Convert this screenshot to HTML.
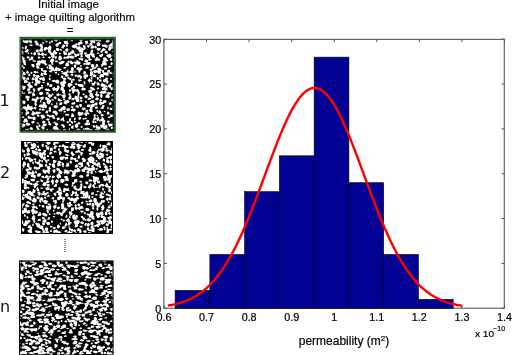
<!DOCTYPE html>
<html><head><meta charset="utf-8"><style>
html,body{margin:0;padding:0;background:#fff;}
svg{display:block;}
</style></head><body>
<svg width="512" height="355" viewBox="0 0 512 355">
<defs><filter id="bl" x="-5%" y="-5%" width="110%" height="110%"><feGaussianBlur stdDeviation="0.3"/></filter></defs>
<rect width="512" height="355" fill="#fff"/>
<g font-family="Liberation Sans, Arial, sans-serif" font-size="11.4" text-anchor="middle" fill="#000" stroke="#000" stroke-width="0.15">
<text x="68.5" y="8">Initial image</text>
<text x="70" y="21.4">+ image quilting algorithm</text>
<text x="70" y="34">=</text>
</g>
<g font-family="DejaVu Sans, sans-serif" font-size="16" fill="#111">
<text x="-0.6" y="105.7">1</text>
<text x="0" y="178.2">2</text>
<text x="0" y="311.5">n</text>
</g>
<rect x="19.5" y="36.8" width="96.4" height="96" fill="#246424"/>
<svg x="21.3" y="39.3" width="92.4" height="91.4"><rect width="100%" height="100%"/><path fill="#fff" filter="url(#bl)" d="M-1.6-1.4l2.9-0.6 0.6 2.4-3.1 0.5zM1.9-0.3l1.2 1.0-0.4 2.5-1.7-0.9zM9.9-0.9l0 1.8-1.4 1.4-1.3-1.7-0.2-2.0 1.0-1.0 1.1 0zM8.6-2.7l1.7 0.3 0.5 3.1-1.8-0.1-1.6-1.4zM20.9-1.0l-0.7 1.5-1.5-0.8 0.3-1.3zM21.2-1.5l3.5 0.2 0.9 2.2-4.4 0zM31.1-1.1l-1.9 1.2-1.5-1.7-0.2-1.4 2.9 0.4zM32.6-2.1l1.7 0.5-0.3 2.0-1.0 0.2-1.7-0.8-0.3-1.0zM32.6 1.3l0.2-2.8 2.9 0.5 1.5 1.4-1.9 2.1zM38.7-2.6l1.2 2.8-1.9 1.0-1.3-2.5zM40.2-2.4l0.8-1.3 3.3 0.3 1.0 1.5-1.6 1.9-2.5-0.5-0.7-0.4zM45.7-2.3l0.6-1.5 1.6 0.8 0.7 2.7-0.7 0.9-1.7 0.6-0.7-1.7zM51.5 0.9l0.4 1.0-1.1 0.1-1.5-0.3-0.1-1.2 1.4-0.2zM54.5-1.4l1.8-2.2 1.9 2.0-2.8 2.0zM61.3 1.5l-2.0 0.8-1.4-1.3 0.2-2.1 2.4-0.3zM63.2-2.1l1.4 1.5-2.0 1.3-0.8-1.9zM68.6 0.2l1.3 0.0 1.3 0.1-0.5 1.2-0.7 1.3-1.5-0.8-0.6-1.3zM73.4-1.2l0.6 2.2-0.2 2.9-1.3-0.3-2.0-1.9 0.9-1.9zM74.2-0.0l1.9-0.1 2.1 0.8-1.1 1.2-1.4 0.4-1.7-1.1zM78.8 0.4l1.1 0.5 0.2 0.5-0.7 0.8-1.0 0.2-0.9-1.1 0.3-0.7zM83.2 0.3l-1.6-1.1 2.0-1.1 1.2 1.3zM84.8 1.3l2.0-1.9 1.7 1.9-1.1 1.9zM91.9-0.4l1.0 0.8-0.8 1.7-1.0 0.1-0.2-1.7zM4.4 3.6l-2.1-0.5-0.7-1.2 2.8-0.9 1.6 1.5zM4.8 4.1l-0.5-1.5 0.2-2.2 1.7-0.2 1.3 0.9-0.3 2.1-1.3 0.5zM10.2 4.5l-2.8-1.7 1.5-2.2 1.8 0.8zM16.4 3.1l-1.1 0.5-1.8-0.2-0.4-1.5 0.7-0.7 1.9 0.3zM17.6 6.1l-2.0 0.4-1.9-1.9 0.9-0.6 1.7-0.8 1.0 0.5 0.2 1.4zM21.1 4.2l-0.8-0.7 0.9-0.8 1.1 0.3 0.9 0.8-1.1 0.7zM25.8 1.4l0.8 1.2-1.9 0.5-0.6-1.2zM27.8 4.3l0-0.9 0.2-1.1 1.1 0.2 0.4 1.0-0.4 0.9zM31.3 3.0l-0.9 0.3-0.7-0.9-0.3-1.1 1.7 0 0.6 0.3 0.2 0.7zM36.8 3.6l0.8 0.5-0.1 1.4-0.4 0.3-1.5 0.1-1.0-0.8 0.5-0.9zM37.8 5.0l-0.9-1.1 0.7-1.3 1.3-0.1 0.8 0.3 0.2 1.3-1.2 0.8zM46.0 2.2l0.0 2.5-1.4 0.3-2.2-1.0 0.6-2.2 1.6-0.5zM44.2 4.6l-0.5-1.8 2.4-1.3 1.3 3.2zM55.8 6.1l-0.6 0.3-1.3-0.9 0.3-1.1 1.4-0.7 0.7 0.8zM56.1 5.5l0.9-2.5 2.1 0 0.3 2.0-1.5 1.5zM58.2 4.2l0.1-1.7 1.2-0.3 1.4 0.1 0.5 1.9-1.0 1.1zM63.6 1.6l2.8-0.3 0.5 2.6-2.4 1.7zM68.7 6.7l-0.8-2.1 0.9-0.9 1.0-0.8 1.5 1.0-0.3 1.9-1.1 1.1zM69.8 3.5l-0.4-1.4 2.3-0.5 1.2 1.6zM79.4 5.1l-1.1 1.7-1.8 0.2-0.8-0.5-0.5-2.6 2.8-1.1zM78.2 5.4l-1.8-0.3 0.6-2.7 1.0 0.9zM84.3 2.4l1.3-2.0 1.2 0.9-0.9 2.3zM88.2 5.1l0.8-0.7 2.2-1.1 1.2 1.6 0.1 1.4-2.4 0.6-1.4-0.4zM90.4 5.8l0.5-4.0 2.9 0.9-0.3 3.4zM0.9 10.0l-1.5-2.3 2.3-0.5 0.9 1.7zM5.9 7.2l-0.3 1.8-1.6 1.5-0.6-1.2 0.1-1.5 0.8-1.7zM8.2 5.1l2.8 0.1 0.2 1.4-2.8 0.2zM19.0 4.5l2.0 0.2 0.3 2.3-2.1 0.5-1.5-1.0zM21.7 7.8l-0.3 1.7-1.8-0.7-0.7-1.3 2.6-1.1zM22.5 9.1l1.0-1.3 1.8-0.2 1.1 0.7-0.2 1.7-1.9 0.4zM28.5 11.6l-2.5-1.7 0.8-2.1 2.0-2.0 1.4 2.4-0.3 2.0zM33.9 6.3l0.6-1.8 2.0 0.1 1.0 1.2-0.9 1.5-0.9 0.5zM42.7 7.7l-0.3 1.6-1.1-0.1-0.8-0.7-0.7-0.9 1.3-0.7 1.1 0.0zM40.9 6.6l0.7-1.6 2.7 0.6-0.8 2.3zM46.3 7.3l-1.5 0.4 0.2-3.1 1.8 0.5zM50.1 7.1l1.7-1.7 2.0 1.4-2.5 1.6zM53.2 9.3l-1.8-1.1 0.5-1.7 1.6-1.9 0.7 0.5 2.0 2.3-1.4 0.7zM55.7 7.6l3.0-0.9 0.9 1.2-1.3 2.2-1.7 0.4-2.1-1.3zM61.8 5.9l1.6 0 0.9 0.5 0.0 1.2-1.8 0.9-0.8-1.0-0.4-0.5zM64.7 8.3l-0.5 1.3-1.4-0.1 0.3-2.6zM66.9 8.8l-1.3-2.0 0.6-1.1 1.5-0.1 0.7 1.9zM69.9 7.2l1.4-1.2 1.2 0.8 0.8 1.1-1.6 1.2-1.9 0.4-0.9-0.9zM73.2 6.9l1.5-0.7 0.9 1.9-0.7 1.4-1.4-0.9zM80.3 5.6l2.0-0.3 3.0-0.1 0.2 1.5-2.1 1.1-2.6-0.3zM85.8 8.5l-1.3-0.1-0.7-0.3-0.1-1.4 1.0-0.5 1.6 0 0 1.7zM89.7 7.1l-1.4 0.7-1.4-0.9 0.5-1.2 1.2-0.8 1.8 1.3zM94.2 7.1l-1.3 2.0-2.6 0.5-0.4-2.5 2.5-1.2zM-0.9 12.3l0.4-1.2 1.9 0.1 0.9 1.9-1.9 1.1-0.9-0.8zM5.2 13.2l-1.7-0.4-0.5-1.2 2.2 0 0.5 0.7zM5.4 9.9l1.2-0.2 1.0 1.3-1.0 1.5-1.1 1.0-1.5-1.5 0.1-0.6zM14.3 12.1l0.3-1.1 1.0-1.0 2.0 0.5-0.1 1.1-0.2 0.9-1.8 0.6zM17.6 11.1l1.4-1.8 1.7 0.3-0.3 3.0-1.9-0.1zM22.1 12.2l-2.5-0.2-1.2-2.1 2.3-2.2zM22.0 10.1l0.5-0.7 1.3 0 0.9 0.5 0.2 0.6-1.2 1.1-0.7-0.4zM29.4 13.0l-1.1 0.6-1.2-0.3-0.4-1.3-0.1-1.1 1.6-0.3 1.3 0.7zM33.1 10.5l1.4 0.9 0.0 1.9-2.3 0.7-0.6-1.7zM35.8 8.4l1.9 0.9 0.5 1.4-1.7 1.5-1.7-1.3-0.3-1.6zM40.6 10.7l-0.6 1.1-1.2-0.7-0.5-0.7 0.5-0.6 0.6-0.3 1.4 0.7zM41.9 12.6l0.1-0.9 1.0-0.2 0.7 0.6 0.2 0.8-0.6 1.1-1.4-0.6zM43.7 10.3l2.2-1.7 1.6 2.2-1.0 1.4-2.0 0.2zM50.4 12.8l1.0-2.6 1.9 1.7-0.8 2.0zM58.5 13.3l-1.5-1.5 0.4-1.6 1.7-0.5 0.9 2.7zM62.4 10.0l-0.5 2.8-1.6 0.7-1.2-1.4-0.4-2.3 1.5-1.8 1.2 0.8zM64.0 9.4l-0.7 1.2-0.9 0.0-0.4-2.7 1.7-0.6zM71.5 10.3l0.5 1.1-0.3 1.0-0.2 0.7-2.2-0.2-0.4-0.9 0.9-1.1zM76.8 8.4l2.8 0.5-0.5 1.6-1.7 1.2-2.2-1.3 0.7-1.7zM80.2 10.6l1.7 0.9-0.9 1.6-1.6 0.3-0.4-1.5zM83.1 9.3l1.2 0.7 0.1 0.7-1.9 1.0-1.6-0.4-0.5-1.5 1.5-1.1zM88.2 7.0l2.2 1.5-0.9 1.8-1.4 1.3-0.9-1.2-0.4-1.3 0.4-1.0zM89.7 9.8l-0.3 1.5-2.4-0.1 0.8-1.9zM92.4 12.9l-1.7-0.1 0.7-1.7 1.3 0.7zM-0.3 14.9l-1.1-1.7 2.0-1.0 1.5 1.1-0.2 1.9zM6.2 14.5l0.3-1.3 1.3-0.2-0.6 1.9zM9.9 12.9l1.2 0.7 0.1 1.0-1.1 0.7-0.9-0.9zM14.7 13.5l0.0 2.0-0.8 0.4-1.2 0.1-0.9-1.1 0.6-1.5 0.6-1.0zM15.9 13.8l1.3-0.6 1.0-0.3 0.8 2.3-0.6 1.0-1.7-0.3zM18.6 15.3l2.9-2.3 2.6 2.5-3.0 1.3zM25.2 14.3l0.4 1.0-0.9 1.3-0.9-1.0 0.3-1.0zM28.0 11.6l1.9 0.4 0.4 1.9-2.2 0.2zM31.0 16.7l-2.6-1.9 1.1-0.8 2.0-0.9 2.0 0.9-0.5 1.3zM36.0 12.8l-0.5 2.1-2.3 0.3 0.3-2.3zM39.3 14.7l-0.5 0.6-1.3-0.3 0.2-1.3 0.5-0.6 1.4 0.8zM45.7 13.3l-0.1 2.1-2.4 0.3-1.2-1.0 0.3-1.9zM48.2 16.1l-1.8-0.2 0.7-2.8 2.4 0.1 1.0 1.5zM51.8 10.4l0.8 3.8-2.5 0.6-1.2-2.3zM53.3 15.6l-0.8-0.6 0.6-1.6 0.9 0.1 0.2 1.2-0.3 0.7zM55.2 15.2l1.2-1.0 1.7 0.1 0.3 1.4-1.6 1.2-1.6-0.6zM62.0 13.7l-0.9 1.7-1.1 0.7-1.1-0.9-0.6-1.1 1.2-1.2 1.8-0.1zM65.4 14.7l-0.8 0.9-1.9-0.8 0.1-1.4 1.7-0.5 1.2 0.5zM69.5 12.6l1.8 0.6 0.1 2.4-1.9 0.6-1.5-1.6zM72.0 14.0l1.6 0.9-1.1 3.0-1.8 0-1.1-3.3zM75.8 13.1l1.2 0.1 1.0 0.7-0.6 0.5-1.4 0.1-0.7-0.6zM80.3 14.4l1.4-0.3 0.2 1.9-1.2 1.1-0.7-1.3zM83.4 13.7l0.1-1.7 2.0-0.8 1.1 2.0-0.1 1.3zM87.4 15.0l1.3-0.8 1.6 1.8-0.1 1.2-1.8 0.1-1.8-0.9zM91.8 15.1l0.8 0.0 0.6 0.9-0.2 0.8-1.1 0.8-0.8-1.2zM1.5 16.4l0.5 3.1-3.2 0.0-1.2-2.4zM1.4 21.7l-1.0-2.3 1.4-2.0 1.5 1.3-0.2 1.9zM7.9 17.2l0.4 1.1-1.0 1.0-1.9-0.3 0.0-1.3 0.8-0.7zM9.7 17.1l2.6 0.4-1.0 3.3-2.6-0.6zM19.0 18.9l-1.9 0.5-0.7-1.3 0.1-0.7 2.1-0.3 0.4 0.9zM20.9 17.6l1.4-0.6 1.2 0.9-0.7 1.0-1.3-0.1zM29.8 18.1l-1.8 1.4-1.6-1.4 1.7-1.1zM32.9 18.6l-2.1-0.1-1.2-1.4 0.8-2.7 2.0 0.1 1.1 1.9zM33.4 17.5l1.7-1.1 0.5 1.8-1.0 2.0-0.8-0.9zM40.5 18.0l0.5 1.4-2.2 2.0-1.5-0.7-0.3-2.3 0.9-2.2 1.8 0.6zM43.0 17.2l1.2 0.4 0.6 1.3-0.9 0.5-1.6 0.0-0.2-1.3zM45.1 19.3l-1.3-1.1 1.4-1.1 1.6-0.8 2.4 0.6-1.2 1.5-1.3 1.3zM51.1 19.5l-2.6-0.6-0.5-1.3 1.9-1.5 1.9 0.4 0.9 1.3 0.3 1.4zM53.1 17.6l0.3-3.1 2.4 1.0-0.4 2.5zM60.2 17.9l0 2.2-1.9 0.7-1.6-1.7zM58.8 16.9l1.3-1.4 1.6 1.2-0.9 1.5zM65.7 15.3l0.7 1.9-1.4 0.6-1.2-0.7 0.0-1.5zM65.0 15.8l1.2-1.2 2.4 0.1 0.2 1.5 0.0 3.0-2.0 0-1.5-0.9zM71.7 18.5l0.4-1.5 1.6-0.3 0.0 1.6zM77.2 18.9l-0.3 2.0-1.9 0.2-1.1-0.1 0-1.2 1.0-1.9 1.0-0.1zM77.5 15.8l0.9-0.7 2.5 0.4 0.0 0.5-0.1 1.5-1.8 0.5-0.7-0.9zM86.0 20.0l-1.6 1.3-2.0-0.4-0.8-1.8 0.6-0.9 2.4-0.2zM87.9 17.0l-2.3 0.5-0.6-1.6 2.4-1.1zM90.1 17.3l-0.8 1.1-2.0 0.4-1.2-1.7 1.1-1.3 1.8-0.2 1.2 0.6zM1.2 21.4l-0.5 1.9-1.5-0.5-0.3-1.3 1.0-0.9zM2.5 19.8l2.1 1.9-0.4 3.3-2.1-0.8-0.9-1.7zM8.3 21.3l-0.9-0.2 0.5-2.0 0.8 0.1 0.9 1.0-0.4 1.1zM12.2 20.1l0.5 0.6-0.2 1.1-0.2 0.8-0.8-0.3-0.1-1.1 0.5-1.3zM13.4 22.9l-0.8-1.0 0.5-0.9 1.3 0.4 0.1 1.0zM18.2 24.0l-2.6-0.3 0.5-2.3 2.5-0.4 1.4 1.4zM18.9 23.8l0.2-1.4 1.0-1.9 1.7-0.1 1.7 0.8-0.2 3.0-1.2 0.3zM23.5 20.7l1.3 0.8 0 1.1-1.8 0.5-0.2-1.1zM29.1 20.4l2.5-0.5 0.8 2.5-2.1 1.2-1.7-1.4zM29.6 22.8l-0.5-2.6 1.7-1.3 1.8 0.5 0.1 2.5-0.6 0.9zM35.0 21.1l2.0 0.9-0.9 1.1-1.4-0.3-1.8-0.9 1.1-0.7zM39.4 21.6l1.9 0.1 1.5 1.5-1.4 1.3-2.2 0zM42.8 21.8l0.8 0.8-1.3 0.8-1.6-0.4-0.3-1.1 1.5-0.5zM45.8 22.3l1.5-1.2 1.1 0.5 0 1.7-1.1 0.4zM50.7 22.0l-1.0 1.4-1.1-1.1 0.9-1.4zM52.8 23.9l0.2-1.7 3.3 0-0.7 2.9zM55.2 22.3l-0.5-1.1 1.8-0.4 0.7 0.9-0.3 1.1zM60.4 19.1l0.8-0.3 0.9 0.6-0.3 1.3-1.0 1.0-0.8-0.4 0.0-1.3zM64.7 22.9l-1.7-0.2 0.6-2.4 1.4-0.2 1.4 0.4 0.4 0.9-0.5 1.7zM69.0 21.5l-2.5-0.6 1.7-2.3 2.6 1.6zM73.2 20.3l0.7-0.3 1.6-0.2 0.5 0.9-0.6 1.0-1.6-0.3zM78.4 21.7l-1.9-0.7 0.8-1.9 1.7 0.7zM82.4 20.1l1.6 1.4 0.5 2.3-1.8 1.2-1.5-1.6-0.4-1.1zM83.0 21.7l1.3-2.4 2.8 1.8-1.6 1.3zM91.4 19.9l-0.9 1.5-1.7 0-0.1-1.4 0.8-1.2 0.6 0.2zM94.5 22.4l-2.9-0.2 0.2-2.0 1.9-1.1 0.9 1.3zM0.3 25.0l1.7 1.0-0.4 1.9-1.3 0.6-1.1-1.8zM2.2 25.2l0.4-0.7 0.7-0.3 1.4 0.1 0.1 1.1-0.2 0.5-1.4-0.3zM11.8 28.1l-1.8-1.6 0.3-1.7 2.2-0.2 0.8 1.3-0.1 1.8zM17.1 25.4l-0.8 1.5-1.9-1.2 0.8-2.0 1.6-0.6zM17.0 25.8l-0.3-2.4 1.1-1.2 1.4 1.3-0.2 2.0-0.5 1.2zM23.3 24.3l-1.1-0.4 0.0-0.8 0.7-0.5 1.3 0.3 0.6 1.1zM25.9 25.8l-1.7 0.4-1.2-0.7 0.1-1.8 1.4-0.1 1.3 0.8zM29.2 25.3l0.5 0.6-0.1 1.1-1.0 0.2-1.1-0.2-0.9-0.5 1.1-1.5zM29.9 25.4l0.5-2.5 1.4 0.1 0.1 2.4zM41.4 22.3l0.3 2.4-3.7 0.5-0.8-2.2zM46.7 23.0l1.4 3.0-2.3 1.4-2.1-1.5 1.1-2.5zM51.1 25.2l-2.2-0.7-0.3-1.6 1.8-0.9 2.6 1.1zM55.1 22.2l2.0 0.3 0.4 1.4-2.6 1.2-0.4-1.9zM58.6 25.2l-3.0 0.2-0.1-1.5 0.9-1.9 2.2 0.2 0.8 1.8zM59.7 27.9l-1.3-1.2 0.6-0.7 1.0-0.3 0.4 1.5zM65.1 24.1l-1.7 1.5-1.9-0.6 1.2-1.5zM68.8 22.6l0.8 2.3-2.6 1.0-2.4-0.4 0.4-2.5zM71.6 24.8l1.5 0.7-0.3 1.7-0.5 1.4-2.1-0.3-0.9-1.5 0.8-1.9zM74.4 25.7l1.0-1.3 1.5 1.1 0 1.2 0.1 0.8-2.2 0.0-0.4-0.4zM79.8 27.5l-0.1-2.2 1.0-0.7 1.5 1.4-1.2 1.4zM84.5 22.9l1.3 1.7-1.1 1.7-3.1-0.7-1.0-1.2 1.3-1.7zM91.0 25.6l-1.2 0.2-0.6-0.9 0.1-1.5 1.3-0.7 1.4 1.3zM2.7 29.7l-0.7-0.5-0.3-0.9 0.2-1.0 0.8-0.1 1.0 1.1-0.3 0.8zM17.9 27.2l-2.4 1.9-0.7-2.0 1.5-1.3zM17.0 27.5l1.3 0-0.1 0.9-0.4 1.2-1.2 0.2-0.6-0.6-0.2-1.3zM21.7 28.7l0.5 0.7-0.7 1.1-1.1 0.1-0.8-0.5-0.6-0.7 1.0-0.6zM26.8 27.5l0.2 1.6-1.3 0.1-0.6-1.1 0.8-1.3zM28.6 30.3l-1.3-1.0 0.7-2.3 2.1-0.8 1.8 1.7-1.3 2.1zM33.1 29.5l-0.7 2.3-1.9-0.4-1.4-1.9 1.2-1.1 1.8-0.4zM35.3 27.2l1.4 2.8-0.8 1.9-2.3-0.6 0.3-2.9zM37.4 28.2l3.0 1.9-1.6 1.7-1.6 0.2-1.7-2.4zM43.5 27.4l1.5 0.6-0.4 0.7-0.9 0.7-1.1 0-0.6-1.1zM52.2 32.0l-1.5 0.3-0.8-1.8-0.4-2.1 2.1-0.8 1.0 1.9zM54.4 28.8l-1.4-0.4-0.7-1.9 0.5-0.8 1.3-0.7 1.1 1.1-0.3 1.3zM55.4 30.5l-0.3-1.4 1.6-1.3 2.6 0.9-1.7 2.3zM58.0 29.3l1.5-1.0 0.7 0.3 1.4 1.1-1.3 1.1-1.9 0.3zM68.0 28.6l-1.6 0.8-2.6-0.2 1.0-1.7 1.4-0.3zM68.1 30.6l0.2-0.5 1.1-1.0 1.9 0.8-0.1 1.0-1.8 1.1zM70.3 29.9l0.3-0.8 0.7-0.9 1.6 0.7-0.1 0.9-0.7 0.3zM74.7 29.3l-2.1 0.2 0.7-2.2 2.3 0.3zM77.2 28.2l2.3 1.1 0.9 1.4 0.1 1.0-2.3 0.5-1.7-0.5-0.7-2.2zM85.5 30.1l-2.4 0.1-0.9-1.6 2.3-0.6 1.5 0.7zM87.6 26.5l2.9 0.7-2.1 1.2-1.9-0.4zM92.9 29.0l0.4-1.1 1.3 1.2-0.5 1.1zM-0.4 30.9l2.3 0.4-0.2 1.1-2.7 1.0-1.1-0.8zM1.6 32.6l0.6-0.1 1.2 1.3-0.8 1.2-0.6 0.3-0.9-0.2-0.2-1.2zM6.7 31.6l0.4 0.6 0.5 1.3-1.6 1.2-0.9-0.9-0.4-0.9 0.9-1.6zM11.0 34.7l-1.2 0.1-0.5-1.1 0.1-1.0 0.8-0.3 0.9 0.4zM15.4 33.2l-0.9 1.1-1.2-0.6-1.4-1.0 1.2-1.0 1.5 0.1zM16.5 34.0l-1.7-1.2 1.7-0.9 1.1 1.1zM22.1 30.8l0.1 1.2-1.0 0.0-1.3-0.2-0.4-1.3 1.1-0.4zM23.8 30.8l1.2 0.3 0.8 1.2-1.6 1.1-2.2-0.2-0.1-1.7zM31.2 31.8l-1.3 1.5-1.8-0.5-0.6-1.3 2.4-0.9zM33.9 30.0l0.5 1.6-1.5 0.6-0.5-1.4zM34.6 34.4l-1.0-0.8 0.0-0.6 1.2-0.9 1.0 0.7 0.3 0.3-0.6 1.2zM42.0 31.6l-0.2 0.9-0.7 0.9-1.5-0.8 0.1-0.8zM40.3 34.2l2.4-1.6 2.6-0.3 0.8 0.9-0.1 2.1-1.9 0.7-1.8-0.8zM47.4 31.7l-0.2 1.0-0.3 0.9-1.3 0.1-0.4-1.8 0.4-0.9 0.7-0.5zM50.4 31.3l1.8 1.0 0 1.3-2.4 0.3-1.9-0.6 0.4-1.4 1.4-1.0zM53.8 31.4l0.7 0.7-0.7 1.5-1.1-1.1zM58.6 33.5l-1.1-0.2-0.6-2.1 0.7-2.0 1.9 1.4zM63.0 31.8l1.4 0.5 0.5 1.7-1.9 1.3-1.1-0.4 0.2-2.6zM68.8 35.3l-0.3-0.9 0.8-2.5 1.9 0.1 0.5 0.8 0.5 2.3-2.2 1.9zM74.0 30.8l0.7 0.7-0.8 1.1-1.3 0.4-0.9-0.8 0.6-1.0zM73.0 30.8l2.1 0 1.4 0.8-1.2 1.9-2.6 0.5-0.3-1.6zM77.3 34.7l-1.4-1.5 0-1.0 1.7-1.3 1.6-0.1 0.6 3.1-1.0 0.3zM80.9 33.0l-0.1-2.2 1.0-0.3 1.1 0.9-0.1 1.1-1.0 1.7zM85.9 33.0l0.4-2.2 1.9-0.6 0.7 2.7zM90.0 32.4l0.7 2.2-2.6-0.1 0.1-1.7zM91.6 33.0l0.9 0.3 0.4 1.1-0.3 1.0-1.1-0.3-0.4-0.5 0.2-1.3zM1.7 35.9l-1.4 2.2-2.5-1.5 1.6-3.1zM3.8 33.3l0.8 2.2-2.3 0.7-0.9-1.2 1.2-2.3zM9.1 35.3l0.0 0.7-0.7 0.8-1.3-0.1-0.4-1.1 0.8-1.1 0.4-0.6zM12.5 38.0l-1.1-2.4 1.3-1.2 2.4 2.0zM17.6 38.2l-1.3 1.1-1.9-1.2 0.7-2.1 2.1-0.2 1.5 1.5zM21.7 37.0l-2.7-0.7 0.8-3.1 2.5 1.1zM25.0 35.9l-2.2-0.5-0.4-1.2 0.9-1.3 1.3 0.2 1.1 1.3zM27.9 35.8l1.5-0.1 0.1 1.4-1.9-0.1zM36.6 34.3l1.3 0.4-0.5 1.3-1.1-0.4zM40.3 36.2l2.0 0.3-1.0 2.8-2.1-1.3zM44.4 37.7l-0.8-2.0 2.0-0.9 0.6 2.1zM45.3 37.0l0.4-2.2 1.8 0.8-0.6 1.7zM52.2 34.7l-0.4 1.2-0.6 1.0-1.8-1.0 0.1-1.0 1.1-0.6zM53.8 35.4l1.8-0.2-0.2 2.2-1.3 0.3-1.0-1.5zM58.7 35.5l1.2 1.5-2.2 1.6-2.1-1.1 0.5-1.7zM66.9 36.1l-0.2 1.5-2.4 0.7-1.2-1.6 0.2-2.1 3.0 0.5zM68.0 36.5l1.1-1.1 1.7 0.4-0.8 1.2zM73.1 34.8l2.2 1.3-1.0 2.0-3.4-1.0zM78.0 36.6l1.5-2.2 2.8 0.7 0.5 1.5-0.4 1.5-3.3-0.6zM85.3 36.0l-3.3 0.0-0.4-2.4 1.8-0.6 2.0 0.0zM86.9 37.0l-2.5-1.0 0.1-2.7 3.1-0.2zM92.5 34.3l1.9 0.4 0.6 2.7-1.3 2.4-1.0-0.9-1.3-1.6zM-1.5 38.7l0.2-1.7 1.5-1.0 1.5 0.4-0.3 2.8-0.8 1.0-1.3 0.1zM4.4 39.0l-0.9 1.9-1.8-0.4-0.1-1.0-0.8-1.4 1.7-0.8 1.3 0.5zM4.8 40.5l0.4-2.1 2.2-0.4 0.5 2.4zM10.8 38.2l2.0-0.1 1.0 2.0-2.2 1.1-1.3-0.7zM16.2 42.9l-2.6-0.5 0.3-4.4 2.9 0.7zM22.0 39.8l-3.2 1.1-1.5-2.2 3.2-0.7zM23.7 40.1l-0.4 1.3-1.7 0.3-0.9-0.9 0.2-1.9 1.1-1.7 1.2 0.7zM29.5 40.7l-1.3 0.3-0.8-1.0 0.1-1.3 1.1-0.8 0.6 1.8zM31.7 41.9l-0.1-1.0 1.2-0.5 0.7 0.3 0.4 1.4-0.8 0.3zM42.6 38.3l0.9 0.0 1.5 0.7-0.3 0.9-1.0 1.0-2.0-0.8-0.7-1.1zM48.0 37.4l0.2 1.7-1.4 0.9-1.0-1.8zM50.3 39.3l-0.2 1.2-0.3 0.7-1.3-0.5-1.0-1.0 0.8-0.8 1.2-0.5zM50.2 40.9l1.0-1.4 1.7-0.3 0.6 1.8-0.8 0.5zM59.2 40.1l1.4 1.0-2.5 1.3-1.2-0.9 0.0-1.5zM60.6 36.9l0.2 0.5-0.2 1.4-1.0 1.0-1.0-0.3 0.2-1.7 0.6-0.9zM62.9 39.2l-0.7-1.1-0.1-1.8 1.4-0.1 1.9 0.8-0.8 2.9zM68.3 38.6l1.4 2.0-1.5 2.8-2.0-2.1zM70.6 40.8l-0.7-0.8-0.6-1.5 0.7-1.3 1.1 0.4 0.3 1.8zM75.7 37.6l1.5 0.3 0.5 0.9-0.1 1.5-1.4 0.5-1.0-2.1zM79.6 39.1l-1.2-0.1-0.6-0.3 0.1-1.0 0.8-0.8 0.7 0.1 0.6 1.0zM83.1 39.8l2.3 0.1 0.7 1.3-1.8 1.2-1.8-0.3-0.8-1.3zM86.4 40.7l-0.3 0.9-1.2-0.3-0.9-1.5 0.1-1.5 1.7-0.2 0.8 0.7zM89.2 40.6l-0.7-1.4 1.4-0.5 1.0 0.6-0.4 1.1zM-0.5 44.2l-1.7-0.4-0.1-1.3 2.5-1.3 0.1 1.4zM5.0 40.4l2.4 2.3-2.4 1.0-2.0-0.1-0.7-2.5zM8.2 46.1l-1.1-0.7-0.1-2.0 1.2-0.8 0.9 0.5-0.1 1.8zM10.1 43.4l1.0-1.3 1.3 1.1-1.3 1.1zM17.7 42.4l-0.9 2.1-2.0-1.0-1.0-0.9 1.3-1.4 1.9-0.4zM16.3 43.7l0.0-2.0 2.3-0.6 0.9 2.0-1.5 1.5zM23.6 42.9l-0.6 1.0-1.7 0-0.2-1.3 1.8-0.4zM25.5 43.3l1.9 0.2 0.7 2.2-2.4 0.8zM30.1 41.2l2.4-0.5 1.3 1.2-1.8 1.4zM34.2 43.4l-0.9-1.8 1.5-1.1 2.3 0.0 1.0 2.3-1.2 1.8zM39.7 45.8l-1.4-2.4 2.3-1.5 1.9 1.6zM41.8 40.9l1.8 0.0 0.9 0.7 0.6 2.2-1.2 1.0-1.8-0.1-1.1-0.8zM46.1 45.9l1.2-2.2 2.6 0.3-0.3 2.4zM51.0 43.6l-1.5 0.0 0-1.0 0.4-1.7 0.9-0.1 0.8 1.9zM56.3 44.3l-0.6 1.6-2.5-0.8 1.2-1.5zM62.2 42.1l1.0-0.2 1.0 0.6-0.6 1.2-1.5-0.4zM62.3 44.2l0.1-0.9 1.2-0.5 0.6 1.6-0.5 1.1zM69.4 40.8l1.3 0 0.5 1.1-1.2 1.0-0.8-1.0zM73.9 41.9l0.7 0.9-0.2 1.2-0.9 0.4-0.7-0.2-0.3-1.6 0.7-0.7zM75.6 45.3l-0.4-0.8 0.2-1.3 1.9-0.3 0.9 0.9-0.8 1.2-0.7 0.5zM80.1 40.3l0.3 2.1-2.5-0.5-0.3-1.7zM82.0 42.6l-0.3-2.4 2.5 0.4 0.3 2.6zM86.5 44.0l-1.3 0.8-0.3-1.4-0.1-1.1 0.6-1.7 1.2 0.6 0.8 1.7zM88.5 45.1l0.7-1.3 2.4 0.3-1.5 1.7zM94.1 44.5l0.1 1.9-2.5-1.0 0.4-1.6zM0.8 48.3l-1.4-1.3 0.7-1.0 2.7 0.7zM3.6 46.5l1.0 1.0-0.7 2.0-2.0 1.2-1.5-1.9 1.4-1.6zM5.3 45.7l2.0-1.5 1.4 1.5-1.5 1.4zM7.6 49.1l-0.8-1.6 1.1-1.0 1.2-1.4 2.2 1.3 0.2 1.4-0.4 1.0zM12.8 46.0l0.7-2.0 1.0-0.9 1.3 0.4 0.5 2.4-0.7 0.3-1.5 0.6zM18.6 49.0l-0.1-1.1 1.0-0.3 0.9 0.5 0.1 1.2-1.2 0.5zM19.9 45.6l1.5 0.0 0.2 0.9-0.1 0.9-1.5-0.1-0.4-0.7zM28.4 45.1l2.0-0.3 0.8 1.7-0.9 1.3-2.8-0.6zM37.6 50.2l-1.8-1.1 0.1-3.0 1.6-0.1 0.9 1.7zM42.4 47.6l-2.1-0.2-1.1-2.2 1.9-0.9 1.2 0.2 1.5 1.0-0.3 1.6zM46.8 47.3l-0.5-1.5 2.3-0.7 0.9 1.2-1.2 2.1zM50.3 44.1l0.8 0.7 0 1.6-1.9-0.1-0.9-1.7zM51.5 49.5l-0.5-1.5 1.5-1.5 1.2 1.0-0.2 1.8zM56.6 44.9l0.9-0.5 1.0 0.9 0.3 1.2-1.3 0.4-0.7-0.1-0.5-1.0zM62.9 46.5l-1.4 1.1-3.1 0-0.9-0.8 0.3-2.2 3.1 0zM71.5 48.9l-1.6 0.8-1.5-0.6 0.8-1.5 1.7-0.4zM70.7 46.2l-0.7-2.7 3.5 0.4 0.1 2.4zM78.0 44.0l0.6 1.6-2.1 0.9-0.8-1.1 0.7-1.3zM82.7 45.6l-0.8 1.9-2.4-0.2-0.4-1.7 2.0-2.3zM85.3 46.1l-0.8 1.0-3.0 0.5-0.9-1.3-0.7-0.7 2.0-1.2 2.0 0.7zM86.6 47.0l-0.3 1.5-2.0-0.7 0.6-1.7zM87.9 48.5l-1.3-1.5 0.3-1.2 1.4-0.9 1.0 0.1 0.6 1.4-0.3 2.1zM-0.5 50.7l-2.2-0.8 0.7-1.9 2.4 0.6zM6.5 52.1l-0.8-2.6 1.9-0.6 1.4 0.5-0.9 2.7zM12.0 49.1l1.3-0.4 0.2 1.3-0.2 1.2-1.3-0.2-0.4-0.5-0.3-0.8zM14.2 50.5l-0.7 2.3-1.0 0.4-0.5-2.3 0.5-1.0zM18.0 51.9l-1.4-0.8-0.7-1.3 1.0-1.3 1.4-0.3 1.1 0.8-0.5 1.8zM20.8 47.4l1.4 0.8-0.5 1.1-2.5 0zM26.0 49.8l-0.3 1.0-0.4 0.6-1.5-0.5-0.4-1.0 0.9-0.4 1.0-0.5zM29.5 51.3l-2.4 0.9-2.0-1.2 1.8-2.0zM34.4 50.6l-2.4 1.0-1.4-3.0 3.0-1.1zM33.3 50.3l0.6-1.3 0.9-0.5 2.4 0.6 0.1 1.6-1.4 1.3-0.8 0.2zM41.6 51.9l-2.5-1.2 0.2-2.5 1.4-1.0 1.7 0.8 0.3 1.6zM41.5 52.9l-0.4-0.6 0.4-1.7 1.4-0.6 1.0 1.1-0.6 1.9zM48.0 49.9l1.7 0.3 0.4 1.4-0.9 0.7-1.5-0.1-0.2-1.4zM52.3 50.4l-1.8 0.8-0.8-2.5 2.4-0.7zM54.2 52.2l-1.8 0.3-1.6-1.9 1.3-1.0 2.7 0.4zM54.8 51.6l-0.5-0.9 1.9-1.3 1.0 1.2 1.1 0.7-1.4 1.5-1.5-0.2zM63.1 48.4l1.7 1.2-1.0 1.3-3.1 0.3-0.9-1.2 1.2-2.1zM71.2 52.5l-3.2 1.2-1.4-2.0 2.6-1.5zM74.1 50.8l-3.7 0.7-0.8-2.1 2.7-1.2zM76.2 50.4l-0.9-1.8 1.7-0.7 1.0 1.5zM83.0 47.4l1.5 0.5 1.2 1.6-1.1 1.6-1.2 0-2.6-0.4 0-1.9zM86.4 50.4l-1.3 0.7-0.6-1.5 1.2-0.9zM92.1 50.5l-2.0 0.4-1.1-1.1 0-1.8 1.3-0.1 2.0-0.2 0.8 1.9zM94.4 50.5l0.6 1.5-1.7 1.2-0.6-0.2-1.0-2.5 0.7-0.4 1.2-0.4zM1.9 54.2l-2.3 0.7-1.3-0.3 0.2-2.1 1.8-1.0 1.4 0.6zM3.1 54.8l-1.3-0.2 1.0-2.0 0.8 0.9zM10.4 54.0l-3.5 0.5-0.2-1.8 3.3-0.7zM11.3 53.1l1.6 0 0.0 1.6-0.9 1.5-1.3-1.2zM13.2 54.4l0.9 0.6 0 1.0-0.9 0.6-1.2-0.7 0.0-0.5 0.3-0.8zM19.1 56.0l-1.1-0.8 0.4-0.8 1.5-0.2 1.2 1.0-1.0 0.6zM20.6 55.6l-3.2-1.4 0.8-1.3 2.5-0.6 1.5 1.9zM25.5 52.5l1.1 0.3 1.1 1.1-1.1 1.4-1.9 0-0.3-1.3zM29.1 56.0l-0.4 0.3-1.4 0.0-0.3-0.6 0.9-1.3 0.5-0.3 0.5 0.7zM31.3 53.9l1.2 1.3-1.2 1.3-1.2-1.7zM35.3 56.5l-0.3-1.9 2.8-0.9 0.2 1.9zM39.0 56.0l-1.0-0.3 0.3-1.3 1.4 0.5zM42.8 51.5l1.5 3.0-2.5 0-1.3-2.3zM48.5 56.1l-1.6-0.5 0.3-0.9 1.1-0.9 0.9 0.5 0.2 0.8zM52.6 51.3l0.7 0.9-0.6 2.1-1.3-0.1-0.6-1.0 0.2-2.3zM58.7 53.8l-0.8 2.4-1.7-0.6 0.2-3.1 1.4-0.6zM62.7 54.3l0.6 0.5 0 0.7-0.8 0.7-0.9-0.5-0.6-0.9 0.9-0.7zM72.1 55.0l-1.8 0.8-2.3-1.7 1.9-1.1zM76.5 52.0l-0.1 1.4-1.4 0.7-0.6-1.2 0.6-0.7zM83.8 53.6l-1.5 0.9-3.4-0.2-0.7-1.3 2.4-1.5 1.7 0.8zM85.7 53.9l-2.6 0.4-2.3-2.0 3.7-0.8zM88.4 55.1l-0.3 1.0-1.8 0.1-0.3-0.7 0.1-2.5 1.0-0.5 0.9 1.2zM89.5 53.0l0.9 1.3-2.2 0.6-0.9-1.9zM-0.9 54.8l1.6 0.6-0.2 1.4-0.7 1.2-1.6-1.0 0.1-1.5zM6.9 58.8l-2.3 0.1-0.7-2.1 2.1-0.7zM8.4 58.1l-0.5 0.8-1.6 0.8-1.5-0.8-0.9-1.3 1.3-0.8 2.9-0.1zM11.9 54.3l0.5 2.2-1.3 1.0-0.3-2.1zM15.5 57.7l0.4-0.7 1.0 1.3 0.0 1.3-0.7 0.9-1.3-0.8-0.1-1.3zM18.4 59.2l-0.6 0.8-1.0 0.1 0.1-1.7 0.8-0.7zM19.1 59.8l-0.4-1.8 1.2-0.3 1.7-0.6 1.1 1.2-0.8 1.7-1.8 0.9zM26.5 58.4l-0.4 1.4-1.3 1.1-0.7-0.7-0.1-1.4 0.1-1.4 1.7 0.3zM26.3 56.6l0.9-1.4 3.2 0.2 0.4 1.6-2.7 1.8zM35.4 58.8l-0.6 1.0-1.1-0.2-1.2-0.6 0.0-1.2 1.8-0.8 0.7 0.7zM37.4 55.3l1.0 0.4-0.6 0.9-1.7 0.5-0.2-0.7 0.6-1.0zM41.7 57.3l-1.9-1.0 0.6-1.1 2.5 0.5zM41.1 55.6l1.5-0.6 1.2 0 0.8 1.6-1.3 2.8-1.2-0.5-1.2-0.9zM49.4 58.4l0.9 1.0-1.8 0.9-1.1-0.2-0.6-1.4 0.4-1.0zM48.1 55.9l1.7 0.0 0.4 1.4-0.1 1.1-1.5 0.8-0.8-1.7zM53.0 57.9l1.2-1.7 1.5 0.6 1.1 1.7-1.3 1.9-2.3-0.6zM57.3 59.2l-1.3-2.9 1.2-1.2 0.9 2.2zM61.0 59.4l-1.7 0.5-1.2-1.5 0.7-1.3 2.5 1.2zM66.3 56.6l-0.1 1.9-1.4 0.5-1.7-0.9 0.2-1.5 1.4-1.1zM70.4 54.7l1.6 1.3-1.2 1.6-1.0 0.6-1.9-1.2 0.3-2.1zM70.2 56.7l1.1-1.0 1.5 1.6-0.8 2.0-1.7 0.1zM78.0 57.0l-2.9 0.3-1.5-1.9 1.5-1.6 2.7 1.5zM80.1 59.2l-1.3-1.9 0.0-2.2 1.7-0.8 1.1 2.3zM84.4 56.1l1.8-1.3 2.4 2.5-0.9 1.8-1.8-0.4-2.0-0.5zM93.9 55.9l-0.4 0.9-2.8 0.4-0.6-0.8 1.1-1.8 1.2-0.5zM-1.5 60.0l2.1 0.5 0 1.3-2.0-0.4zM1.1 64.1l-0.5-1.8 0.5-0.9 2.0-0.3 1.5 1.3-1.5 1.4zM6.0 61.7l-0.9-2.4 2.3-1.0 0.4 3.2zM10.0 61.2l0.9-2.3 3.0 0.6-0.4 2.2zM13.7 63.8l-0.8-2.8 0.9-1.7 1.3 0.1 1.0 1.8-0.2 1.0-1.0 1.4zM18.6 62.4l0.3-1.5 0.8-0.1 0.4 1.0 0.1 1.2-0.5 0.4-1.0-0.6zM27.7 60.0l-1.3 1.2-1.7-0.5 0.2-1.6 0.5-0.8 1.7 0.3 1.1 0.7zM27.2 59.8l1.1 0.2 1.6 1.5-0.4 1.8-1.2 0.1-1.8-0.1-0.2-1.3zM29.7 60.5l2.2-0.8 0.7 1.5-2.1 0.2zM36.5 61.7l-0.2-1.9 1.1-1.2 2.0 1.7 0 1.8zM39.6 62.0l-2.0-0.7 1.7-1.2 1.6 1.0zM43.0 59.5l0.8 0.6 0 0.8-1.2 0.3-1.1-0.9 0.8-0.9zM44.0 61.6l1.8-1.2 0.9 0 1.6 1.9-0.9 1.3-1.7 0.3-0.7-0.6zM51.1 60.9l-1.2-0.9 1.7-1.8 1.5 0.9-0.2 1.5zM56.2 58.6l0.6 2.5-2.9-0.7 0.1-2.0zM56.4 62.8l-1.8-0.6-0.3-2.7 1.6-0.6 1.3-0.1 0.8 1.0 0.0 3.1zM61.1 61.0l-0.2 1.3-1.1 0.3-0.8-0.6-0.5-0.7 0.6-0.8 0.9-0.1zM65.6 62.2l-0.6 1.9-0.8-0.5-0.5-1.6 1.1-0.7zM69.3 60.2l-1.8 0.4-1.7-0.9 1.8-1.6 2.4 0.8zM70.7 61.0l1.1-0.5 1.5 1.5-0.8 1.5-3.5 0.2-0.1-1.9zM75.9 61.0l-2.1 0 0.6-2.5 1.6-0.5 2.0 1.8zM77.8 60.8l1.8-1.4 1.4 2.2-2.4 0.1zM81.3 61.2l3.6-0.5 0.4 2.5-1.9 0.5zM91.7 59.4l0.8 0.6-0.9 1.4-1.8-0.3 0.4-1.5zM91.3 61.4l1.8-0.9 1.8 2.0-0.9 1.6-2.2 0.3zM0.7 64.8l-0.5 1.8-3.0-0.6 0.7-1.7zM1.2 63.8l-0.2-1.2 3.0-0.4 0.2 1.7-1.4 1.3zM8.0 65.8l-0.6 1.6-1.4 0-0.5-2.0 1.6-0.5zM14.2 67.3l-1.4-2.9 1.7-2.3 1.2 3.6zM18.3 65.5l2.4-0.5 1.3 1.8-2.2 1.3-2.5-0.7zM21.5 62.8l1.7-0.3 1.4 2.0-0.4 2.4-1.5 0.2-1.3-1.0zM25.2 63.5l0.6-2.2 1.6-1.1 1.3 3.1-0.2 1.5-1.3 0.5zM30.8 66.2l-1.0-0.7 0.5-1.8 1.4 1.0zM35.2 62.8l1.0 1.0-0.1 1.1-0.6 0.5-0.7-0.9zM38.7 63.2l1.5-0.6 1.0 1.9-1.0 1.1-2.1 0.4-0.4-1.3zM43.3 61.7l1.4-0.9 1.2 2.4-0.9 2.3-3.0-1.9zM51.0 63.1l1.1 0.2 0.3 1.1-0.5 1.1-1.8-0.2-0.1-1.4zM51.9 63.4l0.8-0.6 1.3 0.0-0.4 2.4-1.5-0.3zM58.1 66.9l-0.1-2.1 0.9-0.2 1.4 0.2 0.4 1.7-1.1 1.7zM65.8 67.8l-0.3-1.4 0.8-1.1 1.2-0.2 2.1 0.3-0.7 2.3zM73.8 64.5l-0.2 0.9-0.4 1.7-2.9 1.0-0.6-1.3 0.0-1.0 0.9-1.3zM74.5 63.1l1.8 0.2-0.2 2.6-1.7 0.2-1.4-1.6zM78.8 65.6l-1.4-1.8 0.6-0.9 1.1-1.3 1.3 0.9 1.0 1.8-1.8 1.4zM80.7 63.8l1.3-2.0 1.1 1.6-0.7 1.4-1.1 0.6zM87.2 64.8l0.9-1.6 1.1-0.6 0.7 0.0 0.5 1.5-0.5 1.0-1.3 0.7zM-0.9 68.2l1.9-0.2 0.7 2.1-2.0 0.8-1.3-0.5zM5.9 68.5l-0.1 1.0-2.4 0.5-1.3-0.7-0.9-1.5 1.1-0.7 2.2-0.4zM7.5 70.5l-2.0-0.6-0.2-2.2 1.9-1.1 1.2 0.2 1.5 2.2-0.8 1.4zM11.0 66.6l0.8 2.9-1.7 1.9-2.1-1.2-0.1-2.7zM12.9 67.4l2.4 0.9-0.9 2.0-2.7-1.1zM19.3 68.7l0.6 1.9-1.8 0.7-0.5-1.7zM19.7 67.9l1.7-1.7 1.9 0.4 0.3 1.4-1.9 0.9zM24.0 65.4l1.8 0.9-0.3 2.1-1.9 0.8-0.6-2.5zM27.5 68.1l0.8-0.5 1.1-0.2 0.5 1.3-0.3 1.8-1.0-0.2-1.4-0.4zM32.6 68.5l-0.4-2.0 3.3-1.1 1.5 2.0-1.9 1.7zM39.5 71.0l-0.4-1.4 0.3-1.3 1.8-0.4 1.1 1.5-1.4 1.5zM40.8 68.3l1.0-1.6 1.2 0.1 1.5 0.9-0.3 2.5-1.3 1.1-2.9-1.6zM48.3 69.0l0.3 2.5-2.9-0.1-0.6-2.2zM49.6 68.0l0.7-1.5 1.9 0.8-0.5 1.7-1.0 0.3zM57.3 66.3l-1.0 1.4-1.6 0 0.1-1.1 0.8-0.8zM54.0 67.5l0.6-1.2 2.5 0.1 0.7 1.3-1.6 1.0zM61.1 68.3l1.7-0.1 1.5 0.7 0.5 1.0-1.7 0.8-1.3 0.3-1.3-0.9zM69.2 67.1l1.1 0.2 1.1 0.2-0.4 2.0-1.1 0.1-1.2-0.5-0.4-1.2zM73.4 67.6l1.6-0.4 1.4 0.3 0.4 1.2-2.2 1.1-0.9-0.9zM81.4 67.7l1.4 1.2-1.6 0.8-2.0-0.2 0-1.4zM83.5 66.0l-0.8 2.2-2.1 0.1 0.1-2.4zM85.7 68.9l0.7-1.7 1.0 1.1 0.0 1.4-0.9 0.4zM88.1 69.6l1.1-1.3 1.9 0.8 0.3 1.3-2.1 0.3zM91.2 66.4l1.8-0.1 1.0 1.5-0.2 1.9-1.9-0.8zM0.3 72.8l1.6 0.2-0.5 1.3-1.2 0.4-1.5-1.2zM4.4 69.5l2.0-0.1 0.2 1.6-1.2 0.7-1.0-0.1-0.6-0.9zM7.2 75.0l-2.3-0.1-0.5-1.2 0.5-1.7 1.9-0.1 1.4 1.2zM11.1 71.7l1.8 0.4 0.5 1.2-1.4 0.5-1.3-1.0zM17.7 73.5l-1.1 0.6-1.8 0.3-0.8-0.3 0.6-1.6 1.3-0.4 0.9 0.2zM19.7 73.1l-0.8 1.3-1.4-0.4-0.8-0.6 1.6-1.2zM20.9 69.5l1.3 0.0 1.1 0.2-0.3 1.2-1.5 0.5-0.6 0.1-0.9-1.4zM26.5 74.2l-2.6-0.5 0.9-2.5 2.4 0.3zM27.2 71.5l0.5-1.6 2.0 0.6 0.2 1.5-1.5 0.6zM31.3 73.9l0.1-2.0 1.4-0.7 1.1 1.3-0.5 1.6zM41.5 71.5l-1.4 0.7-2.0 0.0-1.4-0.9 1.3-1.1 0.8-0.5 2.0 0.5zM44.7 71.8l-0.4 0.9-1.2 0.7-0.9-0.4 0.0-1.3 0.9-0.1zM46.2 69.8l0.5 1.3-0.3 1.2-1.2-1.1-0.1-1.2zM53.4 69.6l0.5 1.6-1.8 0.3-2.4 0.3-0.3-1.4 2.1-1.1zM51.6 69.5l2.3-0.4 0.5 2.2-1.9 1.1-1.2-0.8zM57.7 74.8l-1.0-1.1 0.2-1.1 1.1-0.1 1.0 0.1 0.4 1.1-0.6 0.8zM60.6 72.5l1.4 0.6-0.1 1.7-2.2-0.4zM64.4 72.5l-0.7-1.2 1.6-0.7 1.4-0.3 0.5 1.5-0.7 0.7-0.7 0.2zM71.3 70.4l-0.2 1.0-1.5 0.6-1.5-0.1-0.2-1.7 1.6-0.9zM71.4 71.3l0.2 1.6-2.8-0.1-0.1-1.4 2.0-0.7zM75.4 71.0l1.2-0.7 0.4 1.4-0.7 1.3-1.2-0.6zM80.4 72.9l-1.8 2.1-1.9-2.0 1.7-2.4zM84.2 72.3l-1.2 0.7-1.0-0.8 1.8-0.9zM96.9 72.0l-0.9 1.8-2.9-0.2-0.9-2.3 3.1-0.7zM1.0 75.8l-1.8 0.4-0.9-1.1 1.8-0.7zM5.7 74.0l0.2 1.9-1.2 0.2-0.7-1.6 0.6-0.8zM9.0 78.0l-1.2 0.1-1.1-0.8 0.1-0.9 1.6 0.5zM12.4 76.3l-1.8 0.0-0.8-1.9 1.8-1.5 1.8-0.1 1.5 1.9zM16.2 75.0l-1.0 0.1-0.5-1.1 0.6-1.0 1.2-0.3 1.2 0.6 0.7 1.0zM17.5 77.4l-1.5-0.2-0.4-1.7 1.2-0.3 1.9 1.2zM19.3 77.1l-0.2-1.1 3.1-0.8 1.9 2.3-0.6 1.1-2.7 0.1zM25.8 77.0l-0.6-1.3 0.6-0.7 2.0 0.4 0.0 0.9-0.9 1.0zM30.0 76.8l-1.1 1.5-1.0 0-0.8-1.6 1.4-1.3zM30.7 78.1l-1.5-0.9 1.4-1.6 1.1-0.1 1.3 0.7 0.5 1.5-0.9 1.0zM33.5 74.9l0.1-3.6 1.8 0.7 1.4 2.2-1.6 2.4zM43.9 75.5l0.5-1.2 1.4 0.5-0.4 1.4-1.2 0.6zM45.4 76.2l-0.1-1.6 1.3-0.2 1.0 0.9 0.1 1.2-1.3 0.0zM52.0 77.6l-2.4 0 0.7-3.5 1.5 0.1 1.5 2.8zM56.6 72.6l1.1-0.1 2.4 0.8 0.3 2.9-1.5 0.2-1.4 0.2-1.2-1.9zM62.7 74.8l-2.1 0.9-1.5-1.0 1.6-1.4zM66.0 73.8l-0.2 2.7-1.7 0.3-1.2-2.0 0.5-1.2 1.3-0.9zM67.6 75.1l-2.9-0.6 1.0-1.7 2.5 0.8zM74.3 77.2l-1.2 0.6-1.0-1.0 0.4-1.5 0.4-0.4 1.3-0.2 0.2 1.3zM77.1 76.7l-0.2 0.6-0.7 0.1-0.9-0.4-0.3-0.5 1.3-0.6 0.6 0zM80.1 77.1l-0.6-1.0-0.2-1.3 1.5-0.3 1.7 1.3-0.2 0.9zM87.3 72.5l1.1 1.3-0.1 1.2-2.3 0.5-0.8-1.2 0.9-2.0zM88.7 75.3l3.3-0.2 0.3 2.1-3.6 0.9zM91.7 76.3l1.1-1.5 2.8-0.4 0.6 2.4-2.0 0.6zM0.5 79.1l-0.9-1.9 2.6-0.2 0.9 1.2zM4.0 81.6l-1.7-0.6 0.6-1.4 2.1-0.7 0.9 1.1 0.0 1.4zM7.1 79.6l-1.0-1.5 0.6-1.4 1.6 0.1 1.6 1.3-0.6 1.3zM11.4 78.6l-1.0 1.0-1.0-0.1-0.6-0.6 0.4-1.4 1.3 0.1zM12.1 81.3l-1.5-2.9 1.8-1.1 1.8 0.5 0.1 2.4zM22.1 77.8l-0.2 1.9-1.2 0.2-0.8-1.2 0.5-1.3 1.1-0.8zM26.5 78.9l1.9 1.1-0.1 1.0-1.7 0.4-2.2-1.0 1.1-0.9zM31.6 79.1l0.1-1.5 1.0-0.8 0.4 0.6 0.7 1.1 0 1.0-1.2 0.4zM36.0 81.1l-0.6-1.7 0.1-0.7 1.2-0.7 1.5 0.8 0.6 1.1-1.3 0.8zM40.3 81.4l-1.5-0.3 0.5-0.8 0.3-1.2 1.6 0.2 1.5 0.8-0.8 0.5zM42.7 78.0l0.1 1.6-0.2 0.8-1.3 0.1-0.5-1.1 0.4-1.0 1.0-0.9zM50.0 78.4l-0.4 3.3-1.8 0.9-0.1-3.1zM54.7 78.9l-0.3 0.9-0.5 1.1-1.1 0.0-0.2-0.9 0.4-1.5 0.9-0.1zM56.9 79.6l0.7-2.0 1.5-0.2 1.0 1.9-1.8 1.3zM62.1 80.4l-1.2-0.6 0.6-0.9 0.8-0.3 1.1 0.5-0.7 1.0zM64.2 80.1l-1.4-0.4 1.0-1.5 1.5 0.2 0.3 1.2zM72.9 78.0l1.0-0.4 1.1 1.1-0.6 1.6-1.6 1.1-1.2-1.8zM77.3 77.8l1.0 2.7-2.7 1.7-0.8-3.2zM78.4 80.8l1.9-1.8 2.6 0.3-0.1 2.3-2.6 0.4zM81.5 77.8l0.8 1.2-0.7 1.1-1.4 0-0.2-1.8zM88.7 77.2l0.6 0.6-1.0 1.1-1.0-0.1-1.0-0.8 1.4-0.9zM0.2 85.6l-1.2-0.3-0.9-0.5 0.7-1.4 0.8-1.5 0.8 1.4 0.1 1.4zM1.6 82.8l1.1-1.9 1.9 0.9-1.2 1.9zM3.9 82.5l0.3-1.6 1.1-0.2 1.5 0.6-0.3 1.3-1.0 0.5zM9.9 82.7l0.8-1.0 2.0-0.1 0.9 0.5-0.6 1.7-1.0 0.5-1.4 0zM15.7 83.3l1.6-0.2 0.4 1.0-1.1 0.5-1.4-0.8zM20.7 83.2l1.2-2.1 2.3 0.8-0.4 1.4-1.5 1.4zM26.8 82.6l0.4-1.2 1.7 1.2-0.8 1.6-0.9 0.1zM34.2 83.5l0.3 0.5-1.4 0.2-1.2-0.6 0.3-0.6 0.5-0.6 1.4-0.1zM41.7 82.1l-0.2-0.8 0.4-0.9 0.7 0.0 0.7 0.5 0 1.2-1.1 0.2zM46.5 84.0l-0.8-0.3-0.6-1.4 0.7-0.5 1.4 0.3 0.9 0.3-0.3 0.9zM51.1 84.8l-1.6-1.3-0.2-2.1 1.8 0.2 0.9 2.1zM53.1 81.4l1.4 0.5 0.3 1.1-1.2 0.3-1.0-0.4-0.2-0.8zM58.8 84.4l-0.7 0.7-1.4-0.5-0.4-1.1 0.8-0.7 1.2 0.3 1.2 0.4zM67.7 81.0l0.1 1.5-1.2 1.8-1.3 0.0-0.5-2.9 1.3-0.9zM67.7 83.3l1.0 0.1 0.1 1.2-0.5 1.3-1.1-0.5-0.2-1.0zM72.9 81.5l0.3 2.0-1.1 0.4-1.3-1.3 0.6-1.6zM73.8 81.7l1.0 0.3 0.5 0.9-0.2 0.8-1.2 0.1-0.6-0.5 0.0-1.1zM78.3 80.7l1.4 1.2-1.4 0.6-1.0-1.0zM80.7 80.0l1.3-0.1 2.1 1.2-0.9 3.0-1.6 0.5-0.8-1.6zM88.6 81.5l-0.7 1.9-1.9 0.1-0.8-1.4 1.5-1.0zM92.4 81.3l2.7 1.1-0.3 1.3-3.4-0.6zM0.6 84.6l1.9 1.8-0.1 1.7-2.6 0.0-1.1-2.7zM0.5 85.3l0.5-1.1 2.4 0.4 0.8 2.0-0.8 0.7-1.6 0.3zM8.1 86.2l-2.3 0.3-1.7-1.2 0.2-1.1 1.5-0.9 1.8 0.3 1.6 1.4zM14.5 87.4l1.2-1.6 1.0 1.6-1.1 1.6zM17.4 87.9l-0.4-2.0 1.3-0.9 1.2 2.0zM19.7 87.6l0.9-0.6 2.1 0.2 1.1 2.0-2.0 1.0-1.5-1.1zM21.7 86.9l-0.8-1.0 1.4-1.8 2.6 0.1 0.8 0.8-1.1 2.0zM27.2 84.4l1.0-0.5 1.0-0.1 1.1 1.2-0.8 1.2-0.6 0.2-1.9-0.9zM34.9 86.5l1.8 1.6-2.5 1.3-3.1-0.5 1.4-2.3zM36.1 83.8l1.1 1.7-2.3 1.1-1.5-1.5 0.9-1.6zM41.9 84.6l0.9 1.0-0.5 1.4-2.4-0.3 0-1.4zM41.0 86.5l2.4-0.4 0.5 1.2-1.2 1.3-1.2-0.4zM49.5 84.8l0.3 0.8-1.0 1.1-1.1-0.3-0.3-1.3 1.0-1.0zM50.3 86.6l1.1-0.6 1.0 0.7-0.3 2.6-1.4 0.5-1.3-1.7zM53.2 86.2l1.5-2.1 2.1 0.4 0.2 2.4-0.6 1.2-1.2 0.5-1.3-0.6zM61.0 88.7l-1.4-0.2-0.6-1.0 1.1-0.7 0.8-0.1 0.4 0.9zM67.1 85.7l-2.2 0.4-1.9-1.1 0.9-1.5 3.3 0.6zM73.6 88.2l-1.0 0.4-1.4-1.6 0.3-1.0 1.7-0.1 1.1 1.1zM74.3 87.7l0.1-0.9 0.6-1.0 1.3 0.4 0.3 2.1-0.8 1.0-0.8-0.1zM82.9 87.7l-3.2 1.1-1.1-2.9 3.5-0.8zM80.7 86.7l-0.4-1.9 2.0-2.3 1.6 2.3-1.0 1.7zM86.0 88.4l-1.0 1.0-1.3-1.3-0.2-2.1 1.4-0.8 1.4 1.5zM86.9 84.0l2.6 0.4 1.9-0.4 0.2 2.3-1.3 0.3-2.4 0.8-1.1-1.6zM91.9 88.9l-0.7-0.8 1.3-0.9 1.0 0.6-0.1 0.8zM3.1 91.4l0.5-1.2 1.8-0.1 0.6 0.9-0.1 2.0-1.9 0.7zM7.2 92.0l-1.5-0.1-1.2-0.7-0.1-1.4 2.8-0.4 0.6 1.3zM11.8 90.6l-1.1 0.4-1.8 0.0-0.8-1.6 0.8-1.2 1.1-0.5 1.4 1.1zM15.9 90.6l0.2 1.1-1.4 0.0-0.2-1.6zM15.8 91.2l-0.2-1.3 0.2-1.1 0.8-1.2 0.9 0.8 0.5 1.0-0.8 1.9zM22.2 92.1l-1.8 0.3-0.8-0.9 1.1-1.0 1.1-0.6 1.5 0.7-0.1 0.7zM25.3 91.9l-0.7-1.2 0.3-0.7 1.6-0.6 0.6 0.9-0.1 1.5-1.0 0.0zM33.2 90.9l-1.8-1.2 1.3-2.2 2.2 0.2 1.5 1.1-0.6 2.1zM34.0 88.4l2.3 0 1.3 0.9-1.0 2.0-2.2-0.3-1.3-0.7zM40.0 91.5l-1.0 1.3-1.1-0.3-1.0-1.0-0.5-0.8 1.3-0.8 1.7 0.8zM41.8 92.6l-0.1-1.7-0.1-0.9 2.0-0.6 2.0 1.2-0.3 1.2-2.1 0.7zM47.6 92.2l-0.2-2.8 1.2-0.6 0.6 2.7zM54.9 90.6l1.2-1.4 2.8 0.4 0.9 2.8-2.5 0.7-2.4-0.5zM61.5 92.1l0.5-3.3 1.8 1.0 0.1 3.3zM63.4 89.0l2.9-0.8 1.9 0.9-1.3 2.3-2.2-0.1zM66.6 92.0l-0.5-2.3 2.8-0.2 1.7 1.2-2.1 1.8zM69.5 90.3l1.6-0.6 0.6 1.7-1.6 1.4zM73.3 89.9l2.5-0.8 0.3 1.7-1.7 0.8zM75.8 88.5l0.4-1.3 1.8-0.3 1.1 1.5 0.2 1.3-1.3 1.0-1.5-0.1zM82.4 86.3l3.1 1.4-1.2 2.8-2.7-1.2zM87.9 90.6l0 1.8-1.5 0.0-1.1 0.4-0.8-2.1 0.9-1.0 1.9-0.5zM89.4 87.8l1.9-0.9 1.4 2.1-2.7 1.1zM-0.7 94.4l-0.8-1.2 0.2-1.3 1.1-0.8 0.8 1.1 0.2 1.1-1.1 0.9zM5.4 92.8l-2.7 1.5-2.0-1.2 1.4-2.7zM15.7 91.7l-0.7 1.6-0.8 0-0.9-1.1-0.4-0.5 1.0-1.1 1.7 0.1zM17.4 94.8l-1.3-1.4 1.3-3.4 1.6-0.2 0.8 3.3zM21.2 93.4l-0.4-0.6 0.8-1.5 1.1 0.1 1.6 0.8 0 1.3-1.3 0.7zM31.3 91.5l-0.5 1.7-1.7 0.8-1.0-1.0-0.5-1.7 2.3-1.2zM33.6 91.1l1.8-0.3 0.1 1.8-1.5 0.7-2.3-0.5zM39.1 90.1l1.4 2.4-1.0 1.3-2.4 0.1-1.3-2.1 1.5-1.5zM44.3 94.1l-2.7-1.6 2.3-1.4 1.8 1.5zM52.6 90.8l2.5 0.2-0.4 2.2-3.3 0-0.2-1.6zM66.4 93.7l-1.4 0.6-0.9-1.5 0.1-1.6 1.1-0.7 1.9-0.4 0.3 2.0zM77.7 90.2l1.1 0.3-0.1 2.5-1.7 2.2-1.4-2.3 0.1-3.1zM88.5 93.9l-1.7-0.9-0.4-1.3 0.6-0.9 1.6 0 0.9 1.3-0.5 1.0z"/><rect width="100%" height="100%" fill="none" stroke="#000" stroke-width="2"/></svg><svg x="21" y="141" width="92" height="93"><rect width="100%" height="100%"/><path fill="#fff" filter="url(#bl)" d="M5.3 2.1l-0.5 1.3-1.5-0.1-0.3-1.7 0.3-1.2 0.6-1.0 1.7 1.1zM6.5 2.8l-0.5-1.5 0.5-1.7 1.2-0.5 0.8 0.7 0.1 1.6-1.4 1.3zM8.1 2.3l-0.3-1.7 0.2-2.3 1.9-0.4 1.4 2.1-1.3 2.1zM17.3 1.6l-2.0 0.0-1.8-2.0 1.0-2.0 2.5-0.9 1.0 3.3zM18.8 1.0l-2.3 0.6-0.2-2.4 1.3-2.0 2.4 1.5zM19.2 0.4l2.0-1.5 2.6 0.9-1.5 1.8zM26.4-1.9l-0.9 2.9-1.8-2.5 1.0-1.8zM25.1 2.2l1.0-2.8 1.8-0.5 1.5 0.3 0.3 2.7-2.1 2.1-1.2-0.4zM34.6 1.4l1.6-1.5 1.8 1.3-1.0 1.6-1.6 0zM48.4-0.2l-0.2 2.3-4.1-0.2 1.6-2.9zM53.5 1.0l-1.3 1.1-1.6-0.6 0.3-1.4 1.5-0.7zM52.9-0.3l0.8 1.2-0.8 1.2-1.4-0.2 0.2-1.9zM56.9-0.1l1.7-1.6 2.3 1.0 0 2.2-2.8-0.1zM61.2 2.3l-1.1-1.3 1.5-1.2 0.9 1.3zM63.6-0.3l1.2-2.0 1.3 0.8 0.7 0.6-0.1 1.5-1.2 1.1-0.8-0.4zM70.1 2.8l-2.0 0-1.5-0.9 2.0-1.4 1.6-0.4 1.1 1.2zM72.4-3.3l1.4 0.6 0.4 1.2-0.8 0.9-0.7 1.0-1.4-0.9-0.2-2.5zM76.3-2.2l1.4 0.6 1.0 1.7-0.9 0.9-1.0 0.1-1.0-0.8-0.1-1.2zM79.9-1.9l-0.5 1.9-1.9-0.4-1.3-1.3 1.7-1.3zM89.2 0.4l-0.9 1.4-0.8 0.2-1.2-0.9 0.9-1.2 1.1 0.4zM4.1 3.0l2.3 0.2 0.5 1.7-1.1 1.0-2.1-0.1-0.3-0.9-0.4-1.0zM9.4 3.8l1.1-1.9 1.5 1.2 0.0 2.3-1.0 0.7zM14.6 2.9l0.7 0.6-0.3 2.7-1.7 1.2-1.7-1.8 0.0-1.6 1.1-2.8zM20.6 4.3l0.2-1.7 0.5 0.1 1.7 0.6-0.3 1.2-0.2 1.4-1.2 0zM26.4 4.2l-0.1 1.3-0.3 0.7-1.5-0.3-0.3-0.8 0.8-1.1zM35.1 0.8l-0.8 3.8-2.2-0.9 0.5-2.8zM37.4 5.6l0.7-1.0 1.1-0.7 1.0 1.1-0.4 0.8-1.3 0.8zM42.7 6.1l-2.2 0 0.1-1.7 1.5-1.3 1.4 1.1zM52.8 3.5l-0.3 1.4-1.4 0.3-1.3-1.1 1.1-2.0 1.2 0.4zM52.6 2.4l1.1-0.7 0.8 0.3 0.2 1.6-1.0 0.6-1.4-0.5zM59.6 5.2l-1.2 1.7-1.2-0.7-1.5-0.3-0.5-2.7 1.9-0.9 1.6 0.9zM58.7 3.8l2.0-0.1-0.4 1.6-1.8 0.2zM65.0 3.8l-0.5 1.1-1.0-0.2-0.7-0.6 0.5-0.8 1.3-0.3zM71.4 1.9l1.6-0.3 0.3 1.7-0.9 1.7-1.7-0.5-0.9-1.7zM80.7 4.4l-1.1 2.1-0.9-0.7 0.2-3.0zM84.5 7.2l-2.3 0.1-1.4-2.8 2.1-0.6 1.5 0.0 2.2 1.7zM87.7 1.2l2.1 1.6-1.1 1.7-2.2-0.2-1.4-0.9 1.7-1.7zM-2.2 9.0l-0.9-1.8 2.0-1.2 1.8 0.4 0.8 2.6-1.0 1.2zM7.6 6.6l1.1 1.6-0.5 1.3-0.6 1.5-1.9-0.9-0.2-2.4 1.0-1.1zM13.1 7.3l-0.8 0.7-2.7 0.2 0.1-1.7 1.9-1.0zM15.4 6.7l1.4 1.8-1.7 1.6-1.3-1.7zM15.6 5.3l1.3-0.8 1.2 0.2-0.2 2.4-1.1-0.1zM24.7 7.1l1.7-1.3 1.8-0.5 0.1 2.1-0.7 1.6-1.9-0.5zM29.5 6.7l1.9-0.3 0.2 1.1 0.3 2.2-1.7 0.4-1.2 0.2-0.3-2.3zM32.5 7.5l0.4-2.1 1.0-1.6 1.1 1.7 0.1 1.4-1.1 1.6zM35.9 6.1l-0.8 0.4-1.6 0.0-0.1-0.8 0.7-1.5 0.8 0.4 1.5 0.8zM36.9 7.6l1.8-0.1 0.6 1.5-1.6 0.7-1.0-0.6zM43.2 4.2l3.3 1.1-1.5 2.6-2.3-0.5zM45.6 6.2l0.4-1.1 0.8 0.2 0.8 0.1 0.3 1.1-0.7 0.3-0.6 0.5zM49.8 4.9l2.2-1.0 0.6 1.0 0.0 1.8-1.6 1.0-1.9-0.7-0.8-1.1zM53.7 7.9l-0.8 0.4-1.0-1.1-0.3-1.1 1.5-1.6 1.1 1.1 0.2 1.1zM57.5 9.0l-1.5-2.1 1.9-1.8 1.8 1.5zM60.4 10.0l-0.7-1.3 1.2-0.7 1.2-0.3 1.1 1.0-0.2 0.9zM64.7 6.5l-1.8 0.6-1.3-1.0-0.3-1.5 1.9-0.5 1.5 0.3zM70.8 7.5l-2.1 0.5-0.8-1.6 1.7-0.4zM78.6 9.8l-1.4 0.1-0.2-1.3 0.8-0.9 1.3 0.8zM83.7 9.1l-1.9 1.2-2.0 0.1-1.3-2.6 1.4-0.3 2.0-0.9 1.7 1.2zM86.6 7.0l0.3 4.5-2.5-1.4 0.5-3.5zM90.2 8.3l0.4-1.9 1.6-0.7 1.0 0.8-0.1 1.7-0.6 0.7-1.9 0.1zM3.2 9.9l-1.6 0.7-1.6-1.5 1.5-0.9zM2.7 11.6l-1.1-0.3 0.0-2.0 1.4-0.1 1.0 0.4-0.2 1.6zM5.5 8.8l2.6-1.5 1.0 2.9-2.3 2.1zM10.6 9.1l1.6 0 2.5 1.2 0.1 2.4-2.2 0.5-1.2-0.8zM14.8 13.0l-0.6-2.4 3.0-0.2 0 2.3zM19.5 8.0l0.7 1.9-1.8 0.7-1.9-0.9 1.1-2.2zM24.4 11.8l-0.4 1.8-3.0 0 0.3-2.5 1.6-0.4zM24.6 11.0l-1.4-0.1-1.1-1.0 1.4-1.1 1.4 0.4 0.6 0.9zM31.0 10.9l0.5 1.4-0.7 0.7-1.0 0.7-1.7-0.4 0.3-1.7 0.5-0.8zM32.3 10.3l0.8-0.2 1.3-0.5 0.1 0.6 0.4 0.9-1.4 0.4-0.8 0.1zM34.1 10.4l0.5-0.6 0.9 0.4 0.3 1.0-0.3 0.3-1.0-0.1zM40.7 12.7l-2.2 0.7-0.6-1.7-0.2-1.1 1.4-0.9 1.4 1.0zM43.0 9.8l0.4-1.7 1.4-0.3 0.8 0.6 0.3 1.5-0.1 1.4-1.8-0.1zM47.6 11.7l-1.5 0.4-1.0-1.9 0.6-1.2 1.9 0.1 0.7 0.8zM49.7 13.2l-0.3-0.7 0.5-1.8 1.2-0.4 0.9 1.2 0 0.9-0.9 1.3zM56.1 9.8l0.7 1.8-1.1 0.5-1.8-0.5 0.4-1.3zM56.0 11.1l0.2-1.4 0.8-1.0 1.9 0.7 0.6 1.1-0.3 0.9-1.4 0.3zM61.2 10.9l0.6 0.5 0.3 0.9-0.8 1.2-1.6 0.2-0.4-1.8 0.2-0.7zM69.9 6.3l0.6 3.6-1.5 1.5-2.2-2.1zM70.9 10.2l2.0-0.1 1.7 0.7-0.3 1.6-0.7 0.6-2.8 0.7-0.4-1.8zM77.4 12.4l-1.6 0.3-0.3-1.8 0.9-1.7 1.0 0.3 0.2 1.6zM77.7 13.4l1.0-2.0 1.5 0.0 0.6 2.0-1.8 0.5zM79.4 9.2l0.9-1.8 2.2-0.1 1.2 2.1-2.2 1.5zM88.8 9.4l-0.9 0.9-1.5-1.0 1.5-0.9zM91.6 10.7l-0.8 2.0-1.8-0.7-0.5-2.0 1.8-1.2zM3.3 16.3l-0.8-2.6 0.6-0.9 1.7 0.5-0.3 1.8zM5.5 14.1l-0.1-1.9 2.5-0.5 1.5 1.5-0.9 1.3-2.6 0.5zM15.5 14.6l-2.1-1.2 0.8-1.2 1.9-0.3 0.8 0.4-0.1 2.1zM21.2 15.6l-1.5 1.6-1.6-2.3-0.6-1.5 0.0-2.0 2.0-0.5 2.0 1.9zM22.1 13.8l-0.3 1.9-1.8-0.8 0-1.2 1.7-0.9zM22.8 10.9l1.7 0.6 0.5 2.2-1.6 1.2-1.2-1.2zM28.3 16.0l-2.6 0 0.6-2.0 2.1 0.9zM39.9 14.3l-1.3 0.1-0.6-1.1 0.4-0.7 0.9-0.7 0.6 1.3zM41.9 14.9l1.6 0.5 0.0 1.5-1.8-0.4zM48.0 14.4l-1.7 1.2-1.8-1.2-0.3-1.4 2.5 0.2zM52.5 12.1l1.4 1.9-2.4 1.2-1.1-1.6-0.1-1.5zM53.5 13.0l0.7 0.5-0.9 0.8-0.6 0.4-0.9-0.3-0.3-0.9 1.3-0.5zM58.9 15.3l-0.1 2.2-1.2 0.4-1.0-0.9 0.3-1.4 0.6-1.5 0.6-0.4zM61.1 14.0l-1.0 1.1-1.0-2.0 0.8-2.3 1.9 0.8zM68.1 12.5l1.2-0.8 0.5 0.3 0.7 0.9-0.3 0.9-1.1 0.1-1.4-0.9zM69.9 17.2l-0.7-1.5 0.8-1.0 0.8 0.7 0.7 0.7-1.1 1.0zM75.4 15.3l-0.6-2.1 2.3-0.6 0.9 1.8zM76.1 15.1l1.5-0.5 1.4 0.7 0.2 1.2-1.8 0.4-2.5-1.2zM82.7 16.2l-1.4 0.7-1.4-0.3-0.4-3.3 1.1-1.3 1.4 0 1.2 2.3zM86.4 14.9l-1.2-0.8 0.2-1.3 1.0-0.3 1.0 1.3zM1.5 15.9l0.8 1.8-1.0 1.3-1.2 0-1.1-0.1-0.7-1.8 0.9-1.5zM4.1 18.4l0.0-2.2 2.1-0.4 0.5 1.9-1.1 1.1zM6.9 18.1l-0.6-1.7 1.4-0.5 1.1 0.4 0.7 1.2-1.5 0.9zM10.2 20.8l-1.1 0.4-1.5-2.5 2.2-1.5 2.1 1.1 0.4 1.6zM13.0 17.3l2.3 0.3-0.6 2.3-2.3-1.3zM18.8 21.6l-1.3-1.2 0.6-2.3 2.1 1.1zM20.0 17.0l1.1-1.7 1.5 0.9-0.2 1.1-1.7 0.7zM22.5 15.2l2.5 0.6-0.5 4.2-2.7-1.6zM28.8 19.4l-2.0 0.6-0.6-1.6 1.9-0.1zM30.9 17.5l-0.5-2.6 2.7 0.3-0.2 2.1zM39.5 19.0l-0.7-1.5-0.3-1.2 1.7-0.7 2.5 0.7 0 1.6-0.4 0.9zM43.9 18.7l-0.4-2.5 2.9-0.1 0.3 1.7zM46.8 18.5l-1.2-1.0 0.2-1.4 1.1 0.1 0.5 1.2zM51.3 19.0l-2.3-0.6 0.7-2.3 1.6-0.5 1.4 1.6zM55.2 18.1l-0.5 1.3-1.3-0.4-1.0-0.2-0.1-1.2 2.0-0.9 0.8 0.3zM62.9 16.7l0.5 0.4 0.7 1.2-1.1 0.5-1.9 0-0.8-0.7 0.7-1.2zM61.5 20.7l0.2-2.7 3.6 0.4-1.2 2.8zM70.4 17.4l-0.5 3.1-1.8 0.4-1.7-2.5 0.5-1.2 2.1-1.4zM70.9 21.2l-1.3-2.8 1.5-2.7 2.1 1.4 0.6 2.4zM76.7 20.0l-1.0 1.0-1.4-1.1 0.6-0.9 1.4-0.3zM78.6 18.7l-1.5-1.1-0.7-1.0 0.9-1.6 1.8-0.8 1.4 1.8-0.2 1.6zM82.2 17.2l2.0 1.5-0.6 2.2-2.2-1.7zM88.3 17.5l-2.2 1.5-1.2-1.9 1.8-1.2zM88.7 15.0l1.7-0.2 2.4 0.4-1.4 2.4-1.5 0.6-3.1-1.8zM93.4 20.3l-1.4-1.3 2.6-1.4 0.9 0.4 1.5 2.2-2.5 0.7zM5.1 24.1l-3.7 0.5 1.0-4.4 2.2 0.5zM11.3 20.7l1.8 0.2-0.6 2.1-1.4-0.6zM13.3 20.8l1.7-0.7 1.0 1.2-1.4 1.2zM18.9 21.9l0.3 1.3-1.4 0.3-1.9-0.3-0.5-0.8 0.9-1.7 1.6-0.2zM20.4 19.6l0.5-0.8 1.2 0.8-0.4 1.7-1.1-0.1zM25.9 18.4l1.0 2.9-2.1 1.0-0.6-2.7zM29.2 22.2l0.5 0.2 0.4 1.0-0.7 1.1-1.2-0.1-0.5-1.3 0.6-1.1zM33.8 18.9l2.0 0.9-0.8 1.8-2.2 0.7-1.1-1.5 0.3-1.7zM39.1 19.8l1.8 1.9-3.0 1.1-1.3-2.6zM42.9 22.3l0.2 2.4-1.6-0.2-1.0-0.2 0.5-2.7 1.1-0.2zM45.6 24.1l-0.3-2.2 2.8-0.2-0.1 2.2zM50.9 21.5l-0.4 1.2-1.9-0.8 0.1-1.8 1.8-0.5zM57.4 18.8l-0.3 1.9-3.3 0.2 0.8-2.5zM57.8 23.5l-0.8-1.3 2.1-1.2 0.9 1.0-0.3 1.6zM57.6 23.5l-0.3-0.6 1.0-1.2 2.3-0.3 0.1 1.0-0.2 1.7-1.0 0.1zM67.3 19.9l1.0 3.7-2.7 0.1-0.4-1.8zM69.9 22.4l-2.0-0.6 1.7-2.3 1.5 0.7zM72.9 23.9l-2.6-2.2 1.8-1.6 3.1 1.6 0.1 2.0zM76.9 22.9l-0.7 2.4-2.5-1.2 0.3-2.1zM76.5 21.4l2.2-0.1 0.7 2.3-1.6 0.9-1.8-1.7zM81.8 22.2l1.3-0.6 1.1 2.1-1.9 0.7zM87.9 19.6l0.3 2.8-1.6-0.3-1.7-1.2 0.5-2.1 1.5-0.2zM89.1 17.9l2.2 2.0-0.4 3.0-2.6-1.1zM2.8 27.2l-0.9-1.5-0.6-1.5 0.6-1.0 1.5-0.8 0.4 1.7-0.2 1.6zM6.2 22.1l2.2 0.2 0.1 2.5 0.4 1.3-1.8 0.3-1.0-0.5-0.1-1.6zM14.7 26.1l0.1 1.3-1.1 0.6-1.1-0.7 0.4-1.3 0.6-0.9 0.9 0.7zM17.8 24.2l0.8-2.0 3.3 1.1-0.2 2.7-3.5 0.5zM23.9 25.4l0.2-1.8 1.3-1.0 1.0 1.5-1.0 1.6zM25.6 27.3l0.8-2.5 2.8 0.7-0.8 2.6zM31.4 26.0l-0.8-1.5 0.4-1.5 2.3-1.2 0.8 2.3 0.2 2.4-1.1 0.7zM36.1 23.1l0.4-1.4 2.7 0.3 1.0 2.4-2.1 0.6-1.6 0.5zM37.3 24.8l0-1.6 1.7-0.2 0.6 1.6zM41.5 26.1l-0.4-1.1 0.8-0.5 1.0 0.7 0 1.0zM44.5 24.4l2.5-1.8 1.7 2.4-3.1 1.0zM54.3 26.7l-0.8-1.6 1.8-1.8 1.5 0.4 0.9 0.9-1.2 2.0zM60.4 25.6l-0.5 0.8-0.6 0.5-0.9-0.3-0.3-0.4 0.1-1.1 1.0 0.1zM62.3 25.6l-2.0 0.7-0.6-4.3 2.0-0.9zM64.1 28.4l-0.8-1.8 1.1-1.6 2.2 1.2 0.2 2.6zM68.2 23.2l0.8 1.1-0.4 1.2-1.2 0.2-0.8-1.1 0.0-1.5 0.5-0.2zM72.1 26.6l-1.8-0.5-0.2-1.1 1.1-0.7 1.5-0.2 0.1 1.5zM75.7 25.1l0.4-0.9 1.6 0.1-0.1 1.2-0.9 0.8zM78.1 24.4l1.1-0.5 0.7 1.4-0.2 1.4-0.9 0.3-0.9-0.7 0.1-1.1zM85.1 26.0l-0.6-0.2-0.7-0.4 0.1-1.0 0.4-0.9 0.9 0.2 0.2 1.2zM85.5 28.4l-2.5-1.9 0.9-2.8 3.2 2.1zM88.6 26.0l-0.6-1.0 1.9-0.5 0.8 1.4zM92.2 24.6l0.7 1.0-1.3 0.6-0.8-1.1zM-0.4 28.4l-0.1-1.0 1.9-0.4 0.5 1.2zM7.9 28.3l-0.9 2.3-1.3-0.2-0.7-0.8-0.6-1.7 2.0-0.5zM7.5 28.9l0.2-2.9 3.2 0.6-0.8 2.9zM17.3 27.9l-2.0 1.0-1.6-2.0 1.8-1.3zM18.5 28.1l-1.3 0.4-0.8-2.2 1.6-0.3 1.2 0.9zM23.1 28.1l0.5 1.6-2.3 0.3 0.4-1.4zM24.1 30.7l0.5-1.9 3.7-0.4 1.4 1.8-3.1 1.5zM29.7 26.8l0.0 1.3-2.0 1.3-1.4-1.7 0.5-1.6zM33.3 28.2l1.1 0.0 0.0 2.7-1.2 1.0-1.0-0.2-0.8-2.5 0.8-0.7zM38.9 29.5l-2.6 0.5-1.3-2.0 0.9-1.3 3.2 1.1zM40.5 29.6l0.5 1.4-1.1 0.8-2.6-1.1 1.1-1.8zM43.7 28.1l1.1 0.3 0.4 1.1-0.5 1.1-1.3 0.2-0.2-1.5zM42.8 30.2l1.2-1.0 0.8-0.5 2.7 0.3 0 0.8-1.5 1.3-1.5 0.7zM47.7 30.3l1.3-1.5 2.5 0.7-1.3 1.2zM55.5 29.2l0.6 1.4-1.7 2.2-1.9-1.1 0.4-2.8 1.4-0.9zM59.1 30.5l-2.0 0.7-1.2 0.2-0.7-2.8 1.5-2.0 1.4 0.8 1.4 1.7zM61.8 28.0l0.8 0.6 0.6 1.2-1.3 1.2-1.1-0.5-0.4-1.8zM65.0 27.6l-1.2 3.4-2.3-0.4 1.3-4.1zM65.8 27.5l1.9-1.0 2.3 0.5 0.2 3.1-3.1-0.1zM73.3 29.7l-3.2-0.2-0.3-2.5 2.7-1.3 2.0 1.2zM74.9 27.5l1.4-0.7 0.5 0.7 0.0 0.9-1.3 0.3-1.0-0.3zM81.0 30.5l-2.4 1.3-1.5-1.5 2.3-1.5zM84.0 31.6l-1.8-1.1 1.5-2.0 1.7 0.7zM86.9 27.2l1.8 2.3-2.9 1.5-2.3-2.5zM89.7 26.4l1.2 0.7-0.3 2.1-0.9 0.7-1.3-1.7 0.4-1.4zM9.0 30.7l1.3 0.5-0.8 2.4-1.6 0.3-2.4-1.6 1.2-2.5zM13.0 33.6l-1.5 0.2-1.7-1.0 0.7-1.6 1.1-1.9 0.6 0.4 1.5 2.2zM14.2 32.1l-0.4-1.0 0.9-1.5 1.1 0.8 0.4 1.0-0.8 1.3zM17.7 31.8l1.5 0.5 1.1 0.3-0.6 1.2-1.5 0.8-0.9-0.8 0.3-0.8zM23.7 30.6l-0.1 0.9-1.4-0.2-0.8-0.8 1.7-0.8zM25.3 32.5l-1.1 0.3-2.6-1.2 0.5-1.6 2.1-0.7 0.7 1.0zM29.2 32.3l-0.6 0.6-1.5-0.4-0.4-1.1 1.9-0.1zM37.2 34.9l-0.9-0.9 0.2-0.8 0.6-0.9 1.1 1.2 0.2 1.1zM41.5 30.9l-0.4 2.3-3.6-0.7 0.4-2.7zM45.1 31.5l-1.0 1.6-1.1-0.4-0.6-1.8 0.8-1.0 1.3 0.2zM47.9 29.9l0.9 2.2-2.5 1.3-1.5-1.9zM53.9 30.9l-1.3 1.5-1.1 0.2-0.5-2.0 0.7-1.3zM52.7 30.6l1.5 0.9 0.7 1.7-2.2 1.2-1.5-1.3 0.5-2.0zM68.5 30.6l0.2 1.2-1.3 1.2-2.3-1.5 0.6-1.3 1.1-0.8zM70.6 33.6l-1.1-1.2 0.2-2.4 0.9-0.1 1.3 0.2-0.2 2.5zM75.4 30.5l0.0 1.2-1.2-0.1-0.8-1.2 1.3-0.5zM80.6 28.8l1.7 1.5 0 1.5-2.6 0.1-0.9-1.7zM87.3 31.0l0.4 1.9-1.7 0.6-1.3-1.1 1.3-1.7zM92.9 33.4l-0.9 1.8-1.3-0.5 1.0-2.2zM92.2 33.6l-1.6-1.2 0.7-1.4 2.5 0.4-0.2 1.6zM5.2 37.7l-1.4-0.3-0.4-0.9 0.1-0.7 1.8 0.1 0.4 0.4zM7.3 34.5l-0.7 2.0-1.7 0.2-0.7-2.7 2.2-1.1zM11.4 36.2l-1.4-0.1-0.6-2.1 2.2-0.7 2.0 0.5 1.4 1.2-0.9 1.2zM14.3 37.6l-1.2-0.3-0.4-0.4-0.2-1.5 0.7-1.1 1.4 0.6 0 1.8zM20.4 33.5l-1.9 2.3-3.0-0.6 1.3-2.6zM23.0 35.0l0.6 1.6-1.0 0.6-1.9-0.6-0.7-1.3 2.0-0.6zM23.4 36.4l2.0-2.4 2.2 0.8-2.0 2.6zM28.1 36.5l-0.8-1.3 2.0-0.8 0.9 0.8-0.9 1.6zM31.4 37.2l-0.9-1.6 1.4-0.9 1.1-0.1 1.1 1.2-0.9 1.0zM38.0 37.9l-1.8-0.8-1.0-2.1 0.8-1.6 1.5-0.7 0.9 3.2zM40.6 36.0l-1.5 0.9-2.1-1.0 0.1-2.7 1.8-0.2zM47.0 37.5l-1.9 0.6-2.4-1.8 1.1-1.4 2.0 0.2 1.3 0.7zM52.8 33.4l2.1 0.9-0.5 0.9-1.7 0.9-1.7-0.4-0.7-0.9 0.9-1.8zM58.5 34.5l2.0-0.6 1.0 0.4 1.1 1.7-1.6 1.1-2.0-0.8-1.2-0.6zM67.7 35.3l-2.1 0.5-0.5-2.5 2.3-0.4 0.9 1.2zM71.2 35.8l0.6-0.9 1.8 0.1-0.1 0.9-1.2 0.6zM76.9 37.5l-3.4 1.8-1.6-1.4 0.5-2.3 4.0 0.1zM84.0 37.5l-1.2 0.6-1.1-1.9 0.6-1.2 2.3 0.1 1.1 0.7zM87.5 33.3l2.9 1.8-0.3 2.4-2.4 1.2-1.4-1.1-0.1-3.3zM89.4 34.3l1.9-0.5 0.9 1.9-0.8 0.6-2.5-0.1-1.1-0.9zM93.7 37.7l-1.2 0.7-0.8-1.7 0.2-1.9 1.7-0.1 0.9 1.3zM0.5 40.6l-1.8-1.2 0-1.7 4.0-0.2 0.1 2.5zM1.9 40.9l1.6-1.8 1.3 0 2.7 1.9-1.0 1.0-2.7 0.9zM10.3 40.1l-1.0-1.1 0.1-1.0 1.9-0.3 1.7 0.0 0.1 1.4-0.6 1.3zM12.4 37.9l1.8 0.3-0.4 2.0-1.6-0.2zM16.4 42.1l-2.1-1.0 2.4-1.7 1.7 0.8zM19.2 38.2l1.5 0.3 1.8 1.5-1.1 1.3-1.6-0.6zM24.8 40.7l1.4-1.7 2.5 0.9-0.3 1.7-2.5 0.8zM27.1 36.2l1.4 0.8-0.8 2.1-1.4 0.2-0.4-2.2zM29.5 40.3l2.4-2.3 1.3 2.5-1.2 2.5zM36.6 42.2l-1.8-0.1-0.9-2.0 1.8-2.1 2.1 1.4zM39.1 39.3l0.9-1.3 1.8-0.1 1.7 0.3 0.1 2.4-2.5 1.3-1.6-0.5zM43.2 39.8l-0.7 1.6-1.0 0.9-1.3-0.8-0.5-0.9 0.5-1.3 1.6-0.2zM44.3 37.2l3.0 0.0 0.9 2.5-4.0 0.4zM52.8 41.9l0.3-3.4 2.8-0.7 0.5 3.3zM60.2 42.1l-1.6-1.2-0.2-0.9 2.0-0.4 0.5 0.9zM67.6 39.0l1.7-0.7 2.3 1.3-1.4 0.8-2.6 0.2zM72.7 41.2l-1.2-0.9 1.1-2.7 1.7-1.1 1.4 1.2 0.3 1.9-1.9 2.1zM75.4 36.7l3.0-0.2-0.5 2.2-1.6 0.6zM78.5 39.4l0.8 2.5-2.8 0.7-1.1-3.4zM85.7 36.2l0.9 2.4-1.9 1.6-2.2-0.8-0.1-2.3zM89.6 40.1l-3.7-0.9 1.3-2.4 2.5 0.7zM89.7 41.4l-1.4 0.9-0.7-0.4-0.1-1.8 1.0-0.8 1.6 0.7zM2.3 42.3l-2.4 0.6-0.4-1.8 3.0-0.8zM3.0 45.6l-0.2-1.8 1.0-1.4 1.6 0.1 0.6 2.3-1.1 1.2zM5.6 40.2l3.6-0.1-0.4 2.2-1.1 1.3-1.9-0.6-1.3-1.1zM11.5 44.2l-2.7-0.6-1.4-0.9 1.4-1.2 1.8 0.2 1.0 0.8zM11.6 44.1l2.1-2.0 1.6-0.2 2.5 1.0-1.5 2.2-2.2-0.2zM22.0 42.9l1.4 1.0-0.1 1.1-2.5-0.7zM25.7 42.6l-1.2 3.0-2.9-0.8 0.5-3.3 2.5-0.4zM28.5 42.8l0.2 2.5-1.9 0.5-2.0-2.2zM32.1 43.8l-1.3-0.4 0.1-1.2 1.1-1.0 0.8 0.7-0.2 1.0zM35.1 45.6l-1.1-0.4-0.2-1.7 1.4-1.0 1.0 0.5-0.4 1.8zM47.1 44.4l-1.4 0.6-1.8-0.9-0.7-1.1 2.0-0.6 2.0 0.9zM50.7 45.7l0.0-2.2 1.5-0.6 0.1 2.1zM51.1 43.1l-0.4-1.7 1.8-0.3 1.6 1.1-1.3 1.0zM60.0 45.5l-0.4-0.9-0.7-1.5 0.9-0.4 1.2-0.7 0.4 1.1-0.1 2.4zM67.6 42.5l-2.1 1.0-1.6-1.5 1.2-2.0 1.2 0.4zM69.4 42.1l0.7 0.6 0.8 1.3-1.3 0.9-1.0-0.5 0.1-1.6zM71.9 46.2l-1.0-1.3 1.7-2.1 1.0 1.4 0.3 1.5zM74.0 41.0l1.0 0.9 0.1 0.8-0.9 1.0-1.0-0.3-0.4-0.8 0.4-1.0zM81.2 44.1l-0.7 0.8-1.4-0.1-0.2-1.4 1.6-1.0zM83.3 45.2l-1.1 0.2-1.6-0.2-0.3-1.6 1.5-0.5 1.0 0.2 0.8 1.1zM87.4 44.6l-0.7 2.5-2.0-1.1-0.9-1.6 1.9-2.8 1.5 1.9zM90.4 44.8l-0.8-0.4 0.9-1.2 1.1-0.4 0.6 1.4-0.5 0.8zM90.5 42.8l1.4-2.2 1.2 2.5-1.7 1.2zM-2.5 47.1l2.0-1.4 1.3 1.1-1.9 1.8zM4.3 43.7l2.1 2.8-1.4 2.3-1.9-0.8-0.4-2.1zM5.2 46.9l1.1-1.1 1.8 0.3 0.4 1.0-0.6 0.7-1.9-0.3zM15.3 46.2l-1.5 1.3-1.3-1.6 0.7-1.7 1.3-0.2 0.9 1.0zM18.6 49.4l-2.4 1.1-1.0-2.5 1.5-2.2zM19.8 46.5l2.2 0.0 0.1 0.9-1.2 0.7-1.8-0.9zM24.3 46.9l2.5-1.5 1.0 1.3 0 1.3-1.9 1.6-1.3-1.5zM26.0 46.9l2.5-0.2 0.3 2.1-2.4 0.5zM32.9 48.6l-1.4 0.3-1.1-0.8 2.1-1.0zM35.7 45.9l-1.9 0.2-1.2-0.5 0.3-1.2 0.9-0.7 1.9 0.7zM39.8 48.6l-1.4 0.5-1.5-1.6 1.5-1.6 1.2 0.9zM43.8 48.6l0.3-1.6 1.0-0.1 0.5 1.9-0.7 0.6zM48.0 47.3l0.1 1.9-2.3-0.2 0.0-1.8zM54.5 48.9l-1.2-0.3-1.2-2.1 0.4-0.9 1.4-1.0 1.3 0.6 0.2 2.1zM56.7 47.4l0.0 2.3-2.1-0.6 0.7-1.6zM59.0 45.1l2.2 0.3-0.4 3.9-1.2 0.6-1.3-1.6zM64.1 47.6l-1.7-1.2-0.1-1.1 1.5-0.2 1.4 0.2 0.4 1.3zM67.7 44.3l1.4-0.1 1.4 1.7-0.9 0.5-0.7 1.3-2.3-1.0 0.6-1.1zM72.8 45.7l0.7-0.1 1.2 0.7-0.3 0.8-1.5 0.4-0.5-0.5zM75.8 47.3l-0.8-1.4 1.4-0.4 0.5 1.1zM79.7 44.5l0 1.4-0.8 1.4-0.6 0.1-0.9-1.6 0.2-1.3 1.3-0.7zM81.8 47.0l1.3 0.4-0.3 1.6-0.5 0.6-0.6 0.1-0.7-1.4 0.1-1.0zM89.4 44.8l1.1 1.5-2.9 1.9-0.8-3.0zM2.4 48.9l0.6 1.9-0.6 1.8-1.1-0.8-1.2-1.9 1.1-1.4zM2.1 51.3l-0.9-1.0 0.5-0.8 1.2-0.7 0.8 1.3-0.1 1.4zM8.7 53.4l-2.5-0.9 0.3-1.6 0.5-1.0 2.6 0.2 1.5 1.4 0.1 1.6zM14.3 51.3l-0.7 0.7-1.7 0.2-0.5-1.8 0.3-1.6 0.9-1.1 2.1 1.8zM17.8 50.3l1.8 0.9-1.5 1.4-2.2-0.6zM24.1 50.1l-0.3 1.5-1.4 0.9-1.2-1.7 1.2-0.6zM27.8 52.0l-0.7 0.9-0.6-0.1-1.3-0.1 0.1-1.3 0.9-0.3 1.7 0.4zM29.1 47.4l2.3 0.1-0.1 3.2-2.3-0.5zM38.4 50.5l-0.1 1.2-0.5 0.3-2.2 0.1-0.4-1.2 1.0-1.2 1.1 0.1zM38.6 50.3l-1.6-0.9 1.7-2.4 2.2 2.5zM41.8 51.1l0.9-4.3 1.5 0.2 0.8 2.3-1.3 2.3zM45.2 50.0l-0.3-1.7 1.9-1.0 2.1 2.4zM53.9 51.5l-0.7 1.6-2.0 0.1-0.5-1.6 0.7-2.0 1.4 0.9zM53.7 50.7l2.3-0.4 0.4 3.3-2.0-0.2zM59.5 48.5l-1.0 1.2-1.2 0.4-1.1-1.8 1.7-0.8zM62.7 53.1l-3.6-0.2 0.5-2.9 4.2 0.0zM67.6 52.1l-0.8 1.4-2.6 0.4-0.9-2.0 2.9-1.9zM71.1 52.3l0.2-1.1 1.5-0.1-0.1 1.9zM76.7 51.3l-1.6-0.3 1.6-1.4 1.8 0.7zM81.8 51.5l-0.6 2.0-1.2-0.1-0.7-1.5 1.1-1.7zM83.4 49.9l1.2 0.8-0.4 1.1-0.5 0.4-1.0-1.0-0.3-0.7zM87.5 48.3l1.3-0.9 1.0 0.8 0.6 2.0-1.7 1.0-0.8 0.0-0.8-1.0zM90.4 52.5l-0.7-1.4 2.0-0.7 2.1-0.1 0.4 2.0-1.0 1.5zM-1.3 53.9l1.2-0.3 1.3 0.8 1.0 1.6-1.6 1.5-2.7-0.9-0.7-1.6zM2.5 55.2l-0.8-1.6 0.8-0.9 1.4 1.6zM3.7 56.4l-0.1-3.2 1.5-0.4 1.7-0.3 0.9 2.7-2.1 1.5zM8.8 54.6l-0.2-0.8 0.2-2.7 2.1 0 0.8 0.5 0.9 1.4-0.8 2.2zM12.7 53.3l0.8 0.8 0.5 1.5-1.2 0.2-0.8-0.9zM18.6 55.0l-2.2-1.9 1.5-1.1 1.9 0-0.4 1.9zM20.0 52.7l1.2-1.0 1.3 2.0-1.7 0.9zM22.7 51.9l1.6-0.1 1.1 0.4 0.8 0.8-1.1 1.2-1.1 0.6-2.1-1.1zM27.2 53.7l1.2 0.4 0.1 1.6-1.2 0.4-0.8-0.2-1.1-1.1 1.1-0.3zM33.9 51.7l0.4 0.1 0.4 1.2-0.5 1.6-0.7-0.1-0.8-1.3-0.1-1.1zM34.6 51.6l0.9 1.9-0.6 1.8-1.3-0.8-0.1-2.0zM38.1 54.6l-1.3-1.0 0.8-2.6 1.5-0.4 1.7-0.3 0.2 2.5-0.9 2.2zM46.8 52.0l1.1 2.2-1.5 1.5-1.4-0.1-1.1-1.5 1.2-2.3zM51.5 55.2l-1.0 0.1-0.8-0.2-0.2-1.4 1.3-0.7 0.9-0.3 0.5 0.9zM55.8 55.0l-1.4 0.2-0.5-1.0 1.0-0.8 1.3 0.5zM57.4 55.3l-0.8 0.2-0.7-0.7 0.0-1.6 0.7 0 1.0 0.2 0.2 1.4zM62.8 55.8l-1.4-2.1 1.7-1.9 1.3 1.9zM63.8 53.3l2.3-1.0 1.8 1.7-2.0 1.5zM68.4 57.0l-1.4-1.7 1.3-1.5 1.1 1.5zM72.5 53.9l-2.2-0.3-0.6-1.8 2.4-0.1zM75.6 53.1l1.4 0.5-1.3 1.2-1.5-0.6 0-1.1zM78.5 53.6l0.9-1.2 1.1 0.4 0.6 1.4-0.9 1.5-0.3 0.8-1.3-1.3zM83.2 52.6l-0.1 1.5-1.6-0.9 0.3-1.3zM87.1 54.8l-1.1-0.2-1.2-0.2-0.2-1.5 1.9-0.5 1.4 1.0zM86.8 53.9l1.3-0.7 1.8 0.7 0.3 1.5-2.4 0.2zM-0.1 58.3l0.1-1.3 1.8-0.5 1.4 1.0-0.1 0.9-1.7 0.7zM3.0 57.8l-1.8 0.0-0.4-0.5 1.4-1.3 1.1 0.3 0.6 0.7zM9.3 57.7l-2.0 0.5-2.1-1.2 1.3-1.6 2.0-0.3 1.3 0.3 0.7 1.9zM9.9 56.3l1.1 3.1-2.5-0.1-0.9-2.6zM13.1 56.6l1.4 0.6 0.0 1.2-1.2 0.9-1.3-0.5-0.7-0.9zM18.5 57.7l-2.1 0.4-1.3-1.5 1.4-1.7 1.7 0.8 0.6 1.3zM18.7 59.8l-0.3-1.9 1.8-1.8 1.9 1.0 0.3 1.6zM23.2 56.4l0.4-1.0 1.7 0.7-0.2 1.3-1.1 0.7-0.6-0.4zM33.0 58.8l-2.6-1.0 0.8-1.8 2.0 0.4zM36.4 59.3l-0.1-3.2 2.2-0.2 0.4 3.0zM37.7 55.3l1.4-0.9 2.7 1.5-0.3 2.2-3.0 0.1-1.9-0.7zM44.1 56.6l-0.7 3.4-2.2-0.8 0.8-3.2zM49.4 57.1l-0.7 1.6-2.0-0.7-0.5-0.7 0.9-1.0 1.8-0.2zM48.6 58.3l2.0-1.9 1.3 0.7 1.9 1.0-1.6 1.5-1.4 0.7-2.2-0.8zM51.4 58.4l2.6-1.3 1.4 0.2 1.2 2.0-1.7 2.0-2.3-1.3zM58.4 57.4l-1.5 1.2-1.5-0.3-0.4-2.0 1.3-0.7 1.1 0.6zM62.8 55.3l1.2 2.2-4.0-0.2-0.6-1.4zM63.9 57.4l-0.5-1.4 0.8-1.9 2.3 0.0 0.6 1.9-1.1 1.4zM69.4 57.6l-1.7 0.6-0.8-2.2 2.1-0.8zM70.5 57.1l0.1-2.0 1.8 0.2-0.1 1.5zM72.3 60.6l0.1-3.2 1.2-0.7 1.9 0.8 0.5 1.8-0.9 2.4-1.3 0.5zM79.2 57.3l-0.9-0.7 1.0-2.4 0.9-0.2 2.1 1.0 0.0 2.2-2.0 0.4zM80.9 55.7l1.7-0.5 1.1 0.6-1.5 1.3-1.3-0.2zM86.4 59.9l-1.0-0.6-0.7-0.9 0.6-0.9 0.9-1.2 0.8 0.9 0.3 1.7zM87.9 59.3l-0.8-1.9 2.0-1.7 1.2 1.4-0.3 2.2zM-1.8 59.5l0.8-1.2 2.0 1.5-0.5 1.3-2.4 0.9zM6.1 62.6l-1.1-1.4 0.9-0.8 1.7-0.5 0.9 0.7 0.1 1.6-1.4 0.2zM9.3 61.1l0.8 0.8-0.3 1.4-0.6-0.2-0.8 0.4-0.2-1.9 0.2-0.8zM13.1 58.0l2.3-0.2 0.4 1.6 0 0.9-1.7 1.5-3.0-1.0-0.3-1.8zM19.3 58.4l1.5 2.1-1.6 1.4-1.4-2.2zM21.0 59.3l0.7-0.4 0.6 0.0 0.6 1.4-0.9 0.5-0.9-0.2zM25.0 63.0l-2.3-0.8-0.1-2.4 1.4-1.0 2.1 0.7 1.3 0.4-1.6 2.6zM33.8 60.8l-1.2 0.2-0.9-0.9 0.4-0.6 0.7-0.5 0.9 0.2 0.5 0.8zM35.8 59.7l0.2 1.4-0.8 2.2-1.5-0.2-0.3-1.5-0.6-1.5 2.2-1.7zM41.9 61.8l-0.7-0.5-0.2-1.1 0.8-0.7 0.9 0.4 0.2 0.8-0.3 1.3zM47.7 64.2l-1.4-0.5-0.6-1.1 1.1-1.0 1.0 0.3zM47.8 61.6l0.4-0.7 1.6-0.2 0.4 1.3-0.3 1.2-1.4 0.7-0.5-1.1zM53.9 57.9l1.2 1.2-0.6 3.2-1.9 0-0.5-3.3zM61.1 63.2l-1.5-1.1 0.8-1.2 1.1-0.5 1.1 1.0-0.3 0.9zM66.4 61.5l-1.8-0.3 0.0-1.8 2.3 0.5zM67.3 60.3l1.9-2.0 2.5 0.8-0.9 2.2-2.5 0.0zM70.5 62.8l1.0-0.7 1.2-0.2 0.6 1.2-1.3 0.6zM76.8 63.8l-2.0 0.6-1.4-1.2 0.5-2.2 2.9-0.4zM78.9 64.7l-2.3-2.3 3.5-1.4 1.4 1.1zM84.1 59.3l-0.7 2.5-4.3-0.6 1.4-2.1zM87.5 62.0l-0.8-1.0 0.3-0.8 0.5 0.0 1.1 0.6 0 0.7-0.3 0.6zM90.7 60.8l1.6 1.1-1.0 2.8-1.8-1.8zM93.9 59.0l-1.7 1.7-1.8-1.3 1.2-0.8zM2.0 64.1l-0.7 4.0-2.3-1.7 0.5-4.1zM3.2 64.7l-1.3 0.4-0.3-2.7 2.0-0.4zM5.1 63.1l2.0 0.6 1.3 1.9-1.0 0.6-2.5 0-0.8-1.4zM10.9 63.5l1.1-1.2 1.4 0.1-0.2 2.0-1.1-0.3zM11.4 65.0l1.4-0.5 1.8 0.8-0.4 1.8-2.2 0.7-1.0-1.2zM18.2 65.5l-0.3-0.4-0.2-1.2 1.2-0.4 1.0 0.9-0.5 0.4zM21.2 66.5l-0.7-2.3 2.5-0.3 0.5 2.7zM24.7 67.0l0.5-2.4 1.5 0.4 3.2 1.0-1.2 2.3-2.2 0.2zM29.2 62.7l0.7 1.8-3.2-0.3-0.2-2.0zM31.7 65.7l1.6-1.7 2.3 0.2-0.2 2.4-2.0 1.6zM43.2 65.3l-2.0 1.7-1.5-2.8 0.7-1.8 1.2-0.3 1.5 0.8zM40.3 66.0l0.4-1.1 2.2-1.2 0.4 1.7-0.1 1.8-1.3 1.2-1.7-0.4zM48.1 66.5l-2.2-1.4 1.0-1.8 2.3 0.7 0.9 1.5zM48.9 64.9l0.0-1.4 2.0-0.5 1.1 1.3zM54.4 63.0l1.8 1.3-1.4 1.2-1.5-0.8zM56.0 63.6l2.1-1.4 1.2 1.6-1.2 2.3zM61.8 65.6l-1.1 1.8-1.7-0.5-0.6-1.1 1.9-1.3zM66.1 61.9l1.2 0.7 0.8 0.8-1.3 1.0-1.2-0.6-0.3-1.3zM70.8 63.5l-2.5 1.1-1.4-1.6 2.3-1.2zM73.5 65.4l-1.9 0.4-1.0-0.3 0-1.8 1.5-1.3 0.9 0.8zM76.4 66.7l-1.1-1.7 0.5-1.0 1.3-0.8 1.7 0.6-0.1 2.3zM79.4 64.6l-1.2 0.6-1.0-0.8 0.0-1.6 0.9-0.2 0.8 0.5zM82.4 69.2l-2.7-2.7 2.4-3.2 1.5 3.2zM86.6 67.2l0.3-1.8 1.9-1.1 0.9 1.5-0.4 1.3-1.7 0.4zM91.4 63.9l-0.2 0.7-0.5 0.4-1.1 0.1-0.7-1.2 0.4-0.4 1.1-0.5zM93.0 64.4l1.2 1.0-1.8 1.5-1.3 0.1-0.4-1.0 0.1-1.5 1.1-0.3zM2.5 67.7l1.2-0.9 1.4-0.4 0.6 1.1 0.3 2.2-1.3 2.1-1.7-0.5zM6.2 70.6l0.9-1.4 2.8 0.3-1.4 1.6zM13.5 68.4l-0.6 2.1-1.5 0.9-1.2-0.2-0.1-1.3 0.6-1.7 1.2-1.1zM13.8 66.4l1.7-1.3 1.5 2.5-1.9 0.5zM27.2 68.8l0.6 0.4-0.3 1.3-0.6 0.7-1.2-0.6-0.4-0.9 0.8-1.1zM28.9 63.7l1.6 1.9-0.8 2.7-0.9 1.1-1.8-2.5 0.7-1.6zM32.1 68.6l1.5 0.3-0.5 2.1-1.0-0.5zM39.3 66.6l-0.7 1.0-1.8 0.8-1.0-1.3 0.6-1.2 1.5-0.5zM44.2 66.1l1.4 3.0-2.0 2.6-1.2-3.2zM45.9 69.2l-1.4-0.6 0.4-1.1 1.9 0.0zM50.0 71.0l0-4.6 3.1 0.2-0.2 3.0zM54.7 65.0l1.7 1.2 0.4 1.5-1.3 1.3-1.3-0.4-0.5-2.5zM60.6 67.6l-2.4 1.5-1.8-1.5 1.7-1.5zM62.0 65.8l0.8 1.9-2.8 0.1 0.0-1.9zM64.6 67.0l1.9 0.1 1.3 0.5 0.8 1.2-1.1 1.5-2.4-0.4-0.6-0.9zM72.9 66.4l0.6 0.9-0.8 1.4-0.8-0.3-0.8-0.5 0.0-1.5 1.0-0.8zM75.9 66.1l1.7 1.8-1.3 2.3-1.0-2.1zM81.3 69.8l-1.5-1.2 1.1-0.7 1.4-0.1 0.1 1.2zM87.8 71.4l-3.0-1.4 1.0-2.3 4.2 1.4zM93.8 69.8l-1.1 0.6-1.6-1.0 0.1-0.7 1.3-0.9 1.6 0.0 0.2 0.7zM3.1 69.1l1.1 2.0-1.3 1.7-3.8 0.0-0.4-2.1 1.6-1.4zM3.9 71.6l-1.1 1.3-1.8-0.9 0.9-2.3zM9.3 71.9l-2.5 0.8-2.3-1.6 0.9-1.5 2.6 0.3zM10.5 73.0l1.3-1.7 1.4 1.3-0.6 1.2zM12.6 72.1l-1.3-1.7 2.0-1.5 3.0 1.2 1.1 1.1-2.2 1.7zM20.0 74.8l-2.0 0.3-0.9-1.7 0.9-1.9 1.7-0.3 0.6 2.2zM23.0 75.0l-1.3-0.8-0.8-1.4 1.7-1.2 1.2 0.9-0.4 1.5zM28.1 70.8l-1.3 1.6-1.1-2.1 1.7-0.4zM27.4 73.0l1.1-1.0 1.5 1.5-1.6 0.6zM32.3 72.3l2.1-0.1 0.5 1.0-1.9 0.5zM35.7 70.7l3.2 0.3 0.8 1.3-2.6 1.5-2.2-1.1zM42.2 74.0l-2.1 1.5-1.1-2.2 0.4-1.7 1.7 0.5zM43.0 69.3l0.7 2.0-1.1 1.7-1.8-1.1 0.9-2.7zM47.5 71.0l0.9-0.8 0.8-0.1 0.4 1.1-1.1 1.3-0.4-0.3zM51.7 72.4l-0.6 1.6-2.1 1.1-0.9-2.6 2.0-2.1zM61.4 69.5l1.4 0.8-0.4 0.9-1.8 0.7-1.4-1.5 0.0-0.7zM64.8 73.0l-0.6 0.5-1.2-0.6-0.2-0.8 0.4-0.8 0.8 0 0.8 0.4zM68.2 73.2l-0.4 1.0-1.0 0.4-1.5-1.0 0.6-0.7 1.1-0.7zM71.5 75.1l-2.8-1.0 0.3-2.2 0.9-2.2 2.5 1.1 0.4 1.8zM77.2 75.8l-1.7-0.5-0.8-2.0 0.9-2.1 2.6 0.9 1.5 1.4-1.0 1.2zM79.0 70.9l1.4-0.3 1.9-0.2-0.3 1.9-1.1 0.9-1.7 0-1.2-0.7zM81.3 71.0l0.9 0.8 0.5 1.9-0.8 0.3-1.4 0.3-1.4-1.9 0.5-1.1zM83.8 71.6l0.8-1.3 1.5 0.8 0.3 0.9 0.1 1.9-1.8 0.4-0.8-0.9zM88.1 71.2l1.2 0.3 0.5 1.3-1.3 1.1-1.4-1.3zM93.9 73.8l-1.5 1.7-1.1 0.7-0.7-2.5-0.6-1.1 2.3-0.7 0.9 0.8zM0.3 73.6l-0.9 1.1-0.7 0.5-1.2-0.7 0.6-1.7 1.3 0.0zM3.1 74.9l-0.2-1.2 1.3-0.6 0.6 1.3-0.2 1.0-0.9 0.7zM7.2 77.4l-1.8 0 0.5-2.6 1.7 1.2zM10.7 76.3l1.8-2.4 1.8 1.0-0.6 2.0-1.6 1.2zM12.3 75.6l1.0-0.8 1.3 0.6-1.4 1.1zM19.3 74.1l-0.3 0.7-1.5 0.3-1.1-0.3 0.3-1.1 1.1-0.6zM20.9 77.7l-0.3-1.0 0.8-0.6 1.0-0.1 1.3 1.0 0.1 1.0-1.3 0.1zM25.7 75.6l-2.7-0.4-0.2-2.3 1.5-0.9 2.4 1.7zM26.9 76.8l1.6-1.1 0.7 1.1-0.9 1.4zM31.9 75.9l0.0-0.8 1.8-0.2 0.3 1.5zM44.2 76.3l0.8-2.6 1.5 0.9-0.5 2.2zM48.8 74.7l1.1 1.4-0.4 0.6-1.3 0.6-0.2-1.0 0.4-1.3zM54.0 79.3l-2.1-1.4-0.9-1.4 0.5-2.4 2.7-0.9 0.5 1.7 0.6 2.5zM56.4 74.0l0.5 1.3-0.1 1.5-1.2-0.1-0.6-0.8 0.1-1.9zM62.3 76.1l-0.5 1.2-1.4-0.2-0.5-0.8-0.3-1.0 1.6-0.3 0.8 0.1zM68.5 72.6l1.6 0.9 0.2 2.7-2.4 0.5-0.2-2.7zM71.0 77.7l-1.5-1.4 1.3-1.6 0.8-0.7 2.0 1.6-0.9 2.0zM76.3 76.7l-1.1-2.2 1.7-1.7 2.4 2.4-1.2 1.7zM80.7 73.2l1.4 1.8-1.1 2.3-1.3-1.0-0.1-1.3zM82.4 74.7l2.9 1.9-1.1 2.7-2.3-1.0-0.7-2.4zM89.1 75.3l-0.1 3.0-1.6 0.4-1.4-2.2zM88.8 78.6l-0.9-1.2-0.5-0.9 1.8-1.2 0.9-0.4 1.4 1.4-1.4 2.0zM93.6 73.5l-0.6 1.8-2.3-0.5 0.8-1.8zM1.7 79.5l0.8 1.6-0.9 0.4-1.5 0.3-1.3-0.6 0.1-0.9 1.9-0.7zM3.8 82.4l0.1-2.5 0.9-0.7 2.0 0.9-0.2 1.4-1.4 1.5zM7.1 81.4l-0.8-0.7 0.6-1.9 1.6 0.4 1.4 0.5-1.0 1.6zM10.3 77.4l2.3-1.6 1.6 1.1-0.4 2.3-1.8 0.6zM13.4 79.3l1.3 1.0-1.5 1.6-1.4-0.9zM19.4 77.7l0.8 2.0-4.0 0.4 1.0-1.9zM25.2 81.6l-4.3-1.2 1.3-1.9 3.4-0.4zM27.5 78.8l-0.8 0.1-0.1-1.8 0.5-0.6 1.2-0.3 0.5 1.7zM30.1 79.8l1.3-0.2 0.7 1.4-0.8 0.9-1.5-0.6zM40.2 79.0l-1.3-1.1 2.1-0.4 0.9 1.3zM42.3 78.4l1.3 0.3 0.6 0.8-1.2 0.9-0.8 0.2-0.9-1.0zM47.7 77.0l1.1 1.7 0.0 2.2-3.1-0.5-1.0-0.8 1.1-1.7zM56.8 77.7l-1.8 1.0-1.9-0.5 1.5-2.0zM53.4 80.5l0.9-0.9 3.2-0.5 1.3 0.9-0.4 1.9-2.4 1.0zM63.4 79.5l-1.9-0.5-0.1-2.6 1.7-0.2 1.2 1.8zM64.1 78.3l1.5 0.0-0.2 1.4-1.5 0.1zM68.8 77.6l1.8 1.2-2.3 2.0-2.6-1.4 0.9-2.4zM71.5 78.5l-0.3-2.0 1.0 0.0 1.8 0.8-0.7 1.3-1.1 0.3zM77.3 79.4l1.8 0.4 0.2 1.2-1.7 0.7-1.4 0.2-0.9-0.8 0.2-1.6zM81.1 83.2l-1.4-1.5-0.8-2.4 2.5-0.3 1.1-0.1-0.3 3.2zM82.8 82.9l-1.1-1.9 0.2-2.8 2.1-1.2 1.5 1.9 0.1 1.8-1.8 1.5zM85.5 79.9l1.7-0.3 0.3 1.8-1.3-0.1zM89.3 78.2l1.0 1.9-0.8 2.1-1.9-1.4 0.0-1.5zM0 83.7l-0.4-2.7 2.3-1.7 0.6 2.9zM6.1 84.7l-1.7 0.4-1.8 0-0.7-2.1 1.6-0.4 1.8 0 1.0 1.0zM4.1 83.1l-0.7-0.9 0.2-1.3 1.2-0.3 2.4-0.4 1.1 1.9-2.0 1.2zM12.8 84.3l-0.8 0.9-0.6-0.5-0.2-1.3 0.3-0.7 1.2-0.1 0.0 0.9zM16.8 83.0l-1.6 1.3-1.3-1.8 2.0-1.3zM16.4 86.4l-1.1-1.6 0.4-1.5 1.5-1.3 2.0 0.9-0.2 2.1-0.9 1.6zM23.9 83.8l-1.5 0.6-1.5-1.5 1.0-1.8 2.3 0.4zM29.2 83.2l-1.4 1.0-1.7-0.5-1.3-1.5 1.6-1.4 2.6 0.8zM39.4 81.5l0.9 1.0-0.6 1.3-1.2-0.9zM45.0 85.4l-1.5-0.8 0.8-2.0 1.3-1.0 0.7 2.4zM48.4 81.9l0.5 0.5 0.5 0.8-0.9 1.3-1.6-0.2-0.3-1.2 0.6-1.1zM48.3 80.3l2.9 1.5-2.6 1.6-1.8-1.8zM54.0 78.9l1.9 1.2 1.0 1.6-2.0 2.5-1.1-1.0-1.2-1.9zM56.1 81.8l0.7-0.4 1.3 0.8-0.3 0.8-1.2 0.4-0.7 0.1-0.7-1.3zM61.3 80.3l1.4 1.1 0.3 0.8-1.3 1.0-2.0-0.7-0.5-1.3 0.8-0.7zM64.0 82.2l1.8-0.3-0.1 2.1-1.6 1.6-0.8-2.2zM68.0 81.7l0.3 0.8 0.6 1.4-0.8 1.4-1.3 0.5-0.9-1.4 0.3-2.0zM71.6 80.5l0.8 1.0 0.2 1.7-1.1 1.2-2.0-0.4 0-1.2 0.1-1.7zM76.4 82.7l2.5 1.1-0.6 1.7-1.2 0.9-2.2-1.4 0.2-1.5zM80.0 83.5l-2.1 1.3-1.2-2.0 1.6-2.3zM82.3 83.4l-2.1-0.2-0.7-2.2 2.4-0.9 1.6 0.9zM85.4 82.2l2.4 0.2 0 2.3-2.2 0.5-1.2-1.6zM89.9 83.4l-2.2-0.8-0.9-1.2 1.8-1.6 1.7 0 2.1 2.2-1.0 2.0zM92.2 83.7l-1.1-0.2-0.7-2.4 1.1-1.8 1.6 1.5 0.2 1.6zM-0.6 86.0l-2.1 0.0-0.7-0.6-0.6-1.9 1.2-0.9 3.4 0.8 0.0 1.5zM9.8 84.3l0.5 2.4-2.1 0.9-1.8-1.1 1.2-2.2zM9.9 85.6l1.3 0.1 0.1 1.9-0.6 1.9-1.9-0.6-0.1-1.2zM18.1 84.5l1.8 0 2.3 0.3 0.2 1.7-1.6 1.2-1.4 0.3-2.3-1.5zM19.9 87.4l2.4-0.7 1.0 2.0-1.9 0.5zM27.2 89.3l-1.3 1.9-1.1-1.3-1.2-1.5 0.4-1.7 1.9-0.5 1.2 1.0zM28.8 86.3l0.1-1.5 2.3 0.1 0.4 1.0-1.0 0.7zM32.9 88.5l-1.8-1.8 3.5-1.0 0.1 1.9zM39.3 85.8l-1.7 1.6-1.4-0.4-0.2-2.4 1.6-1.4zM45.1 85.8l-0.9 1.5-2.2 0.9-1.1-1.0-0.2-0.7 0.7-1.0 2.0-0.2zM47.1 85.5l1.6-0.3 0.6 1.0-2.0 0.3zM47.6 87.6l1.4-1.0 1.8 2.2-2.2 0.6zM53.8 86.4l-0.1-1.5 0.7-1.6 2.1 0.2 0.9 1.2-1.1 1.3zM58.0 85.3l1.7-0.6 1.5-0.2 0.5 1.4-0.7 0.8-1.6-0.3zM66.4 89.2l-0.8-0.6 0.6-1.5 0.4-1.2 1.0 0.5 0.6 1.5-0.7 1.3zM72.7 85.1l-0.3 2.0-2.8 0.4 0.1-2.0 2.3-1.6zM74.6 83.8l1.0 1.1-1.9 1.3-0.7-1.7zM82.6 85.5l1.3-0.2 0.4 0.8-0.2 1.5-0.8 0-0.7-0.1-0.5-1.0zM86.3 85.6l0.8 0.8 0.2 1.5-1.4 0.2-0.3-2.0zM90.2 87.4l-0.7-1.0 0.2-1.5 0.8-0.8 1.4 0.8 0.7 1.3-1.7 1.1zM0 90.4l-1.3-0.9 0.2-2.0 1.8 0.5zM3.5 88.1l-0.7 2.9-3.4-2.2 2.3-2.1zM6.6 89.2l1.5-0.8 2.1 0.1 0.9 1.4-0.6 1.4-3.7-0.3zM10.1 93.2l-1.0-1.1 0.2-0.9 1.2-1.2 0.6 0.7-0.1 1.4zM13.5 90.7l1.8-1.8 1.7 1.0-0.6 2.1-1.9-0.7zM19.4 90.0l0.4 1.8-3.9 0.4 0.0-2.1zM21.7 89.4l1.4-0.3 0.8 0.6-0.1 1.3-1.8 0.0-0.6-0.7zM24.7 90.3l0.8 0 2.9 0.3-0.7 1.1-0.7 1.7-2.1-0.7-1.8-0.6zM29.2 89.0l1.5-0.5 0.2 2.5-1.8 0.0zM32.3 89.9l0.7-1.1 1.5 0.7 0.6 0.9-0.9 1.3-1.1 0.5-1.1-0.9zM36.4 92.0l-3.7-1.3 1.2-2.0 3.1 0.0zM35.9 92.7l0.8-2.4 1.8-0.4 1.3 1.2 0.6 1.7-1.6 1.1zM44.7 91.6l-1.4-0.8 0.5-1.6 1.8-0.4 1.4 1.3zM51.9 87.8l0.4 1.5-0.7 1.4-1.1-0.3-1.1-1.3 0.1-1.2 1.5 0zM52.5 90.6l-0.4-1.2 1.1-1.4 2.0 1.6-1.0 1.7zM56.0 90.2l0.6-3.2 3.2 1.0-1.0 1.8zM60.9 89.9l-1.2 2.2-1.8-1.8 1.3-2.2zM63.2 91.5l-1.4-1.3 1.2-0.8 2.0-0.2 0.4 0.5 0.3 1.2-1.7 1.3zM70.8 88.6l-1.1 1.7-2.5-0.3 0.6-1.8zM70.8 90.9l-0.6-1.5 0.6-2.4 1.6-0.9 1.4 1.6-0.2 1.5-0.2 1.8zM78.4 89.8l-1.7-1.6 3.7-1.5 2.1 1.2-1.5 1.8zM83.4 89.7l-0.6-1.7 1.2-1.2 0.8 1.4zM85.7 87.1l2.2 1.3 0.5 2.5-1.5 0.9-1.5-1.5zM89.1 89.8l-1.2-0.9-0.1-1.0 2.3-0.2 1.2 0.6-0.7 1.1zM2.7 94.6l0.7-1.5 1.7-0.3 0.3 3.8-1.7-0.2zM7.9 92.8l-0.1-1.4 1.3-1.1 1.1 1.3-0.5 1.3zM11.5 91.6l0.4 0.7 0.2 0.8-0.9 0.4-1.1 0-0.2-1.0 1.1-0.8zM22.7 91.1l1.1 0.1-0.3 1.3-1.2 1.5-1.5-1.6 0.3-1.0zM23.8 96.3l-1.8-1.7 0.6-3.1 3.5 1.3zM26.5 92.7l1.7-0.9 0.3 1.7-1.2 0.8zM47.6 90.3l0.8-1.0 1.2 2.3-0.3 2.3-1.4 0.6-1.2-1.0-0.7-2.1zM50.1 94.8l-2.0-1.0 1.6-3.2 1.9 1.0 0.5 2.2zM54.1 91.3l1.6 0.2-0.2 3.7-1.5-0.4zM54.2 92.5l1.7-0.8 1.3 0.7-0.1 0.8-1.7 0.3zM59.9 90.4l1.1 3.4-2.7 0.7-0.5-3.0zM67.2 94.2l0.2-3.5 2.4 0.7 0.5 1.3-1.6 1.6zM70.1 95.7l-1.7-2.3 2.4-1.2 2.7 1.1-0.1 2.0zM86.4 95.0l-0.9-0.9-0.3-2.4 0.5-1.2 1.9 0.3 0.2 1.4-0.1 2.0zM87.8 93.7l1.2-1.6 1.5-0.4 1.5 2.0-0.7 1.3-1.6 0.4z"/><rect width="100%" height="100%" fill="none" stroke="#000" stroke-width="2"/></svg><svg x="19" y="260.5" width="94.5" height="95"><rect width="100%" height="100%"/><path fill="#fff" filter="url(#bl)" d="M1.0 3.0l-1.8-0.5-1.3-1.4 2.8-0.5 2.0 1.3zM6.1-2.5l3.6 0.5-1.6 3.5-4.1-1.5zM6.9 0.2l-1.2-1.1 1.6-1.3 1.8-0.4 2.2 1.5-0.7 0.9-1.3 0.9zM10.4 1.4l0-2.4 4.8-0.5-0.1 2.2-0.5 1.8zM24.1 2.2l-2.1-0.1-0.3-1.0 1.0-1.0 2.2 0.6zM26.9 0.8l-0.3 1.7-2.2 0-2.1-1.5 1.7-0.5zM28.6 0.0l-2.1 0.8-1.1-2.0 1.7-1.3 1.4 0.6zM36.1-1.5l-1.5 1.6-1.6-0.8 0.6-1.9 1.6-0.6zM37.5-0.4l3.2-0.3 0.1 3.7-3.3-0.9zM41.5-0.2l1.5-2.1 3.6 1.9-3.6 1.9zM57.6 0.8l2.2 0.5-0.2 1.0-1.7 0.2zM58.6-0.5l-0.1-1.3 1.7-0.1 2.5 1.1-1.7 1.0zM67.9 2.6l-2.2 0-1.7-0.9 0.6-1.4 3.2 1.0zM65.6-0.2l1.1-0.4 1.1 0.3 0.7 0.6-1.2 0.4-1.8 0.0zM72.9-0.1l1.4 1.8-1.8 1.6-2.1-1.6zM78.4 0.2l-0.6 1.2-1.8-0.4-0.4-1.4 1.5-0.6zM77.7 0.9l0.2-0.4 0.6-0.7 1.9 0.3 0.2 0.4 0 0.9-1.2 0.2zM85.5 1.9l-1.9-0.8 0.2-1.2 1.9-0.1 1.7 0.2-0.3 1.3zM89.9 0.2l-1.2-0.8 0.7-1.2 2.4-0.1-0.1 0.8zM89.7-1.6l2.6-1.0 1.8-0.1 1.3 1.3-0.6 1.3-1.9 0.8-3.2-1.3zM97.2 2.3l-3.0 0.4 0.1-1.0-0.2-2.0 1.3-0.4 1.3 0.2 0.8 1.3zM3.6 3.6l-0.9-1.4 2.3-1.4 1.5 1.1 0 1.2-1.6 1.3zM8.1 3.4l0.9 2.1-2.5 1.2-1.8-1.1-0.2-1.5zM13.9 4.9l-1.3-0.8 1.5-1.1 2.3 0.1 0.4 0.7-1.3 1.1zM16.5 3.9l-1.8-1.4 2.1-1.0 1.5 1.1zM20.1 5.8l0.2-1.1 2.3-0.3 1.6 0.8-1.2 1.1zM28.5 3.9l-2.3 2.0-1.9-2.4 1.9-1.6zM27.7 5.9l-2.9-0.2-0.4-0.7 1.4-1.1 1.8 0 2.0 0.5-0.9 1.2zM29.5 4.0l-0.4-0.6 0.5-1.2 1.9-0.3 1.8 1.1 0.2 1.0-2.3 0.3zM35.8 3.9l0.9 2.1-1.5 1.0-1.3-1.3 0.6-2.2zM37.5 3.2l0.7-1.0 1.9 0.1 0.6 1.1-0.9 1.0-1.1 0.6zM40.2 6.0l0.7-2.2 2.8-0.8 0.9 2.0-2.1 0.9zM47.2 3.7l-0.9-1.1 0.1-1.5 1.9-0.5 0.6 1.5-0.6 1.1zM53.3 5.6l-4.3 1.3-1.9-1.8 1.7-1.1 3.2 0.3zM57.3 4.1l2.2-0.1 1.3 1.1-1.9 0.4zM65.1 2.9l-3.4 0.8-1.6-1.4 1.3-1.6 2.8 0.7zM63.1 2.8l1.7-2.2 4.2 0.9-1.9 1.7zM69.4 5.0l-1.3-1.1 0.5-1.7 2.1 0.1 0.1 1.6zM71.3 4.8l3.1-0.8 2.3 1.7-4.5 0.4zM72.4 1.2l3.2 0 2.5 1.3-1.9 0.8-2.7 0.3-0.8-0.7zM79.2 3.5l3.8-0.2-1.0 3.1-2.3-0.7zM80.5 4.7l0.2-1.6 1.7 0.5 1.3 1.3-1.0 1.9-1.7-1.0zM85.2 4.2l0-1.0 1.9-0.1 0.8 0.8-1.0 0.3zM91.7 5.4l-2.8 0.2-0.6-0.9 1.4-1.4 1.7 0.4zM-1.8 4.7l3.6 0.3-0.2 1.1-2.0 0.8-1.9-0.9zM4.1 5.8l1.4 1.2-1.9 2.3-2.5-1.5 1.2-1.4zM7.1 8.5l-1.2-0.1-0.4-0.6 0.1-0.7 1.4-0.4 1.1 0.3-0.1 1.6zM12.5 6.5l-3.1 0.5-0.5-2.8 4.1 0.1zM15.0 8.1l-1.0 0.3-1.1-0.7 0.7-1.1 1.6 0.2 1.3 0.7zM16.3 9.6l-2.1-1.6 2.2-1.0 3.3 0.4 0.6 1.8zM24.2 7.0l-2.0 0.6-1.9-0.3-1.2-1.8 2.2-0.4 2.4 0.0zM23.8 7.3l4.2-1.0 0.8 2.0-4.2 1.2zM29.6 9.3l-2.5-1.5 1.3-1.0 2.9 1.2zM35.4 8.1l0.7 1.5-2.2 0.7-1.6-0.5-1.4-1.3 1.7-0.7zM37.3 6.6l-2.5 0.5-1.5-0.7-0.8-1.8 2.8-0.3 2.5 0.2 0.0 0.8zM38.7 4.5l2.3-0.5 2.5 1.0-1.0 1.6-2.8 0.1zM45.8 7.5l-1.9 0.2-1.5-0.4 0.9-1.0 1.5-0.7 0.9 1.1zM44.0 8.2l0.9-1.5 2.7 0.3-1.0 1.7zM50.4 4.8l1.0 1.9-0.5 1.3-2.2-0.6-0.9-2.4zM52.1 5.2l2.6-0.6 1.4 0.8-1.8 1.1-2.3-0.1zM54.2 5.8l3.1-1.2 2.4 2.2-4.1 1.2zM63.3 5.8l3.1-0.3 0.8 2.6-1.9 1.5-2.1-1.3zM70.1 8.2l-1.7 0.8-1.4 0.3-0.3-1.7 0-1.0 1.5 0 1.9 1.0zM71.0 6.0l1.3 0.5-0.7 1.2-1.4-0.3zM76.2 9.4l-0.5-1.6 2.4-0.3 0.9 1.2-1.5 1.0zM76.4 6.7l1.1-1.1 1.7 0.4 0.4 1.1-1.5 0.3zM82.6 7.4l0.8-0.6 2.7-0.4 0.2 1.0-1.4 1.2-2.5 0zM87.2 7.6l-0.9-1.1 1.6-0.7 1.6 1.4zM91.6 7.8l-1.7 0.2-1.1-1.2 0-0.7 1.0-0.6 1.2-0.4 1.3 1.6zM89.9 7.5l2.9-1.9 2.8 1.4-0.9 2.2-3.8 0.5zM1.5 10.2l0.7-1.7 1.9-0.1 0.5 1.5zM10.8 10.9l-1.0 1.6-1.7 0.1-1.0-0.8 0.2-1.7 1.6-0.3zM15.7 11.2l-2.1-0.4 0-1.9 2.0 0.1zM18.6 13.3l-1.8-1.1 0.0-1.5 1.2-1.0 2.2 0.9-0.5 1.4zM21.5 12.1l-0.7-0.8-0.2-1.8 2.1-0.3 1.5 1.9-0.3 1.3zM23.7 11.4l-1.9-0.3-0.5-1.3 0.6-1.2 2.7 0.4 1.0 0.8-0.3 0.6zM26.2 10.4l1.8-0.6 2.5 0.5 1.7 1.7-1.2 0.5-3.1 0.0-3.2-0.3zM31.7 11.3l-1.1-0.3-0.6-0.7 0-0.6 1.1-0.5 0.8-0.1 0.4 1.2zM36.8 13.3l-0.7-1.5 0.8-1.2 1.7 0.8-0.1 1.4zM39.6 10.1l-0.5 0.0-1.8-0.5-0.2-0.7 1.8-0.6 0.8 0.1 1.4 0.6zM42.7 9.0l2.0-1.1 3.3 0.5-1.0 1.6-3.8 0.2zM50.0 10.6l-1.4 1.5-1.4-0.7 0.1-1.8zM48.1 13.5l-0.4-0.5 0.9-1.6 1.6-0.4 0.9 1.1 0.0 0.7-1.0 1.3zM59.2 9.9l-1.7 1.7-2.2-0.5 0.5-2.3 2.9-0.2zM68.2 13.5l-3.9-0.1 0.7-3.0 3.5 0.9zM64.7 12.3l0.1-1.0 0.9-1.1 2.8 0.6 0.2 1.1-0.1 1.0-2.3 0.5zM75.1 10.3l-1.6 0.1-3.2 0.1 0.2-0.6 0.0-0.8 1.8-0.4 1.6 0.2zM75.3 10.5l-1.0 0.2-0.2-0.8 0.2-1.1 1.2 0 1.0 0.6-0.2 0.5zM86.9 11.1l1.2 0.0 0.8 1.1-0.7 1.3-1.7-1.2zM87.9 10.4l2.2-0.3 1.2 1.3-0.5 1.8-2.2 0.1-0.5-0.9zM96.4 13.6l-3.4-0.1-1.8-1.9 2.8-1.2 2.8 1.0zM2.3 13.1l1.4 1.2-2.8 0.7-1.8-1.3zM1.7 14.6l3.4 0.2-1.3 2.6-2.1-0.5zM8.6 13.4l-1.8 1.6-1.3-1.9 1.3-1.0zM10.4 12.0l1.9 0.3 1.1 0.6-1.0 1.1-1.3-0.2-1.9-0.8zM11.1 15.9l2.5-1.6 1.1 2.4-1.9 1.0zM18.7 12.5l2.3 2.1-4.6 1.2-1.3-1.9zM24.2 13.8l-2.1 1.2-2.3-1.5 0.6-0.9 1.5-0.9 2.4-0.4 0.9 1.7zM25.1 16.7l0.2-1.8 2.8 0.2-0.2 2.1zM31.7 13.7l1.9 0.3-0.9 1.4-2.1 0.4-1.2-0.6-0.6-1.0 0.3-1.0zM36.1 15.1l-0.8-1.9 2.5-1.2 1.4 2.3zM38.2 14.6l-0.2-1.9 2.6-0.2-0.6 2.8zM40.0 12.5l3.3-0.1 0.1 1.4-3.7 0.0zM44.3 14.1l2.1 0.1 0.5 0.9-0.3 0.7-1.5 0.1-1.4-0.3-0.5-0.5zM51.6 16.3l0.3-1.6 1.3 0 0.9 1.0-0.3 1.2-1.3 0.5zM54.9 13.6l0.1-0.9 1.8-0.4 1.7 0.0 0.3 0.9-0.1 1.0-2.6-0.2zM61.8 15.7l-0.5 0.9-1.9-0.1-0.2-1.0 1.5-0.4zM65.2 11.5l1.2 0.9-1.1 2.2-2.3 0.6-1.7-2.2 1.7-1.6zM71.9 14.7l-3.3 0.5-1.5-1.1 0.4-1.1 2.7-1.6 0.9 1.3zM70.5 12.6l1.3-0.2 1.7 0.5-0.7 0.8-1.4 0.1zM78.6 13.2l0.3 2.3-1.3 0.1-2.4-0.2 0.4-1.2 1.2-1.1zM82.2 13.3l-1.8 0.7-2.0-0.2-0.4-1.2 2.0-0.4zM83.7 14.6l-0.8 0.4-0.7 0.0-1.2-0.3 0.7-0.9 0.7-0.4 1.8 0.4zM87.6 16.5l-0.9 0.8-1.3-1.6 0-0.9 2.9 0.4zM91.9 15.2l-0.6 1.1-1.7-0.4 1.0-1.1zM95.6 13.9l-0.2 1.4-2.1 0-0.8-1.2 1.7-0.9zM95.1 12.8l1.3 0 0.2 1.4-0.7 0.6-1.4-0.2 0.0-1.0zM0.7 18.8l-1.8-1.5 2.6-1.2 2.4 0.8-0.7 1.6zM4.3 16.7l-0.2 2.2-2.4-0.5-2.3-2.1 3.0-1.7zM8.3 16.6l-1.1 1.1-2.3-0.8 2.1-1.3zM12.1 17.8l-2.9 0-1.3-1.9 2.9-1.2zM16.6 18.9l-1.3 1.4-2.0-0.3-0.9-0.7 0.1-2.9 1.2 0.1 2.8 1.1zM23.7 18.6l1.1-0.2 0.8 1.6-1.1 0.9-1.8-0.3-0.4-1.2zM29.3 16.6l2.6 0.6-0.1 1.3-2.8 0.2-1.5-0.5-0.3-1.4zM31.6 18.2l1.0-0.8 2.2 0.1 0.2 1.0-0.1 1.0-2.1 0.6-1.5-1.2zM33.5 18.1l2.4-1.7 1.9 1.0-2.1 2.0zM41.7 16.9l1.8 1.4-1.5 1.3-1.9 0.3-2.1-1.3 1.6-1.6zM42.5 17.6l0.8 1.5-1.4 0.3-1.0-0.3-0.6-1.1 1.2-0.7zM48.4 16.8l1.2 0.9 0.2 0.9-0.1 1.0-1.6 0.9-0.7-0.9 0-1.8zM50.8 15.9l-0.4 1.3-1.7 0.6-2.3-1.3 1.1-1.2 1.5-0.4zM52.6 17.2l-1.1-0.3 0.7-1.2 1.2 0.1 1.5 0.6-0.3 0.9zM60.1 19.3l-1.1 1.0-2.0 0.6-1.9-0.7-0.1-1.1 2.1-1.1 1.7 0.5zM68.1 19.5l-2.1 0.8-0.8-1.1 1.4-0.6zM69.7 16.6l-1.6 1.4-2.4-0.5 1.5-2.3 2.1 0.4zM70.3 16.6l1.3 0 1.2 0.7-0.9 0.7-1.5 0-1.8-0.6 0.0-0.4zM76.8 17.3l0.9 1.8-1.6 1.4-0.8-0.2-1.1-1.4-0.2-1.7 1.7-0.4zM78.5 18.6l-0.7-0.4-0.8-0.5 1.1-0.8 1.0-0.2 1.1 0.8-0.5 0.7zM83.6 16.4l2.2 0.6-0.4 2.9-4.3 0.2-0.7-2.8zM85.6 18.4l4.2-0.2 0.3 2.5-3.1 0.3zM91.9 20.2l-1.8 0.1-1.5-1.2 1.2-1.1 1.2 0.3 1.8 1.0zM97.0 15.1l0.8 1.4-1.4 1.3-2.0-0.1-0.9-2.0 1.2-1.4zM-0.9 21.3l2.0 0.5-0.6 0.9-1.7 0.4-1.7-0.6 1.0-0.9zM6.4 24.1l-3.7 0.7 0-2.5 2.1-1.6zM8.3 22.4l-1.3 0.8-2.8-0.4-0.3-0.6 2.0-1.1 1.9 0.2zM12.3 20.2l2.4 0.0 1.4 1.3-0.8 2.0-1.8-0.4-1.7-0.4-1.0-1.7zM15.8 21.6l2.9-0.2 1.7 1.9-2.3 0.7-1.0 1.0-2.7-1.1-1.0-1.2zM26.2 18.8l0.4 2.6-6.0-0.4 1.0-1.9zM23.9 23.5l-1.5-0.1-0.2-0.7 0.6-1.1 0.7-0.5 1.8 0.6-0.7 1.2zM29.3 23.6l-1.1 0.7-1.9-0.6 1.2-2.7 1.7-0.3zM35.1 20.8l-0.1 2.6-3.9 0.4-0.7-2.6zM33.6 20.6l-0.6-1.0 2.6-0.6 0.7 1.0-0.4 1.0zM37.1 19.4l1.4-0.3 1.2-0.1 0.6 1.8-1.4 0.7-1.4-0.2zM40.6 20.3l0.9-0.3 1.5 0.6 0.3 0.6-1.1 0.9-0.6-0.2-1.6-0.8zM43.7 20.9l-0.1-1.6 2.8 0.1 0.7 1.1-1.6 0.5zM49.7 20.3l0.6-1.7 4.4 0.2-1.7 2.9zM55.8 20.1l3.2 0.7-1.0 1.1-3.7-0.8zM65.5 23.4l-1.9 0.9-3.3 0-1.0-1.2 1.1-1.0 2.5-0.3zM65.6 24.7l-2.3-0.3-1.9-1.9 1.3-1.3 3.9 0.2 0.8 1.7zM74.5 22.0l0.7 0.6-0.8 0.8-1.5-0.1-1.8-0.4 0.3-0.6 1.4-0.3zM75.7 21.9l0.2 2.1-2.2 0.1-0.9-1.7 0.1-1.1 1.6-0.4zM82.5 21.3l0.1 0.9-1.2 0.3-1.3-0.3 0.0-0.9 1.1-0.4zM85.4 21.9l1.9-3.2 2.2 2.1-0.1 2.1-2.8 0.4zM91.4 22.2l-2.0 1.0-0.9-1.1 0.1-1.3 1.0-1.4 1.7 0.8zM95.2 21.1l-1.1 0.1-0.9-1.4 1.2-0.9 1.2 0.8zM0.8 24.3l0.5 2.4-2.5 1.2-1.5-3.3zM1.1 26.6l0.9-2.8 2.2 0.6 0.3 1.9-2.6 1.5zM6.1 26.4l-0.7-1.2 1.6-0.8 2.9 0 1.0 1.2-0.9 1.0-1.9 0.3zM15.2 23.4l3.3 0.7-2.0 1.1-2.7-0.1zM19.0 24.3l1.3 1.3 0.3 1.5-1.6 2.0-1.1-0.6-0.5-2.5zM26.6 27.5l-2.8 0.1-0.4-1.3 3.3 0.1zM32.2 27.1l-2.7 0.9-1.5-1.1 0.2-1.6 2.0-0.8 2.0 0.3 0.9 1.6zM29.7 23.4l1.7-0.5 1.6 0.6-0.7 0.9-1.9 0.5-0.7-1.0zM35.9 24.2l1.7 0.2-0.1 1.5-2.1-0.7zM41.7 26.3l0.7 1.1-1.7 0.7-0.5-0.2-0.9-0.8 0.8-1.4 1.1 0.1zM45.2 24.5l-0.5 2.0-3.1 0.2-1.0-1.6 0.8-0.9 1.8-0.3zM46.7 27.4l-2.4 0.3-0.5-2.2 0.4-1.0 2.5-0.2 0.4 1.4zM52.5 25.9l-0.7 1.4-3.1-0.3 0.6-1.5zM55.9 25.0l0.9 0.8-1.0 1.1-1.2-0.3-1.0-0.1 0.3-1.0 0.8-0.4zM56.7 26.2l-0.5-1.8 1.2-0.6 1.7 0.3 1.1 0.9-1.9 1.5zM68.7 25.5l-2.0 0.9-0.8-0.9-1.1-0.7 1.7-1.5 1.5 0 1.3 1.5zM73.8 27.6l-1.7 0.6-1.5-2.2-0.7-1.8 1.6-0.7 2.1 0.5 1.0 1.5zM77.4 25.2l-3.6 1.9-1.2-2.0 2.9-2.0zM85.3 24.9l-1.0 0.6-2.1 0.7-1.8-0.9 0.9-1.1 1.0 0zM88.5 26.9l-1.7 0.5-1.0-0.8 1.2-1.0 1.3 0zM93.4 26.3l-4.6 0.3-0.1-1.9 3.6-0.7 1.5 1.2zM93.2 26.6l1.9-1.1 1.0 0.9-1.4 0.7zM3.2 30.4l-3.3 0.7-1.2-0.4 0.1-1.5 2.3-1.1 1.7 0.8zM2.2 29.1l-0.2-2.5 1.6-1.5 2.0 1.4 0.1 2.0-0.7 0.8zM7.8 27.9l2.0-0.4 1.2 1.1-3.2 0.7zM8.7 29.9l-0.7-1.0 1.5-1.4 2.5 0.4 0 1.3-0.5 0.6zM14.4 25.5l1.0 2.0-2.1 1.4-2.0-0.4 1.3-2.4zM23.9 27.2l0.7 1.8-3.1 0.7-2.5-1.4 1.6-1.2zM28.6 29.0l0.5 1.3 0.2 1.6-2.4-0.3-2.3-0.5 0.9-1.8 1.0-1.2zM32.4 29.3l-0.9-1.6 1.1-0.4 0.6-0.1 1.2 0.5-0.5 1.1-0.5 0.2zM32.4 28.6l1.3-0.9 2.2 0.2 0.2 1.2-1.0 0.6-3.2-0.2zM40.3 28.0l-1.1 1.9-1.7-0.4 0.8-1.8zM47.8 29.0l-3.0 0.7-1.0-1.4 0.9-1.4 2.4 0.3zM52.9 30.5l-1.4 1.8-1.9-0.2 0.3-2.4 1.8-1.1zM56.5 27.3l0.6 0.9-1.3 0.7-0.8-0.1-0.3-0.9 0.3-1.1 1.4-0.1zM56.0 26.0l2.2 0.9 0.1 2.0-2.7-0.6zM59.9 30.2l-1.2-1.7 2.1-1.0 1.4 0.6 0.7 1.7zM64.9 29.0l-0.1 0.5-1.6 0.5-0.9-0.8-0.4-0.6 1.4-0.5 0.9 0.2zM67.6 26.7l0.3 1.5-2.1-0.1 0.1-1.0zM74.7 32.0l-2.3-0.1-0.9-1.1 0.1-1.7 2.6-0.3 0.9 1.5zM74.0 32.4l-1.1-0.9-0.2-1.6 1.3-1.2 2.0 0.6-0.2 2.4zM76.6 29.5l-1.6-1.1 0.2-1.5 2.0-0.8 1.5 0.3 0.9 1.3-0.3 1.6zM83.8 28.0l-2.5-0.1-1.3 0.1 0.2-1.3 1.3-0.5 1.5-0.3 0.9 0.9zM84.4 29.4l3.6-0.1 0.7 2.0-3.5 0.6-0.9-1.3zM88.3 28.3l3.0-0.1 0.6 1.1-3.3 0.4zM94.0 30.0l1.9-1.0 1.6 1.2-0.6 1.5-2.3 0.4-1.5-1.1zM93.2 29.4l0.9-0.9 1.2-0.2 2.4 0.7 0.1 0.9-0.8 1.0-2.7-0.1zM2.9 29.1l1.4 2.7-3.2 0.3-1.8-0.9 0.1-2.0zM1.4 32.8l0.9-1.8 2.2 0.6 0.2 1.8-2.6 0.8zM6.3 33.1l0.8-1.2 2.0-0.6 1.8 0.8 0.6 0.9-2.7 0.3zM11.5 31.4l-1.1 1.1-2.3 0.2 0-1.4zM12.5 32.9l2.3-0.6 2.7 0.8-2.4 1.4-3.3 0zM18.0 31.8l-1.0-1.3 1.4-0.4 1.2 0.2 0.1 1.4zM24.7 34.7l-3.9 0.8-1.2-1.9 4.9-0.7zM27.5 33.5l-1.0 1.1-2.8-0.8-1.2-1.8 4.7-0.2zM26.2 33.4l1.5-0.1 1.5 0.4-0.2 0.7-1.8 0.5-1.6-0.3-0.4-0.5zM30.8 32.6l0.7-1.5 2.0 0.7 0.4 1.4-1.2 1.0-1.3-0.3zM37.4 31.1l0.5-0.5 0.7 1.1 0.1 0.9-1.0 0.4-0.5-0.4-0.6-0.6zM36.8 33.7l0.2-1.7 1.9-0.5 1.7 0.5 1.4 0.4-0.4 1.3-2.5 0.5zM41.4 33.2l-1.6-1.9 2.4-1.6 2.7 1.2-1.0 1.9zM45.3 35.0l-0.3-1.8 0.4-1.5 1.3 0.6 0.9 0.0-0.1 1.6-1.5 1.5zM51.5 29.4l2.4 2.1-2.3 1.6-1.8-2.4zM52.4 32.1l3.0-0.8 0.8 1.8-2.3 0.6zM56.5 34.8l-1.6-0.9 0.0-1.0 1.1-1.0 2.6 1.0-0.3 1.7zM61.0 34.7l-1.6 0-0.3-1.4 1.6-0.5 1.7 0.8zM67.7 30.9l-0.6 1.3-1.5 0.1-1.2-0.5 1.1-0.8zM66.0 31.0l2.2 0.2-0.5 2.4-1.8-0.3zM73.0 30.2l0.7 2.2-3.5 0.3-0.5-1.7zM74.9 30.7l3.1 0.5 0.8 1.2-3.2 0.6-2.3-0.7zM84.4 31.7l1.5 0.6 0.0 1.3-1.8 1.2-2.3-1.9zM82.3 32.6l0.6-1.0 1.4-0.3 2.3-0.4 0.1 2.8-1.8 0.9-1.3-0.7zM87.9 32.2l0-1.1 3.4-0.6 2.2 1.1-1.6 1.8-1.8 0.0zM97.0 32.0l-1.5 1.8-2.1-0.2-1.3-0.8 0.6-2.3 1.5-0.3 1.6 0.7zM3.3 35.7l-0.4 1.4-1.5 0.5-1.3-0.9 0.1-1.7 2.1 0.1zM2.5 35.9l-1.8-1.2 0.7-1.5 4.5 0.3-0.2 1.9zM7.7 35.2l0.5 0.3-0.8 1.1-1.9 0-1.2-0.7-0.1-0.5 1.7-0.5zM10.3 35.0l2.6 1.7-1.3 1.7-2.8 1.0-1.8-1.7 1.1-2.2zM13.1 35.4l2.4 1.7-1.7 1.9-2.1-0.2-1.1-1.8zM17.9 36.1l-1.7-2.1 2.7-0.9 0.8 1.9zM20.8 34.5l1.4 1.2 0.5 1.6-2.7 1.1-1.8-2.0 0.7-1.1zM29.1 32.8l1.8 0 2.2-0.9 0.5 2.8-0.2 1.4-2.4 0.2-1.3-0.5zM35.8 34.5l0.9 0.7-1.5 0.8-0.8-1.2zM38.8 35.9l-3.4-1.0 2.0-1.6 2.5-0.6 1.4 1.7zM47.8 36.1l-0.9 0.7-1.4-0.3-0.4-1.1 1.4-0.7 1.2 0.1zM53.8 36.7l-1.3-0.1-0.6-0.8-0.3-0.6 1.4-0.3 1.1 0.0 0.3 1.2zM56.7 36.7l-0.4-1.4 1.7-0.3 1.6 1.0-1.3 1.1zM62.2 37.1l-1.2 1.9-1.9-0.1-1.7-1.1 0.9-1.9 1.8-0.5 1.3 0.2zM67.5 34.3l3.0 1.9-2.8 1.5-3.6-1.4zM69.7 35.0l1.6-0.6 0.7 1.4-0.1 1.8-1.1 0.0-1.4-1.4zM75.4 39.7l-3.5-1.2 0.8-0.7 1.7-1.7 3.2 0.1 0.4 1.1-0.5 1.8zM77.5 33.0l1.9 1.6-1.4 0.9-2.1-1.4zM81.4 33.9l1.5-0.2 1.2 0.7-1.0 0.8-1.6 0.4-1.2-0.8zM84.8 37.0l2.2-0.8 1.3 1.0-1.3 1.1zM90.2 36.5l-2.4 0.1-1.8-1.5 3.5-1.8zM95.9 34.4l-0.6 1.9-2.3-0.1-1.2-1.4 2.2-1.5zM97.9 36.5l-1.4 2.5-3.1-1.9 2.6-1.6zM0.8 40.9l-3.2-1.6 1.9-2.6 2.5 1.3zM3.4 39.5l-0.5 1.4-1.9-0.4-0.6-1.1 1.1-0.9 1.2-0.5zM7.0 41.1l-1.1 0.7-1.0-1.1 1.1-0.5zM10.8 40.1l-1.5 0.9-1.5-1.7 1.2-1.2 1.2 0.3zM13.7 39.0l2.2-0.1-0.4 1.4-1.4 0zM16.7 40.4l0.2-1.5 2.6 0.1-0.3 1.9zM22.4 38.0l0.3 1.5-2.0 1.2-2.9-0.6 0.0-2.2 2.2-0.7zM26.2 39.1l0.4 1.0-1.0 0.4-2.2 0.2-0.3-0.9-0.2-0.6 1.4 0zM31.6 39.9l0.3 1.1-1.8 0.2-1.5-0.3-1.0-0.5 1.4-1.2 1.6 0.2zM33.8 40.0l-0.1 1.0-2.8-0.4-1.5-1.1-0.8-1.4 3.5-0.1 2.7 0.2zM33.2 38.8l0.8-1.3 2.8 0.5 1.4 0.9-3.4 1.0zM38.2 38.2l1.8-0.5 0.8 0.1 0.1 0.9-0.2 0.8-2.2 0.0-0.7-0.7zM40.4 38.2l2.4-1.2 2.4 1.8-1.9 1.6-1.2 0.3-2.9-0.8zM47.6 39.4l-0.9-0.5-0.8-1.2 1.9-0.7 1.4 1.1 0.2 1.0zM54.0 42.5l-2.9 0.8-1.3-1.7 0.4-1.4 1.4-0.7 1.2 0.5zM55.4 38.7l-1.5 0.6-1.4-0.7 1.5-1.2zM59.5 40.9l-0.4 0.8-1.3 0.6-1.2-0.7-0.9-0.7 2.0-0.4zM60.9 39.5l0.1-2.6 3.0 0.7-0.5 3.0zM72.3 40.9l-1.6 1.1-2.1 0.4-1.1-1.1-0.9-0.5 2.6-0.9 2.3 0.1zM67.8 40.4l1.2-1.1 3.7 0.1 0.9 1.1-4.1 1.1zM79.1 40.0l1.4 0.4 0.5 0.8-1.5 0.2-0.9-0.1-0.2-0.8zM85.0 39.3l2.8 0.8 0.5 1.9-2.7 0.4-3.0-1.4zM88.2 40.5l-2.2-1.8 2.6-0.8 2.8 1.4zM95.5 38.9l0.5 2.5-1.4 0.6-2.2-1.8 0.2-1.6zM97.7 39.5l-2.0 0.8-0.6-0.4-1.1-1.2 0.8-0.9 1.7-0.4 0.9 1.2zM-2.3 43.2l0.5-1.2 1.8-0.3 1.3 1.9-1.0 1.0-1.9 0.4zM1.8 44.2l2.3-0.6 1.5 0.2 0.6 1.0-1.6 1.5-2.8-0.6zM7.9 40.4l1.7-0.7 2.9 1.7-0.4 1.9-2.4 0.7-2.7-1.0zM16.7 43.6l-3.2 0.5-1.1-1.9 3.7-0.9zM18.4 42.5l1.5 0.5 0.1 2.0-1.2 0.9-1.0-0.6-1.0-0.6 0.3-1.8zM21.1 45.8l-0.7-0.4-0.3-1.6 1.2-0.8 1.2 0.9 1.0 0.9-1.3 1.0zM27.0 44.9l-2.6-0.8 1.7-1.5 2.8 1.1zM34.5 43.4l-0.9 0.3-0.8-0.8 0.2-0.9 1.6 0.2 1.2 0.5zM36.7 45.9l-3.4-0.9 0.2-1.3 3.4-0.9 2.4 2.2zM42.8 45.0l-0.7-1.5-0.1-1.8 1.1-0.4 3.0 0.1 0.3 1.4-0.1 1.5zM45.1 43.0l0.1-1.7 1.1-1.3 2.3 1.2 0.7 0.6-1.2 2.3-1.4 0.8zM49.4 43.7l-0.8-0.9 3.0-0.9 2.0 0.9-1.7 1.0zM53.1 43.2l2.0 0.4 0.7 0.3 0.2 1.0-2.0 0.2-1.8-0.3 0.6-0.7zM58.9 44.8l-2.4-0.7-0.4-0.9 2.1-0.7 2.3-0.2 0.4 1.0-0.9 0.8zM59.6 44.2l-3.4-1.0 2.1-1.9 3.3 0.1 1.2 1.5zM64.5 43.0l-1.2 0.4-1.2-0.3 0.1-0.6-0.3-0.4 2.0 0.1 0.8 0.4zM67.4 45.1l-2.7-1.9 3.6-1.3 2.4 1.3zM72.6 45.9l-2.9-2.2 3.2-1.2 1.1 1.5zM71.9 43.8l3.0-0.5 1.8 1.2-0.7 1.7-4.5-0.7zM78.9 43.7l-2.8-0.6-0.5-2.1 1.8-0.8 1.8 0.5 0.2 1.6zM79.7 44.8l1.5-1.2 1.6-0.4 1.6 1.9-0.3 0.6-2.0 0.6-1.1-0.6zM84.4 43.4l2.1-1.0 1.5 0.6 1.7 1.3-0.5 1.0-3.2-0.1-2.1-0.2zM89.4 41.2l2.2-0.9 0.5 1.7-1.3 0.8-1.4-0.6zM94.6 43.3l-1.7-0.3-0.1-1.0 2.3-0.9 1.6 0.6 1.1 0.5-1.9 0.9zM-0.8 45.9l1.9 0.2 0.5 1.4-1.5 0.9-2.4 0.3-1.1-2.0zM1.9 48.8l1.4-1.4 2.7 1.2-1.3 1.0zM10.8 46.9l-1.8 0.5-1.9-0.2-0.8-1.1 1.4-0.8 1.9 0.6zM10.9 46.7l0.5 0.3 0.3 1.6-1.0 0.6-0.7-0.9-0.4-1.2zM13.4 46.0l-0.1-1.8 3.8 0.1 0.8 1.4-2.9 1.1zM15.9 48.8l0.1-1.2 2.3-0.7 1.3 0.3 0.8 1.2-0.1 0.8-3.8 0.1zM21.5 46.5l-1.5 0.7-1.4-1.4 1.8-1.0zM22.5 47.1l2.2-0.1 0.5 1.0-1.1 1.0-1.8-0.8zM28.4 47.4l-1.5 0.2-1.2-0.8 0.2-0.3 1.6-0.6 1.4 0.6zM31.2 44.4l2.0 1.1-2.5 1.6-2.5-1.2zM36.8 48.9l-1.5 0-0.3-2.1 2.3-0.7 0.8 1.4zM40.4 48.7l-3.2-0.5 0.7-2.3 2.7-0.6 1.1 1.5zM42.5 46.5l1.6-1.0 0.7 0.7 0.6 1.2-1.3 0.9-1.0 0.4-1.2-1.1zM47.4 45.6l-2.1 1.0-2.3-0.4-0.4-2.2 3.6-0.1zM50.7 48.1l-3.3 1.2-0.6-2.1 3.4-1.3zM56.8 47.8l-0.4 1.1-0.9 0.4-1.1-0.7-0.5-0.8 1.2-1.1 1.4 0.2zM53.8 47.2l1.4-2.2 2.6-0.1 0.3 1.3-0.4 1.0-1.9 0.9zM67.2 49.3l-1.1-0.2-1.4-0.7-0.1-1.0 1.6-1.2 1.7 1.0 0.1 0.5zM66.7 46.9l-0.9-1.6 1.3-2.0 1.7 1.0 0.2 1.5zM74.5 45.3l-0.5 0.9-1.7 0.1-1.0-0.3-0.3-1.2 1.9-0.3zM75.3 48.1l-1.1 0.1-0.4-2.3 0.1-0.7 2.0 0.2 1.2 0.2-0.6 1.6zM77.3 44.2l2.4-0.4 0.4 1.3-1.2 1.8-1.5 0.4-1.2-0.4 0.0-2.2zM83.6 46.6l2.6 0.5 0.8 1.5-1.0 0.8-3.9-1.3zM90.2 46.6l-2.5 0.2-0.7-0.6-0.4-0.8 1.0-0.8 2.6 0.3zM92.9 49.0l-0.5-1.2 1.4-0.9 0.5 0.9-0.3 1.2zM-0.3 50.1l2.2 1.3-2.0 2.1-1.8-1.1-0.6-1.4zM0.4 52.0l-0.1-0.7 2.0-1.5 1.0 1.1 0 1.9-1.1 0.0zM6.0 51.8l1.7-1.5 1.9 0.6 0.2 1.4-1.8 1.8zM7.8 49.9l0.7-0.8 1.9-0.7 1.3 0.9-0.2 0.8-1.3 0.8zM14.2 51.0l-1.7-1.0 0.2-1.6 1.3-0.2 1.6 0.0 1.7 0.5-1.0 2.0zM18.5 48.7l-0.4 1.3-3.1-0.3-0.4-1.6zM19.7 50.0l3.2-2.1 3.0 0.9-2.3 2.3zM23.7 47.8l2.1-0.1 1.0 1.0-0.9 2.7-1.4 0-0.7-0.3-1.2-1.8zM29.8 52.3l-0.9-0.9 2.5-0.7 0.0 1.2zM37.9 49.2l-1.0 0.6-1.5-0.4-0.3-0.9 1.3-0.6 1.0 0.6zM40.4 49.0l0.0 1.6-1.3-0.1 0.0-2.2zM44.1 47.9l2.4 1.4-2.3 1.3-2.3-1.6zM49.7 49.4l-0.7 1.3-1.0 0.5-1.1-1.1-0.3-1.1 1.3-0.6 0.9 0.5zM49.1 49.3l1.8-0.8 0.7 0.0 1.2 1.1-0.7 0.8-2.2 0.5-0.9-0.4zM53.4 50.1l2.6 1.9-2.1 0.5-2.7-0.8zM55.9 50.9l2.5-0.9 2.8 0.5-0.7 1.4-4.2 0.2zM62.9 51.9l-1.3 0.4-1.4-0.6-0.1-1.3 1.4-1.6 1.0 0.0 0.6 1.6zM63.9 50.1l-0.6-0.7 0.2-0.5 1.7-0.6 0.4 0.7 0.1 1.2-1.1 0.6zM69.5 52.7l-3.7 0.9-0.3-2.5 3.7-0.4zM73.0 51.2l-1.3 1.2-2.4-0.4-0.9-1.1 0.1-0.7 2.8-0.6 1.1 0.4zM75.5 50.5l-2.4 0.1 0.4-2.6 2.4 0.6zM78.3 52.3l-1.1-0.9 0.9-0.6 1.5 0.6zM81.6 51.4l-2.5-2.5 3.5-1.7 1.6 3.0zM88.5 49.6l-2.9 1.3-1.2-3.4 3.4-1.0zM89.9 52.0l2.0-1.1 0.9 1.4-1.9 1.2zM92.3 50.6l-1.7-2.4 2.8-0.9 1.5 1.7zM4.2 55.6l-1.6 0.6-1.8-0.7 1.4-0.9zM3.5 53.0l3.1-0.4 1.1 1.2-0.9 1.0-3.5-0.4zM9.9 51.8l1.7-0.7 2.5 0.6-0.7 1.8-0.6 0.9-3.6-0.4-0.5-1.1zM16.1 54.1l-2.3 1.4-1.7-0.8 0.3-2.0 2.2-1.1zM21.4 54.5l-0.8 0.6-0.7 0.6-2.6 0.1-0.5-0.9 1.4-0.6 1.2-0.6zM19.6 55.9l0.2-1.2 2.1-0.9 1.9 1.2-2.1 0.9zM22.1 54.6l0.1-1.6 3.9 0.3-1.2 1.9zM29.1 56.0l-1.8-0.8-0.5-1.3 1.9-1.0 2.1 0.7 0.6 1.6zM30.9 53.8l0.8-1.2 1.5 0.3 0.0 1.5-0.5 1.3-1.1-0.5zM39.7 55.7l-2.2 0.7-1.9-0.2 0.4-1.5 1.4-1.3 1.9 1.5zM35.9 54.5l2.5-1.4 1.5 1.2-0.7 2.5-1.7 0.5zM47.7 52.9l1.8 0.3-0.1 1.5-1.6 0.4-1.9-0.7 0.5-0.9zM50.0 52.6l0.9 1.2-0.1 1.4-1.1 0.1-0.8-0.7-0.6-1.1 0.4-0.5zM51.7 53.5l2.1-0.1 0.3 1.5-1.3 0.5-1.5-0.1-0.4-0.9zM59.4 53.9l-1.9-0.1-0.9-0.5-0.2-1.0 1.5-0.1 1.8 0.3zM57.9 53.4l2.3-0.1 2.3 1.3-2.9 1.3-3.0-0.7zM62.4 53.4l4.1-0.3-0.9 3.2-2.8-0.4zM72.5 52.5l1.2 1.1-0.6 1.0-1.2 0.5-2.0-0.5 0.6-1.0zM78.2 55.3l-1.5 0.2-1.6-0.1-0.5-0.8 1.2-0.5 2.2 0.0zM78.7 53.8l0.4-1.9 2.3-0.1 1.3 1.4-0.6 0.8-2.2 0.4zM79.4 54.6l3.4-0.2 0.5 2.0-2.9-0.3zM85.2 52.9l1.2 0.4-0.1 0.9-1.2 0.8-1.5-0.1-0.8-1.2 0.4-0.6zM89.7 53.0l-2.7-0.4 0.2-1.3 3.1 0.6zM90.9 52.7l2.1-1.0 1.1 2.1-1.9 0.8zM-0.6 56.0l2.6 2.0-1.8 1.5-1.6 0-0.9-2.2zM6.4 58.6l-3.6-0.8 1.6-1.7 2.7-0.4 1.5 1.9zM8.4 58.6l-0.3-1.3 1.4-1.1 1.0 0.9 0.6 0.9-1.5 1.2zM11.9 54.9l2.6-0.5 1.6 1.2-0.1 1.7-4.0 0.1-1.0-0.9zM22.7 59.2l-0.7 0.8-2.2-0.4-0.1-1.4 1.7-0.1 2.4 0.4zM27.8 56.4l-2.5 0.8-0.2-1.2 1.2-1.0zM23.8 59.4l1.6-1.6 3.7 0.3 0.8 0.9-0.6 1.7-3.5 0.3zM32.7 56.4l1.7 0.0 0.8 0.6-0.3 0.9-1.5 0.6-1.4-1.0zM34.4 60.0l-1.0-1.3 1.7-0.9 1.1 0.4 0 1.4zM37.1 56.6l1.0-0.9 2.2 1.0 0.3 1.7-1.5 0.4-2.4-0.6zM39.2 57.8l-2.0-1.7 3.4-1.2 3.4 0.2 1.4 1.6-3.7 1.7zM47.9 57.5l-0.5-0.5-0.5-0.7 0.0-1.1 0.9 0 1.2 0.5 0.1 0.8zM49.7 59.9l-2.0-0.6 0.3-1.3 3.1 0.5zM53.5 56.1l3.7 0.6 0.1 1.0-1.2 1.4-3.5-0.9-0.4-1.2zM56.5 58.8l1.4-2.3 2.2 1.1 0.9 1.0 0.4 1.4-3.4 0.1-2.3-0.3zM59.4 55.6l2.0 0.6 0.8 2.0-2.5 0.2-2.0-1.2zM64.1 57.8l1.6-1.3 2.1 1.8-1.5 1.4zM68.8 57.9l1.8 0.2 0.8 0.8-0.9 0.9-1.5 0.0-1.6-0.2-0.4-1.1zM78.4 58.8l-2.0 1.6-1.7-1.0 0.2-2.3 1.7-1.0zM82.1 57.9l1.2 0.9-1.8 1.3-1.6-0.2-1.0-1.5zM80.2 58.3l0.7-0.8 2.6-0.1 0.1 1.3-2.1 0.5zM88.2 56.9l-0.5 1.0-2.0 0.3-0.3-0.9 1.9-0.8zM93.4 55.5l1.9-0.2 0.4 1.7-2.6-0.1zM0.6 63.6l-1.8-0.9 0.4-1.2 1.8-0.9 0.9 1.0 0.2 1.5zM2.6 62.5l2.9-1.0 1.3 1.7-2.4 1.3zM9.1 60.4l1.5 1.9-2.3 1.2-2.7-1.2zM10.1 60.7l-0.1-0.7 0.5-1.3 1.3 0.2 0.5 0.3 0.6 1.2-1.4 0.5zM14.5 61.1l2.1 0.4-0.1 2.1-0.5 0.7-2.1-0.7 0.2-1.0zM20.4 58.1l0.9 2.7-2.7 0-0.4-1.9zM19.8 60.7l2.3-0.4 1.8 0.1 0.8 0.8-0.2 1.1-2.4 0.5-2.2-0.6zM28.0 62.8l-1.8 0.4-1.3-0.4 0.1-1.4 2.2-0.7 0.9 0.7zM27.5 60.6l3.6 0.2-1.1 2.0-2.9 0.0zM31.8 59.9l1.7-1.3 1.7 1.1-1.9 1.9zM38.5 61.1l-2.6 1.0-1.2-1.7 2.4-0.6zM39.1 60.4l1.3 0.3 0.5 1.6-0.9 1.0-1.6-0.2 0.0-1.0zM41.6 59.8l0.7-0.3 1.2 0.5 0.2 0.3-0.4 0.9-1.0 0.5-0.4-0.6zM45.4 60.8l0.5-0.6 1.4-0.4 0.7 0.8 0.4 0.7-0.9 0.7-1.9-0.2zM50.4 62.0l-2.2-1.5 3.5-1.3 2.6 1.6-1.9 1.3zM55.4 61.6l-4.1-0.3 1.2-2.4 3.4 0.7zM55.7 61.1l2.3-0.5 0.2 2.1-0.4 1.6-1.5 0.2-1.7-1.1-0.3-1.6zM62.0 62.0l-1.4-0.6-0.8-0.7 1.3-0.8 2.2 0.6-0.4 1.0zM63.6 59.4l1.2 0.5-1.0 1.7-1.8-0.5 0-0.9zM67.8 58.6l1.8 0.9-0.8 1.4-2.3-0.5-0.4-1.0zM73.3 63.6l-2.7-0.8 1.2-1.1 0.0-0.6 3.0 0.5 1.0 0.4-0.8 1.1zM72.5 60.0l2.6-0.8 2.5 0.6-0.3 1.6-1.4 1.1-2.7 0-0.6-1.8zM76.3 61.5l1.4-1.6 1.2 0.3 0.8 1.1-0.5 1.7-1.2 1.1-1.9-1.2zM84.6 60.2l1.1 1.3-1.7 0.9-1.3-0.5 0.7-1.4zM86.7 63.6l-2.0-0.4-1.7-1.6 1.1-0.9 3.5 0 1.3 1.4-0.6 1.3zM94.6 61.1l-2.9 0.5-1.4-1.2 2.6-0.6zM2.3 65.2l-3.5-0.6 1.5-1.8 1.8-0.3 1.6 1.5zM4.6 64.9l-1.1 1.4-1.4-1.1 0.0-1.5 2.2 0zM6.9 65.5l-0.8-1.5 0.0-2.0 1.8-0.5 1.6 1.7 0.5 2.1-1.5 0.0zM13.5 66.6l-1.0-0.2-2.2-0.4 0.6-1.2 2.1-1.0 1.0 0.7 1.0 0.6zM19.5 65.5l1.2-0.5 2.5 0.1-0.2 1.6-2.2 0.1zM26.8 67.2l-1.9-0.8 1.2-1.3 1.4-0.3 0.3 1.2zM27.1 64.5l1.2-0.1 1.2 1.5-0.7 1.2-1.0 0.1-2.1-0.7-0.2-1.4zM32.7 62.5l1.3 2.4-4.3-0.3-0.4-2.3zM34.0 66.9l0.4-1.5 1.3-0.4 1.2 0.7-0.3 0.8-0.3 1.3zM40.1 63.7l1.2 1.4 0 1.3-1.2 1.0-2.1 0-1.0-1.5 0.3-1.4zM44.7 64.9l0.9 1.5-1.0 1.0-1.0 0.4-1.4-0.4 0-1.6zM43.3 64.2l3.4-0.2 0.7 2.8-3.1 1.2zM52.8 62.6l1.6 1.9-1.5 1.3-1.8 0.0-0.7-1.6 0.6-1.5zM53.1 65.4l1.1 0.9-0.4 0.9-1.2-0.1-0.6-1.1zM56.8 63.7l1.4 0.5-1.0 1.8-1.2 0-0.8-0.9 0.5-1.5zM61.2 64.3l-0.1 0.8-0.9 0.5-1.3-0.6-0.2-0.8 1.5-0.2zM65.7 61.8l1.7 1.1-2.0 1.4-1.3-0.4-0.6-1.1zM69.0 64.5l-1.9 1.0-1.2-0.7 2.5-1.1zM74.6 65.2l1.1 1.4-1.8 0.7-1.3 0.2-1.0-0.8 0.7-1.8zM76.7 64.4l-1.3 0.3-1.4-0.7 0.4-2.3 2.2-0.3 1.1 1.4zM82.7 62.9l0.1 1.1-0.5 1.1-2.6 0.1-2.4-1.3 2.4-1.2zM84.2 64.6l0.5 2.3-2.6-0.4 0.5-1.5zM84.4 66.0l-1.0-0.2 0.7-0.9 1.2-0.7 0.6 0 0.3 1.1-0.2 1.0zM89.4 64.8l-2.6-1.0 1.6-1.5 2.7-0.1-0.1 1.9zM93.2 65.6l2.5-0.8 1.5 1.3-1.7 1.1zM4.4 66.7l1.7 1.7-1.7 1.3-2.0 0.4-0.7-1.2-0.4-1.6 2.0-0.7zM5.5 68.1l2.3-0.9 2.9 0.9-0.2 0.7-1.3 0.8-3.1 0.5-0.4-1.4zM11.9 70.6l-1.5-1.2 0.2-1.1 1.7-0.5 2.5 0.3 0.1 2.0-1.5 1.0zM18.0 67.6l0.7 1.3-1.5 2.0-3.2-0.8-0.1-2.1zM19.6 69.0l-0.5-0.9 0-1.2 1.3-0.2 0.7 0.8-0.7 1.1zM25.4 66.1l1.3 1.7-2.0 1.0-0.6-1.5zM27.7 67.0l2.3 1.2-0.7 1.9-1.8 1.1-1.0-0.8-1.7-1.5 1.9-1.8zM31.3 69.1l0.7-0.9 1.5 0.5 0.2 1.2-1.9 0.1zM36.7 69.2l-1.0 0.5-1.9-0.6-0.4-0.7 0.8-1.6 2.3 0.2 1.9 0.7zM42.4 68.8l-1.9-0.7 0.3-0.7 3.1-0.2 0 1.1zM47.1 68.0l1.4-0.7 2.0 0.6-2.3 0.8zM52.2 68.8l0.5 0.2 0.4 1.0-0.9 0.3-0.8 0.4-1.2-1.1 0.6-0.8zM57.0 67.7l-1.2 1.0-1.7 0.3-0.8-1.2 0.8-0.9 2.0-0.4zM60.2 68.1l1.2-1.4 2.1 0.9-1.7 1.2zM68.8 69.7l-0.8 1.2-3.4 0.4-1.3-1.8 1.7-0.6zM68.3 67.9l0.4-1.2 2.3 0.1 1.4 0.7-2.0 1.2-1.7-0.1zM73.7 68.9l3.9 0.4 0 1.2-2.9 0.2zM80.1 65.3l2.0 1.1-0.8 0.9-2.1 0.7-1.7 0.1-1.1-2.3 1.4-0.4zM85.1 69.2l-1.3 0.2-1.2-0.7 0.6-0.7 1.6 0.2zM84.6 66.3l3.8 1.0-1.4 1.7-2.8-0.7zM86.1 69.1l3.2-1.0 1.8 1.7-3.4 1.9zM92.5 70.2l-1.9-0.7-0.1-1.0 1.1-1.0 0.8 0.2 0.7 0.9 0 0.7zM-0.4 73.5l-2.5-1.0 3.6-1.8 1.6 1.2zM7.0 72.1l-2.2-0.1-0.3-2.3 1.7-0.3 2.4 0.6-0.4 1.4zM10.2 71.8l-1.2 0.8-1.1-0.5 0.0-0.8 1.3-0.5zM13.0 71.7l-1.4-1.1 0.9-1.4 1.7 0.8zM19.5 72.4l0.7 1.1-1.2 0.3-1.0-1.2zM23.3 73.0l0.1-0.9 1.2-0.8 1.3-0.1 1.3 1.4-1.3 0.4zM31.7 72.3l-1.2 0.9-1.4-0.6 0.0-1.1 1.3-0.7zM33.9 73.0l-3.2-0.4-0.5-2.5 3.0-1.2 1.6 0.9-0.1 1.8zM38.6 69.7l2.9 0.1-0.1 1.4-3.4 0.1zM41.7 72.8l2.3-1.6 2.7 1.1 0.2 1.0-2.5 0.5zM46.5 72.1l-1.7-0.5 1.4-1.4 0.9 1.0zM53.5 71.8l-0.8 0.6-2.9 0.3-0.3-1.3 1.1-1.0 2.2-0.5 0.7 1.0zM51.9 70.1l1.0 0.5 0.8 0.7 0 1.2-0.9 0.5-1.4-0.1-0.7-1.1zM59.0 71.6l2.3-1.5 2.0 0.8-0.6 1.8-2.3 1.0zM62.8 74.2l0.7-1.3 0.9-0.3 1.0 0.1 1.1 0.8-1.1 0.7-1.1 0.2zM74.8 69.5l0.3 1.8-2.9 1.5-3.3-1.3 0.4-1.2 2.0-1.3zM80.0 70.3l1.6 2.6-1.9 0.9-1.6-0.2-1.1-2.2 0.9-1.4zM83.8 69.9l0.1 1.6-2.6 0.2-3.1-0.5 1.5-1.6 3.4-0.5zM86.9 69.7l1.3 0.6 0.6 0.8-0.7 1.2-1.2 0.2-0.9-1.4zM92.5 73.0l-3.4 0.3-0.4-1.7 1.6-0.8 3.2 0.6zM94.0 71.8l1.7-0.3 1.2 0.9-1.4 0.4-1.8-0.2zM97.3 69.3l1.4 1.3-0.8 1.4-1.7 0.8-3.0-1.6 2.4-1.2zM1.8 76.2l1.4 2.0-3.1 0.7-1.9-1.7 1.5-1.3zM2.8 75.4l-1.6-1.8 2.4-1.0 2.2 2.3zM10.1 73.9l-1.8 1.3-1.4-0.8 1.8-1.2zM11.9 76.4l-3.1-0.6 0.7-1.9 2.6 0.2zM12.4 77.6l-1.4-0.8 1.7-1.5 1.7 0.2 0.5 1.6zM15.2 77.8l-0.9-1.4 2.0-0.9 2.3-0.1 0.0 1.6-0.6 1.6-1.1-0.3zM21.6 75.1l-0.1 1.9-3.0 0.2-0.1-1.7 0.8-1.1zM23.9 76.7l-1.1-2.2 2.6-0.7 2.0 0.4-0.9 1.8zM25.5 75.7l1.8-1.2 1.8 1.5-1.6 1.2zM31.0 73.9l1.5-1.1 0.7 0.7 0.4 0.9-0.3 0.4-1.5 0.4-0.5-0.4zM39.6 76.5l0.4-0.7 2.5-0.2 1.4 1.6-1.4 1.1-1.7-0.4-1.9-0.3zM39.6 77.0l2.3-0.7 1.6 0.3-1.7 1.6zM47.6 75.3l0.5 0.2-0.8 0.8-2.0 0.2-0.5-0.7 0.1-0.4 1.6-0.8zM53.6 76.4l1.7-1.3 1.7-0.1 1.0 1.5-2.6 0.2zM56.9 77.8l-1.7-0.9 0.6-0.8 2.3 0.1zM62.1 75.0l-2.0 0.3-0.8-0.7 0.0-2.5 2.0-0.3 0.9 1.1zM65.7 74.8l2.0 2.0-0.6 1.8-2.3 0.6-1.8-3.1zM67.8 76.7l0.9 1.5-2.8 0.4-1.5-1.5 1.0-0.9zM70.9 75.9l0.2-1.2 2.0-0.5 0.8 1.5-1.5 1.4zM79.4 77.9l-4.9-0.3-1.1-1.5 1.1-1.5 2.4 0.6 2.8 0.9zM78.3 74.7l-1.5-0.7 1.3-0.6 1.3 0.5zM82.2 73.9l-1.2 1.7-1.5-1.0 1.0-1.2zM86.6 78.2l-1.5-0.8-1.1-0.9 0.9-1.2 3.4-0.1 0.8 1.0-0.1 1.6zM96.7 76.0l-2.7 0.3-0.7-1.7 3.2 0zM96.7 75.3l0.8 1.0-1.3 1.0-2.1-0.9 0.6-1.7zM1.9 76.5l1.0 0.3 0.2 1.1-1.2 0.7-1.5-0.3-0.3-0.9zM6.1 78.6l-1.6-0.4-0.2-1.0 1.5-0.4 1.2 0.6zM6.1 79.7l2.4-1.7 1.8 1.3-0.1 0.9-2.4 1.4-1.5-0.7zM9.7 79.7l0.1-0.6 0.7-0.9 1.9 0.3 0.7 1.3-1.5 0.9zM11.4 80.4l2.0-1.0 2.3 0.2 2.0 1.3-3.4 1.3-1.8-0.2zM19.3 78.6l-1.9 0.7-1.8-1.9 3.0-2.0zM21.0 77.1l2.3 0.8 0.7 2.8-2.8 1.4-0.8-1.2-1.7-1.7zM26.7 79.6l-1.2 0.2-1.3-0.8 0.4-0.5 2.2-0.4 0.7 0.9zM29.6 81.0l-4.2-0.7 2.2-1.4 2.9 0.6zM32.2 78.4l-2.7-0.1 1.1-1.3 1.5 0.2zM36.5 79.5l0.1-0.4 1.1-0.1 1.4 0.1 0.0 1.3-1.4 0.1-0.6 0.2zM38.6 78.3l1.7 0.4-1.0 0.7-1.6 1.0-0.8-0.3-1.4-1.0 0.9-1.2zM42.2 78.6l1.6 0.9-1.8 1.2-1.5-1.2zM55.4 80.0l-3.4-1.0 0.6-0.8 2.5-0.9 3.4 0.6-0.5 1.7zM56.3 78.6l0.1-0.7 1.2-0.3 0.7 0.4 0.3 1.1-0.8 0.4-0.6 0.1zM64.5 79.6l0.9 0.9-2.7 0.6-1.2-0.5-1.0-1.1 1.7-0.8 1.3-0.2zM70.7 81.5l-3.0-0.3-0.7-1.2 3.4-0.5 1.3 1.1zM75.6 80.6l-1.0 0.5-1.6-0.5 0.4-1.0 2.0 0.4zM79.5 78.3l1.1 0.9-1.1 0.7-1.6 0.6-1.0-0.8-0.8-1.0 1.6-0.4zM83.3 80.6l-0.7-0.2-1.1-1.3 0.2-0.6 1.3-0.6 1.6 0.0 0.3 1.6zM85.8 81.0l-0.6-1.2 0.3-1.1 2.2-0.1 0.6 1.3zM91.4 76.4l1.7-0.7 1.2 1.6 0.2 2.2-2.5 1.4-1.5-1.2 0.0-2.5zM93.9 79.0l2.5-2.1 2.6 2.5-2.7 1.0zM0.8 82.2l1.2 0.5-1.9 0.8-1.5-0.4 0.4-1.2zM3.4 85.2l0-1.2 0.1-1.3 2.0 0.2-0.1 1.7zM5.9 82.6l2.7-0.6 0.6 1.4-1.9 0.2zM10.2 84.6l-0.4-1.1 0.6-1.6 2.6 0.1 0.7 1.8-1.0 1.3zM14.4 82.9l-2.0 0.3-0.5-0.6 0.1-1.0 1.6 0.2 0.9 0.7zM20.9 81.2l0.1 2.1-2.0 0.6-3.0 0.0 0.2-1.2 0.4-1.3 2.2-0.6zM26.5 84.1l-0.9 1.2-3.8 0.2 0.2-2.4zM26.9 80.8l2.1 1.8-1.5 1.8-1.9-2.1zM29.2 82.1l0.2-1.7 1.2-0.3 1.6 1.0-0.2 1.2-0.3 0.7-1.8 0.2zM38.7 79.6l0.6 1.7-0.7 1.1-1.9-1.5zM45.4 82.5l-1.6 0.2-1.8-1.3 1.7-0.8 2.0-0.4 1.1 1.2zM48.0 82.6l-2.6 1.4-2.2-1.9 3.3-1.1zM47.8 84.7l-1.0-2.0 2.0-0.7 1.3 0.8-1.1 1.9zM54.7 84.0l-1.3-0.9 1.3-1.8 1.9-0.3 1.0 0.5 0.5 1.8zM56.4 82.3l-1.3-0.4 0.0-1.4 2.5-0.3 1.2 1.7zM59.4 81.7l3.3 0.5 1.4 0.5-1.5 0.9-2.1 0.6-1.3-1.5zM65.3 84.5l1.0-1.3 1.7-0.3 1.4 0.9 0.2 1.3-1.7 0.6-1.7-0.4zM72.5 81.7l0.8 0.2 0.5 0.8 0.1 0.6-1.2 0.7-0.7-0.4 0-0.9zM75.3 82.0l1.6-0.8 2.5 1.0-1.5 1.4-2.0-0.1zM78.2 82.3l0.3-2.1 2.0 0.2-0.4 2.0zM86.3 82.8l-1.0-0.9 2.1-1.1 0.8 0.7-0.4 1.3zM89.7 85.2l-3.3-2.2 1.9-1.5 3.2 0.8zM93.8 83.3l-1.1-0.8 1.0-0.8 1.4 0.1 0.5 0.5-0.5 0.7zM99.2 84.2l-0.1 0.9-3.0 0.0-1.7-0.8-0.8-0.9 2.7-0.3 1.9-0.2zM0.2 85.8l1.6 0.7-0.7 1.3-2.0-0.9zM5.5 87.8l-2.5 0.5-0.8-0.8 1.2-1.3 1.2-0.4 1.4 1.2zM8.1 88.9l-3.9-1.3 1.0-2.6 3.6 0.4zM9.6 88.8l-1.4-0.8 0.6-2.1 2.6 1.5zM18.7 87.1l-2.1 1.6-2.7-0.6-1.0-1.4 0.6-1.2 3.1 0.4zM19.1 87.9l1.4-2.6 2.6 0.6 0.0 2.2zM25.9 89.0l-3.8-0.1-0.8-1.4 1.9-0.8 3.0 0.9zM29.1 85.4l0.1 1.4-2.0 0.0-1.6-1.2 2.2-0.5zM33.2 87.6l-3.1 1.9-2.1-1.7 3.2-1.7zM36.8 83.6l2.2 0.8-0.4 0.9-0.4 1.3-2.3 1.2-0.4-1.6-0.2-2.4zM41.7 88.1l0.9-2.2 2.3 1.1-1.0 2.1zM47.9 86.5l2.5-0.2 1.3 1.1-2.0 1.5-2.4-0.6zM57.7 87.6l-1.9 1.0-1.4-0.7-0.3-1.0 2.2-0.6zM57.8 83.4l2.2 0.9 0.5 0.5-1.0 1.4-1.7 0-0.9-0.3-1.0-1.0zM58.3 85.1l4.5 0.1-1.2 1.6-3.2 0.6zM66.1 88.1l-1.1-0.2-0.5-1.0 1.1-1.2 1.5 0.4 0.9 0.9-0.2 0.4zM66.5 82.7l1.8 0.3 0.4 1.8-0.7 1.9-1.9-0.8-0.2-1.5zM74.0 87.4l-1.2 1.3-1.9-0.9 0.9-1.7zM76.7 87.2l-1.3 0.6-2.5-1.5 0.7-1.7 3.6 0.5zM82.0 86.3l-0.2 1.9-2.0 1.1-1.9-0.9-0.1-2.3 2.3-1.3zM80.7 86.9l1.2-0.6 3.0 0.0 0.1 0.8 0.0 0.6-1.8 0.9-1.3-0.7zM85.9 87.7l-3.0-1.2 1.7-1.0 1.6 0.6zM87.5 87.2l3.1-0.7 1.0 2.0-2.8 0.5zM96.7 88.2l-2.2 0.1-1.6-0.2 0.7-1.5 1.3-0.7 2.2-0.1 0.1 1.1zM3.2 92.4l-0.6-1.5 1.0-1.1 2.1 1.1 0.0 1.6zM7.6 89.5l-0.5 1.5-1.5-0.3 0.6-1.5zM7.5 90.5l0.2-1.6 0.1-2.1 2.1-0.2 2.4 1.8-0.8 1.7-2.1 0.6zM17.4 92.5l-3.0 0.1-0.3-1.9 2.5-0.1 1.7 0.9zM18.1 92.4l-0.9-1.4 0.3-1.5 2.2-0.2 1.5 0.8 0.6 1.2-1.7 1.2zM22.3 88.0l0.8 0.8-0.1 0.9-1.1 1.0-1.9-0.8-0.4-1.4 1.2-0.5zM24.7 89.4l0.9 1.3-1.1 1.1-2.1-0.3 0.1-1.7zM28.7 90.9l-1.3-0.7-1.2-0.7 2.8-1.7 1.9-0.1 1.6 1.4-1.4 1.9zM34.0 89.0l-0.5 1.7-3.5-0.2-1.8-1.2 2.3-1.8 2.2 0.3zM37.0 90.8l-0.9 0.9-2.5 0.2-1.0-1.6 1.8-0.5zM39.2 88.9l1.1-0.2 1.3 0.2 1.2 0.5-0.9 0.8-1.5 0-1.6-0.5zM41.3 89.3l1.6-0.1 0.9 0.9-0.6 0.6-1.0 0.4-1.8-0.3 0.2-0.7zM45.3 90.0l-0.2-1.5 1.0-1.5 1.4 0.1 1.0 1.1-0.6 1.1-1.0 0.7zM50.8 89.2l0.7 2.6-1.4 0.7-2.2-0.9-0.6-2.3 1.3-1.0zM55.4 89.1l2.4 2.8-3.1 1.3-0.9-1.7zM57.0 90.0l1.5-0.3 1.5 0.6-0.2 1.1-1.3 0.4-1.2-0.9zM64.1 91.0l-2.0 0.8-1.3-0.5 0.7-0.8 1.7-0.1zM65.1 87.2l1.8 1.2 1.1 1.7-0.6 1.0-2.1 0.7-2.2-1.2 1.0-1.8zM68.5 89.2l1.7 1.0 0.0 1.8-1.6 0.4-1.4-2.1zM73.5 91.0l-2.1 0.2-0.8-0.7 1.7-1.2 1.1 0.8zM75.8 89.9l1.9 0.7 0.9 1.1-1.0 1.4-2.1-0.3-1.0-0.5-0.7-1.8zM77.9 90.9l3.1-1.0 1.2 1.8-2.8 0.0zM84.4 89.3l-3.0 2.4-2.2-1.8 2.6-1.8zM85.9 88.5l2.0-0.2 0.9 0.8-1.4 1.4-1.6-0.8zM90.2 92.1l-2.4 0.4 0.5-1.6 1.8 0.3zM92.6 88.1l4.9-0.1 0.3 1.6-3.2 1.6-3.3-1.2zM94.8 90.0l1.9-1.3 0.9 2.2-1.4 0.5zM1.8 94.4l-2.5-0.1-1.5-2.7 2.1-0.8 3.3 0.5 1.3 1.4zM2.6 91.9l2.7-1.3 1.8 1.4-2.5 1.9zM7.8 93.7l-1.2 0.3-0.7 0.0-0.9-1.3-0.4-1.1 2.3-0.5 1.6 0.7zM12.6 93.9l-3.8-1.3 3.5-1.4 3.3 1.5zM13.0 95.1l1.6-1.5 0.9 0.2 0.9 0.4-0.1 1.2-0.8 0.8-1.7-0.4zM19.3 96.4l-2.1-0.3-0.7-1.6 1.9-0.8zM18.7 94.0l0.7-1.9 1.3-0.6 2.4 1.1-0.1 1.4-2.6 0.4zM24.2 91.2l3.2 0.3-0.2 1.1-1.9 1.4-2.2-0.4-1.7-1.8zM28.3 93.5l-0.6-1.1-0.4-1.2 1.8-0.3 1.3 0.5 0.3 0.8-1.4 1.4zM30.5 93.0l2.3-0.7 1.1 1.2-0.4 1.0-1.3 1.1-1.9-1.2zM40.9 91.5l0.6 2.5-1.9 1.2-1.6-0.8 0.1-2.2zM44.3 91.6l1.1 1.5-2.3 0.7-1.4-1.1 0.9-1.0zM45.8 93.1l1.4 0.8 0.4 1.6-2.0 0.9-1.4-1.2 0.8-1.1zM51.9 94.2l-2.5 0.4-2.8-0.3 1.1-2.2 2.5 0.3zM54.4 94.7l-1.6-0.8 0.1-1.8 1.3 0 1.2 0.9zM61.4 91.2l2.3 0.5 0.5 1.4-1.7 1.5-2.5-0.4 0.2-1.9zM64.9 92.6l0.3 0.4-0.5 0.6-1.1 0.1-1.9-0.5 0-0.4 1.5-0.5zM67.4 90.9l3.1 0.2 1.5-0.2-0.5 1.9-0.2 0.8-4.4 0.0 0.2-1.2zM69.4 92.8l0.8-0.7 1.2-0.5 1.2 1.1 0 0.4-1.0 0.6-1.3-0.1zM82.2 93.4l-0.4-1.5 0.7-0.9 1.5 0.1 0.4 1.9-1.1 1.0zM86.4 93.6l-0.7 0.2-1.1-0.9 0.6-1.7 1.4 0.4 0.7 0.7zM88.6 92.3l3.2-0.6 2.4 1.3-0.3 1.1-4.3 0.4-3.1-0.8zM98.0 94.0l-1.0 0.8-1.3 0.6-3.0-0.5 0.4-1.1 0.5-0.9 2.3-0.2zM97.3 93.3l2.0 1.3-2.0 2.0-2.1-0.6-1.1-2.0zM33.1 97.7l-2.5-1.1 2.6-1.8 3.7 1.1zM43.6 97.6l-1.9-0.4-1.5-1.6 2.5-1.1 1.9 0.1 0.7 0.9-0.2 1.3zM47.4 93.9l1.0 1.9-0.3 1.6-3.4 0.1-1.3-2.8zM54.4 95.1l2.0-0.2 0.5 1.2-1.4 0.2-1.6-0.4zM70.0 94.9l0.4 1.8-1.0 0.5-1.5 0.1 0.1-1.8 0.8-0.7zM76.7 94.3l1.5 0.8-1.2 1.4-1.8 0-1.3-0.8 1.5-0.8z"/><rect width="100%" height="100%" fill="none" stroke="#000" stroke-width="2"/></svg>
<path d="M65 239v13" stroke="#333" stroke-width="1.2" stroke-dasharray="1 1"/>
<rect x="163.9" y="39.4" width="340.4" height="268.8" fill="none" stroke="#606060" stroke-width="1.15"/>
<path d="M164.00 308.3v-3M164.00 39.2v3M206.56 308.3v-3M206.56 39.2v3M249.12 308.3v-3M249.12 39.2v3M291.68 308.3v-3M291.68 39.2v3M334.24 308.3v-3M334.24 39.2v3M376.80 308.3v-3M376.80 39.2v3M419.36 308.3v-3M419.36 39.2v3M461.92 308.3v-3M461.92 39.2v3M504.48 308.3v-3M504.48 39.2v3M164 308.30h3M504.5 308.30h-3M164 263.45h3M504.5 263.45h-3M164 218.60h3M504.5 218.60h-3M164 173.75h3M504.5 173.75h-3M164 128.90h3M504.5 128.90h-3M164 84.05h3M504.5 84.05h-3M164 39.20h3M504.5 39.20h-3" stroke="#555" stroke-width="1"/>
<g fill="#000092" stroke="#000" stroke-width="0.6"><rect x="175.10" y="290.36" width="34.76" height="17.94"/><rect x="209.86" y="254.48" width="34.76" height="53.82"/><rect x="244.62" y="191.69" width="34.76" height="116.61"/><rect x="279.38" y="155.81" width="34.76" height="152.49"/><rect x="314.14" y="57.14" width="34.76" height="251.16"/><rect x="348.90" y="182.72" width="34.76" height="125.58"/><rect x="383.66" y="254.48" width="34.76" height="53.82"/><rect x="418.42" y="299.33" width="34.76" height="8.97"/></g>
<polyline points="168.0,305.59 170.0,305.24 172.0,304.86 174.0,304.44 176.0,303.97 178.0,303.46 180.0,302.89 182.0,302.26 184.0,301.57 186.0,300.82 188.0,300.00 190.0,299.10 192.0,298.12 194.0,297.05 196.0,295.89 198.0,294.64 200.0,293.28 202.0,291.82 204.0,290.24 206.0,288.54 208.0,286.73 210.0,284.78 212.0,282.69 214.0,280.47 216.0,278.11 218.0,275.60 220.0,272.94 222.0,270.12 224.0,267.15 226.0,264.01 228.0,260.72 230.0,257.27 232.0,253.65 234.0,249.88 236.0,245.95 238.0,241.86 240.0,237.62 242.0,233.23 244.0,228.70 246.0,224.03 248.0,219.24 250.0,214.33 252.0,209.31 254.0,204.19 256.0,198.98 258.0,193.71 260.0,188.38 262.0,183.00 264.0,177.60 266.0,172.19 268.0,166.79 270.0,161.41 272.0,156.08 274.0,150.81 276.0,145.63 278.0,140.55 280.0,135.60 282.0,130.79 284.0,126.15 286.0,121.70 288.0,117.44 290.0,113.41 292.0,109.62 294.0,106.09 296.0,102.83 298.0,99.86 300.0,97.20 302.0,94.85 304.0,92.83 306.0,91.15 308.0,89.81 310.0,88.82 312.0,88.19 314.0,87.92 316.0,88.01 318.0,88.46 320.0,89.27 322.0,90.43 324.0,91.94 326.0,93.80 328.0,95.98 330.0,98.49 332.0,101.31 334.0,104.43 336.0,107.82 338.0,111.49 340.0,115.40 342.0,119.54 344.0,123.90 346.0,128.45 348.0,133.18 350.0,138.06 352.0,143.08 354.0,148.21 356.0,153.44 358.0,158.74 360.0,164.09 362.0,169.49 364.0,174.90 366.0,180.30 368.0,185.69 370.0,191.05 372.0,196.36 374.0,201.60 376.0,206.76 378.0,211.83 380.0,216.80 382.0,221.65 384.0,226.38 386.0,230.98 388.0,235.44 390.0,239.75 392.0,243.92 394.0,247.93 396.0,251.79 398.0,255.48 400.0,259.01 402.0,262.39 404.0,265.60 406.0,268.65 408.0,271.55 410.0,274.29 412.0,276.87 414.0,279.31 416.0,281.60 418.0,283.75 420.0,285.77 422.0,287.65 424.0,289.41 426.0,291.04 428.0,292.56 430.0,293.97 432.0,295.28 434.0,296.48 436.0,297.59 438.0,298.62 440.0,299.56 442.0,300.42 444.0,301.20 446.0,301.92 448.0,302.58 450.0,303.18 452.0,303.72 454.0,304.21 456.0,304.66 458.0,305.06 460.0,305.42 462.0,305.75" fill="none" stroke="#ff0000" stroke-width="2.4"/>
<g font-family="Liberation Sans, Arial, sans-serif" font-size="10" fill="#000" stroke="#000" stroke-width="0.2">
<g text-anchor="middle"><text transform="translate(164.00 321.2) scale(1.08 1)">0.6</text><text transform="translate(206.56 321.2) scale(1.08 1)">0.7</text><text transform="translate(249.12 321.2) scale(1.08 1)">0.8</text><text transform="translate(291.68 321.2) scale(1.08 1)">0.9</text><text transform="translate(334.24 321.2) scale(1.08 1)">1</text><text transform="translate(376.80 321.2) scale(1.08 1)">1.1</text><text transform="translate(419.36 321.2) scale(1.08 1)">1.2</text><text transform="translate(461.92 321.2) scale(1.08 1)">1.3</text><text transform="translate(504.48 321.2) scale(1.08 1)">1.4</text></g>
<g text-anchor="end"><text transform="translate(161.3 312.70) scale(1.08 1)">0</text><text transform="translate(161.3 267.85) scale(1.08 1)">5</text><text transform="translate(161.3 223.00) scale(1.08 1)">10</text><text transform="translate(161.3 178.15) scale(1.08 1)">15</text><text transform="translate(161.3 133.30) scale(1.08 1)">20</text><text transform="translate(161.3 88.45) scale(1.08 1)">25</text><text transform="translate(161.3 43.60) scale(1.08 1)">30</text></g>
<text transform="translate(475 337.2) scale(1.12 1)" font-size="9">x 10</text>
<text transform="translate(493.3 331) scale(1.05 1)" font-size="6.6">&#8722;10</text>
<text x="344" y="345.3" font-size="12" text-anchor="middle">permeability (m<tspan font-size="8" dy="-4.5">2</tspan><tspan dy="4.5">)</tspan></text>
</g>
</svg>
</body></html>
